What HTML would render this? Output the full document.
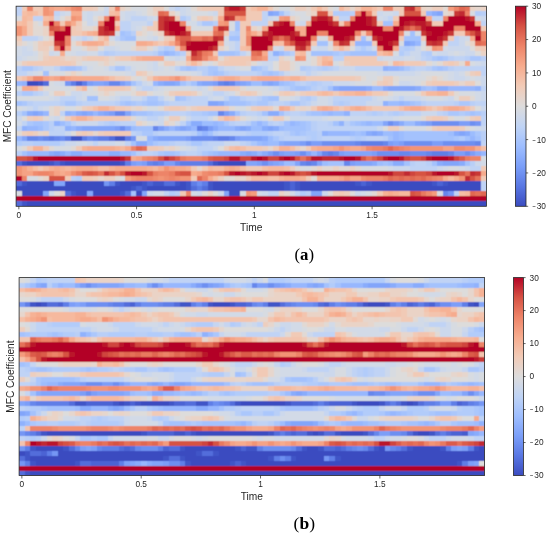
<!DOCTYPE html>
<html><head><meta charset="utf-8"><title>MFC Coefficient</title>
<style>
html,body{margin:0;padding:0;background:#fff}
svg{display:block}
text{font-family:"Liberation Sans",sans-serif;fill:#262626}
.cap{font-family:"Liberation Serif",serif;fill:#000}
</style></head><body>
<svg width="550" height="537" viewBox="0 0 550 537">
<defs><linearGradient id="cw" x1="0" y1="0" x2="0" y2="1"><stop offset="0" stop-color="#b40426"/><stop offset="0.1" stop-color="#d65244"/><stop offset="0.2" stop-color="#ee8468"/><stop offset="0.3" stop-color="#f7ac8e"/><stop offset="0.4" stop-color="#f2cbb7"/><stop offset="0.5" stop-color="#dddcdc"/><stop offset="0.6" stop-color="#c0d4f5"/><stop offset="0.7" stop-color="#9ebeff"/><stop offset="0.8" stop-color="#7b9ff9"/><stop offset="0.9" stop-color="#5977e3"/><stop offset="1" stop-color="#3b4cc0"/></linearGradient>
<filter id="bl" x="-2%" y="-5%" width="104%" height="110%"><feConvolveMatrix order="3" kernelMatrix="1 3 1 3 9 3 1 3 1" divisor="25" edgeMode="duplicate" preserveAlpha="true"/></filter>
<clipPath id="ca"><rect x="16.1" y="6.2" width="470.3" height="200.1"/></clipPath>
<clipPath id="cb"><rect x="19.1" y="277.6" width="465.5" height="197.9"/></clipPath>
</defs>
<rect width="550" height="537" fill="#fff"/>
<g clip-path="url(#ca)"><g shape-rendering="crispEdges" filter="url(#bl)">
<path fill="#3a4cc0" d="M27.04 81.24H37.97V86.24H27.04zM27.04 161.28H48.91V166.28H27.04zM65.32 161.28H120V166.28H65.32zM218.44 161.28H245.78V166.28H218.44zM27.04 181.29H54.38V186.29H27.04zM65.32 181.29H103.6V186.29H65.32zM120 181.29H141.88V186.29H120zM180.16 181.29H185.63V186.29H180.16zM212.97 181.29H284.06V186.29H212.97zM300.47 181.29H355.15V186.29H300.47zM371.56 181.29H431.71V186.29H371.56zM448.12 181.29H480.93V186.29H448.12zM13.1 186.29H130.94V191.29H13.1zM147.35 186.29H185.63V191.29H147.35zM212.97 186.29H284.06V191.29H212.97zM300.47 186.29H480.93V191.29H300.47zM21.57 191.29H43.44V196.3H21.57zM76.25 191.29H87.19V196.3H76.25zM92.66 191.29H120V196.3H92.66zM136.41 191.29H141.88V196.3H136.41zM229.38 191.29H240.31V196.3H229.38zM27.04 201.3H489.4V209.3H27.04z"/>
<path fill="#4054c7" d="M37.97 81.24H43.44V86.24H37.97zM70.79 136.26H81.72V141.27H70.79zM114.53 136.26H125.47V141.27H114.53zM21.57 161.28H27.04V166.28H21.57zM48.91 161.28H54.38V166.28H48.91zM59.85 161.28H65.32V166.28H59.85zM120 161.28H125.47V166.28H120zM212.97 161.28H218.44V166.28H212.97zM21.57 181.29H27.04V186.29H21.57zM114.53 181.29H120V186.29H114.53zM141.88 181.29H147.35V186.29H141.88zM152.82 181.29H163.75V186.29H152.82zM174.69 181.29H180.16V186.29H174.69zM185.63 181.29H191.1V186.29H185.63zM207.5 181.29H212.97V186.29H207.5zM284.06 181.29H289.53V186.29H284.06zM295 181.29H300.47V186.29H295zM355.15 181.29H360.62V186.29H355.15zM366.09 181.29H371.56V186.29H366.09zM431.71 181.29H437.18V186.29H431.71zM442.65 181.29H448.12V186.29H442.65zM130.94 186.29H136.41V191.29H130.94zM141.88 186.29H147.35V191.29H141.88zM185.63 186.29H191.1V191.29H185.63zM207.5 186.29H212.97V191.29H207.5zM284.06 186.29H289.53V191.29H284.06zM295 186.29H300.47V191.29H295zM70.79 191.29H76.25V196.3H70.79zM120 191.29H125.47V196.3H120zM21.57 201.3H27.04V209.3H21.57z"/>
<path fill="#4b64d4" d="M76.25 81.24H81.72V86.24H76.25zM54.38 161.28H59.85V166.28H54.38zM147.35 181.29H152.82V186.29H147.35zM289.53 181.29H295V186.29H289.53zM360.62 181.29H366.09V186.29H360.62zM437.18 181.29H442.65V186.29H437.18zM136.41 186.29H141.88V191.29H136.41zM289.53 186.29H295V191.29H289.53z"/>
<path fill="#526ddb" d="M43.44 81.24H48.91V86.24H43.44zM109.07 136.26H114.53V141.27H109.07zM13.1 161.28H21.57V166.28H13.1zM207.5 161.28H212.97V166.28H207.5zM13.1 181.29H21.57V186.29H13.1zM163.75 181.29H174.69V186.29H163.75zM191.1 186.29H196.56V191.29H191.1zM202.03 186.29H207.5V191.29H202.03zM65.32 191.29H70.79V196.3H65.32zM125.47 191.29H130.94V196.3H125.47zM13.1 201.3H21.57V209.3H13.1z"/>
<path fill="#5f7ee7" d="M70.79 81.24H76.25V86.24H70.79zM81.72 81.24H87.19V86.24H81.72zM223.91 81.24H229.38V86.24H223.91zM196.56 126.26H202.03V131.26H196.56zM48.91 136.26H54.38V141.27H48.91zM65.32 136.26H70.79V141.27H65.32zM81.72 136.26H87.19V141.27H81.72zM98.13 136.26H109.07V141.27H98.13zM125.47 136.26H130.94V141.27H125.47zM218.44 136.26H229.38V141.27H218.44zM360.62 141.27H382.5V146.27H360.62zM327.81 151.27H333.28V156.28H327.81zM431.71 151.27H448.12V156.28H431.71zM125.47 161.28H130.94V166.28H125.47zM152.82 161.28H158.28V166.28H152.82zM180.16 161.28H207.5V166.28H180.16zM305.94 161.28H311.4V166.28H305.94zM109.07 181.29H114.53V186.29H109.07zM191.1 181.29H196.56V186.29H191.1zM202.03 181.29H207.5V186.29H202.03zM196.56 186.29H202.03V191.29H196.56z"/>
<path fill="#6687ec" d="M109.07 81.24H120V86.24H109.07zM218.44 81.24H223.91V86.24H218.44zM229.38 81.24H234.84V86.24H229.38zM114.53 111.25H125.47V116.26H114.53zM218.44 111.25H223.91V116.26H218.44zM152.82 126.26H158.28V131.26H152.82zM202.03 126.26H207.5V131.26H202.03zM27.04 136.26H37.97V141.27H27.04zM43.44 136.26H48.91V141.27H43.44zM54.38 136.26H59.85V141.27H54.38zM92.66 136.26H98.13V141.27H92.66zM212.97 136.26H218.44V141.27H212.97zM229.38 136.26H234.84V141.27H229.38zM355.15 141.27H360.62V146.27H355.15zM382.5 141.27H387.97V146.27H382.5zM475.46 141.27H480.93V146.27H475.46zM322.34 151.27H327.81V156.28H322.34zM333.28 151.27H338.75V156.28H333.28zM398.9 151.27H409.84V156.28H398.9zM426.25 151.27H431.71V156.28H426.25zM448.12 151.27H453.59V156.28H448.12zM147.35 161.28H152.82V166.28H147.35zM158.28 161.28H163.75V166.28H158.28zM174.69 161.28H180.16V166.28H174.69zM300.47 161.28H305.94V166.28H300.47zM311.4 161.28H316.87V166.28H311.4zM344.22 161.28H349.68V166.28H344.22zM442.65 191.29H448.12V196.3H442.65z"/>
<path fill="#6d8ff1" d="M387.97 121.26H393.43V126.26H387.97zM431.71 121.26H459.06V126.26H431.71zM469.99 121.26H475.46V126.26H469.99zM120 126.26H125.47V131.26H120zM37.97 136.26H43.44V141.27H37.97zM59.85 136.26H65.32V141.27H59.85zM87.19 136.26H92.66V141.27H87.19zM191.1 136.26H212.97V141.27H191.1zM305.94 141.27H311.4V146.27H305.94zM322.34 141.27H355.15V146.27H322.34zM404.37 141.27H431.71V146.27H404.37zM442.65 141.27H475.46V146.27H442.65zM273.12 151.27H278.59V156.28H273.12zM300.47 151.27H305.94V156.28H300.47zM377.03 151.27H398.9V156.28H377.03zM409.84 151.27H426.25V156.28H409.84zM464.53 151.27H469.99V156.28H464.53zM262.19 161.28H267.66V166.28H262.19zM196.56 181.29H202.03V186.29H196.56z"/>
<path fill="#7496f4" d="M65.32 81.24H70.79V86.24H65.32zM475.46 121.26H480.93V126.26H475.46zM130.94 136.26H136.41V141.27H130.94zM103.6 181.29H109.07V186.29H103.6zM448.12 191.29H453.59V196.3H448.12z"/>
<path fill="#7b9ef8" d="M87.19 81.24H92.66V86.24H87.19zM103.6 81.24H109.07V86.24H103.6zM120 81.24H125.47V86.24H120zM212.97 81.24H218.44V86.24H212.97zM234.84 81.24H240.31V86.24H234.84zM109.07 111.25H114.53V116.26H109.07zM223.91 111.25H229.38V116.26H223.91zM393.43 121.26H398.9V126.26H393.43zM426.25 121.26H431.71V126.26H426.25zM459.06 121.26H469.99V126.26H459.06zM114.53 126.26H120V131.26H114.53zM158.28 126.26H163.75V131.26H158.28zM207.5 126.26H212.97V131.26H207.5zM185.63 136.26H191.1V141.27H185.63zM234.84 136.26H240.31V141.27H234.84zM300.47 141.27H305.94V146.27H300.47zM311.4 141.27H322.34V146.27H311.4zM387.97 141.27H393.43V146.27H387.97zM398.9 141.27H404.37V146.27H398.9zM431.71 141.27H442.65V146.27H431.71zM267.66 151.27H273.12V156.28H267.66zM278.59 151.27H284.06V156.28H278.59zM295 151.27H300.47V156.28H295zM338.75 151.27H344.22V156.28H338.75zM371.56 151.27H377.03V156.28H371.56zM453.59 151.27H464.53V156.28H453.59zM469.99 151.27H475.46V156.28H469.99zM130.94 161.28H136.41V166.28H130.94zM141.88 161.28H147.35V166.28H141.88zM163.75 161.28H174.69V166.28H163.75zM256.72 161.28H262.19V166.28H256.72zM267.66 161.28H273.12V166.28H267.66zM349.68 161.28H355.15V166.28H349.68z"/>
<path fill="#82a5fa" d="M267.66 11.2H273.12V16.21H267.66zM437.18 11.2H442.65V16.21H437.18zM404.37 41.22H409.84V46.22H404.37zM92.66 81.24H103.6V86.24H92.66zM163.75 81.24H174.69V86.24H163.75zM202.03 81.24H212.97V86.24H202.03zM240.31 81.24H245.78V86.24H240.31zM267.66 81.24H273.12V86.24H267.66zM338.75 86.24H366.09V91.24H338.75zM387.97 86.24H415.31V91.24H387.97zM207.5 101.25H218.44V106.25H207.5zM32.51 111.25H37.97V116.26H32.51zM81.72 111.25H87.19V116.26H81.72zM103.6 111.25H109.07V116.26H103.6zM125.47 111.25H130.94V116.26H125.47zM382.5 121.26H387.97V126.26H382.5zM420.78 121.26H426.25V126.26H420.78zM81.72 126.26H114.53V131.26H81.72zM125.47 126.26H130.94V131.26H125.47zM180.16 126.26H185.63V131.26H180.16zM240.31 126.26H245.78V131.26H240.31zM267.66 126.26H273.12V131.26H267.66zM371.56 131.26H377.03V136.26H371.56zM459.06 131.26H464.53V136.26H459.06zM21.57 136.26H27.04V141.27H21.57zM158.28 136.26H185.63V141.27H158.28zM240.31 136.26H262.19V141.27H240.31zM284.06 141.27H300.47V146.27H284.06zM393.43 141.27H398.9V146.27H393.43zM54.38 151.27H59.85V156.28H54.38zM245.78 151.27H251.25V156.28H245.78zM284.06 151.27H295V156.28H284.06zM305.94 151.27H311.4V156.28H305.94zM316.87 151.27H322.34V156.28H316.87zM344.22 151.27H371.56V156.28H344.22zM136.41 161.28H141.88V166.28H136.41zM245.78 161.28H256.72V166.28H245.78zM273.12 161.28H278.59V166.28H273.12zM295 161.28H300.47V166.28H295zM316.87 161.28H322.34V166.28H316.87zM355.15 161.28H371.56V166.28H355.15zM442.65 161.28H459.06V166.28H442.65zM54.38 181.29H65.32V186.29H54.38zM43.44 191.29H48.91V196.3H43.44zM87.19 191.29H92.66V196.3H87.19zM141.88 191.29H147.35V196.3H141.88zM223.91 191.29H229.38V196.3H223.91zM311.4 191.29H322.34V196.3H311.4z"/>
<path fill="#89acfc" d="M273.12 11.2H278.59V16.21H273.12zM431.71 11.2H437.18V16.21H431.71zM409.84 41.22H415.31V46.22H409.84zM125.47 81.24H130.94V86.24H125.47zM158.28 81.24H163.75V86.24H158.28zM174.69 81.24H180.16V86.24H174.69zM196.56 81.24H202.03V86.24H196.56zM245.78 81.24H251.25V86.24H245.78zM262.19 81.24H267.66V86.24H262.19zM273.12 81.24H278.59V86.24H273.12zM333.28 86.24H338.75V91.24H333.28zM366.09 86.24H371.56V91.24H366.09zM382.5 86.24H387.97V91.24H382.5zM415.31 86.24H420.78V91.24H415.31zM437.18 86.24H448.12V91.24H437.18zM218.44 101.25H223.91V106.25H218.44zM27.04 111.25H32.51V116.26H27.04zM37.97 111.25H43.44V116.26H37.97zM76.25 111.25H81.72V116.26H76.25zM87.19 111.25H92.66V116.26H87.19zM98.13 111.25H103.6V116.26H98.13zM229.38 111.25H234.84V116.26H229.38zM267.66 111.25H278.59V116.26H267.66zM191.1 121.26H202.03V126.26H191.1zM398.9 121.26H404.37V126.26H398.9zM415.31 121.26H420.78V126.26H415.31zM76.25 126.26H81.72V131.26H76.25zM163.75 126.26H169.22V131.26H163.75zM174.69 126.26H180.16V131.26H174.69zM185.63 126.26H191.1V131.26H185.63zM212.97 126.26H218.44V131.26H212.97zM234.84 126.26H240.31V131.26H234.84zM245.78 126.26H251.25V131.26H245.78zM262.19 126.26H267.66V131.26H262.19zM273.12 126.26H278.59V131.26H273.12zM366.09 131.26H371.56V136.26H366.09zM377.03 131.26H382.5V136.26H377.03zM453.59 131.26H459.06V136.26H453.59zM464.53 131.26H469.99V136.26H464.53zM152.82 136.26H158.28V141.27H152.82zM262.19 136.26H267.66V141.27H262.19zM136.41 141.27H147.35V146.27H136.41zM278.59 141.27H284.06V146.27H278.59zM48.91 151.27H54.38V156.28H48.91zM59.85 151.27H65.32V156.28H59.85zM70.79 151.27H81.72V156.28H70.79zM109.07 151.27H120V156.28H109.07zM240.31 151.27H245.78V156.28H240.31zM251.25 151.27H256.72V156.28H251.25zM262.19 151.27H267.66V156.28H262.19zM475.46 151.27H480.93V156.28H475.46zM278.59 161.28H284.06V166.28H278.59zM371.56 161.28H377.03V166.28H371.56zM393.43 161.28H404.37V166.28H393.43zM437.18 161.28H442.65V166.28H437.18zM459.06 161.28H464.53V166.28H459.06z"/>
<path fill="#90b2fd" d="M273.12 51.22H278.59V56.23H273.12zM382.5 66.23H387.97V71.23H382.5zM21.57 81.24H27.04V86.24H21.57zM475.46 86.24H480.93V91.24H475.46zM382.5 101.25H387.97V106.25H382.5zM65.32 111.25H70.79V116.26H65.32zM344.22 111.25H349.68V116.26H344.22zM54.38 121.26H59.85V126.26H54.38zM338.75 121.26H344.22V126.26H338.75zM21.57 126.26H27.04V131.26H21.57zM65.32 126.26H70.79V131.26H65.32zM322.34 131.26H327.81V136.26H322.34z"/>
<path fill="#97b7fe" d="M426.25 11.2H431.71V16.21H426.25zM355.15 41.22H371.56V46.22H355.15zM415.31 41.22H420.78V46.22H415.31zM163.75 51.22H169.22V56.23H163.75zM387.97 66.23H398.9V71.23H387.97zM13.1 81.24H21.57V86.24H13.1zM152.82 81.24H158.28V86.24H152.82zM448.12 86.24H475.46V91.24H448.12zM398.9 101.25H404.37V106.25H398.9zM43.44 111.25H48.91V116.26H43.44zM70.79 111.25H76.25V116.26H70.79zM92.66 111.25H98.13V116.26H92.66zM327.81 111.25H333.28V116.26H327.81zM212.97 121.26H218.44V126.26H212.97zM256.72 121.26H262.19V126.26H256.72zM289.53 121.26H295V126.26H289.53zM366.09 121.26H371.56V126.26H366.09zM27.04 126.26H37.97V131.26H27.04zM70.79 126.26H76.25V131.26H70.79zM169.22 126.26H174.69V131.26H169.22zM191.1 126.26H196.56V131.26H191.1zM218.44 126.26H234.84V131.26H218.44zM202.03 131.26H207.5V136.26H202.03zM327.81 131.26H349.68V136.26H327.81zM393.43 131.26H398.9V136.26H393.43zM13.1 136.26H21.57V141.27H13.1zM147.35 136.26H152.82V141.27H147.35zM393.43 136.26H398.9V141.27H393.43zM469.99 136.26H475.46V141.27H469.99zM262.19 141.27H267.66V146.27H262.19zM27.04 151.27H48.91V156.28H27.04zM65.32 151.27H70.79V156.28H65.32zM81.72 151.27H109.07V156.28H81.72zM120 151.27H130.94V156.28H120zM218.44 151.27H240.31V156.28H218.44zM256.72 151.27H262.19V156.28H256.72zM311.4 151.27H316.87V156.28H311.4zM480.93 151.27H489.4V156.28H480.93z"/>
<path fill="#9dbdfe" d="M169.22 51.22H174.69V56.23H169.22zM278.59 51.22H284.06V56.23H278.59zM398.9 66.23H404.37V71.23H398.9zM251.25 81.24H262.19V86.24H251.25zM278.59 81.24H284.06V86.24H278.59zM371.56 86.24H382.5V91.24H371.56zM420.78 86.24H426.25V91.24H420.78zM431.71 86.24H437.18V91.24H431.71zM223.91 101.25H229.38V106.25H223.91zM387.97 101.25H398.9V106.25H387.97zM404.37 101.25H409.84V106.25H404.37zM130.94 111.25H136.41V116.26H130.94zM322.34 111.25H327.81V116.26H322.34zM333.28 111.25H344.22V116.26H333.28zM59.85 121.26H65.32V126.26H59.85zM202.03 121.26H212.97V126.26H202.03zM218.44 121.26H223.91V126.26H218.44zM295 121.26H300.47V126.26H295zM360.62 121.26H366.09V126.26H360.62zM371.56 121.26H382.5V126.26H371.56zM404.37 121.26H415.31V126.26H404.37zM37.97 126.26H43.44V131.26H37.97zM130.94 126.26H136.41V131.26H130.94zM251.25 126.26H262.19V131.26H251.25zM278.59 126.26H284.06V131.26H278.59zM349.68 131.26H355.15V136.26H349.68zM360.62 131.26H366.09V136.26H360.62zM382.5 131.26H393.43V136.26H382.5zM398.9 131.26H404.37V136.26H398.9zM448.12 131.26H453.59V136.26H448.12zM469.99 131.26H475.46V136.26H469.99zM267.66 136.26H273.12V141.27H267.66zM398.9 136.26H404.37V141.27H398.9zM147.35 141.27H152.82V146.27H147.35zM256.72 141.27H262.19V146.27H256.72zM267.66 141.27H278.59V146.27H267.66zM212.97 151.27H218.44V156.28H212.97zM284.06 161.28H295V166.28H284.06zM322.34 161.28H327.81V166.28H322.34zM377.03 161.28H382.5V166.28H377.03zM387.97 161.28H393.43V166.28H387.97z"/>
<path fill="#a4c2fd" d="M278.59 11.2H284.06V16.21H278.59zM234.84 21.21H240.31V26.21H234.84zM382.5 21.21H393.43V26.21H382.5zM234.84 26.21H240.31V31.21H234.84zM120 31.21H125.47V36.22H120zM409.84 31.21H415.31V36.22H409.84zM125.47 36.22H136.41V41.22H125.47zM229.38 36.22H240.31V41.22H229.38zM360.62 36.22H366.09V41.22H360.62zM404.37 36.22H420.78V41.22H404.37zM316.87 41.22H327.81V46.22H316.87zM158.28 51.22H163.75V56.23H158.28zM218.44 51.22H234.84V56.23H218.44zM311.4 51.22H333.28V56.23H311.4zM349.68 51.22H377.03V56.23H349.68zM437.18 56.23H442.65V61.23H437.18zM65.32 66.23H76.25V71.23H65.32zM185.63 66.23H191.1V71.23H185.63zM251.25 66.23H256.72V71.23H251.25zM437.18 66.23H442.65V71.23H437.18zM43.44 71.23H48.91V76.24H43.44zM212.97 71.23H218.44V76.24H212.97zM267.66 71.23H273.12V76.24H267.66zM130.94 81.24H136.41V86.24H130.94zM180.16 81.24H185.63V86.24H180.16zM191.1 81.24H196.56V86.24H191.1zM284.06 81.24H289.53V86.24H284.06zM295 86.24H305.94V91.24H295zM327.81 86.24H333.28V91.24H327.81zM426.25 86.24H431.71V91.24H426.25zM87.19 96.25H98.13V101.25H87.19zM174.69 96.25H180.16V101.25H174.69zM267.66 96.25H278.59V101.25H267.66zM13.1 101.25H21.57V106.25H13.1zM125.47 101.25H130.94V106.25H125.47zM147.35 101.25H158.28V106.25H147.35zM229.38 101.25H245.78V106.25H229.38zM409.84 101.25H415.31V106.25H409.84zM21.57 111.25H27.04V116.26H21.57zM136.41 111.25H147.35V116.26H136.41zM207.5 111.25H218.44V116.26H207.5zM234.84 111.25H240.31V116.26H234.84zM262.19 111.25H267.66V116.26H262.19zM278.59 111.25H284.06V116.26H278.59zM311.4 111.25H322.34V116.26H311.4zM469.99 111.25H475.46V116.26H469.99zM32.51 121.26H43.44V126.26H32.51zM185.63 121.26H191.1V126.26H185.63zM251.25 121.26H256.72V126.26H251.25zM262.19 121.26H267.66V126.26H262.19zM284.06 121.26H289.53V126.26H284.06zM300.47 121.26H305.94V126.26H300.47zM333.28 121.26H338.75V126.26H333.28zM355.15 121.26H360.62V126.26H355.15zM136.41 126.26H152.82V131.26H136.41zM284.06 126.26H305.94V131.26H284.06zM196.56 131.26H202.03V136.26H196.56zM207.5 131.26H212.97V136.26H207.5zM295 131.26H300.47V136.26H295zM355.15 131.26H360.62V136.26H355.15zM404.37 131.26H448.12V136.26H404.37zM387.97 136.26H393.43V141.27H387.97zM404.37 136.26H453.59V141.27H404.37zM464.53 136.26H469.99V141.27H464.53zM475.46 136.26H480.93V141.27H475.46zM130.94 141.27H136.41V146.27H130.94zM21.57 151.27H27.04V156.28H21.57zM130.94 151.27H136.41V156.28H130.94zM163.75 151.27H174.69V156.28H163.75zM207.5 151.27H212.97V156.28H207.5zM327.81 161.28H344.22V166.28H327.81zM382.5 161.28H387.97V166.28H382.5zM404.37 161.28H409.84V166.28H404.37zM431.71 161.28H437.18V166.28H431.71zM464.53 161.28H469.99V166.28H464.53zM130.94 191.29H136.41V196.3H130.94z"/>
<path fill="#abc7fc" d="M202.03 21.21H212.97V26.21H202.03zM125.47 31.21H130.94V36.22H125.47zM120 36.22H125.47V41.22H120zM174.69 51.22H180.16V56.23H174.69zM234.84 51.22H240.31V56.23H234.84zM284.06 51.22H289.53V56.23H284.06zM333.28 51.22H338.75V56.23H333.28zM344.22 51.22H349.68V56.23H344.22zM431.71 56.23H437.18V61.23H431.71zM442.65 56.23H448.12V61.23H442.65zM469.99 56.23H480.93V61.23H469.99zM21.57 66.23H32.51V71.23H21.57zM59.85 66.23H65.32V71.23H59.85zM76.25 66.23H81.72V71.23H76.25zM114.53 66.23H125.47V71.23H114.53zM180.16 66.23H185.63V71.23H180.16zM191.1 66.23H196.56V71.23H191.1zM207.5 66.23H218.44V71.23H207.5zM256.72 66.23H262.19V71.23H256.72zM404.37 66.23H409.84V71.23H404.37zM431.71 66.23H437.18V71.23H431.71zM442.65 66.23H448.12V71.23H442.65zM207.5 71.23H212.97V76.24H207.5zM218.44 71.23H223.91V76.24H218.44zM262.19 71.23H267.66V76.24H262.19zM273.12 71.23H278.59V76.24H273.12zM289.53 81.24H295V86.24H289.53zM289.53 86.24H295V91.24H289.53zM305.94 86.24H311.4V91.24H305.94zM21.57 91.24H32.51V96.25H21.57zM147.35 96.25H158.28V101.25H147.35zM180.16 96.25H185.63V101.25H180.16zM229.38 96.25H240.31V101.25H229.38zM262.19 96.25H267.66V101.25H262.19zM21.57 101.25H27.04V106.25H21.57zM65.32 101.25H76.25V106.25H65.32zM120 101.25H125.47V106.25H120zM130.94 101.25H136.41V106.25H130.94zM141.88 101.25H147.35V106.25H141.88zM158.28 101.25H163.75V106.25H158.28zM245.78 101.25H251.25V106.25H245.78zM256.72 101.25H267.66V106.25H256.72zM289.53 101.25H300.47V106.25H289.53zM415.31 101.25H420.78V106.25H415.31zM459.06 101.25H469.99V106.25H459.06zM147.35 111.25H152.82V116.26H147.35zM202.03 111.25H207.5V116.26H202.03zM305.94 111.25H311.4V116.26H305.94zM448.12 111.25H459.06V116.26H448.12zM464.53 111.25H469.99V116.26H464.53zM475.46 111.25H480.93V116.26H475.46zM27.04 121.26H32.51V126.26H27.04zM43.44 121.26H48.91V126.26H43.44zM65.32 121.26H70.79V126.26H65.32zM223.91 121.26H229.38V126.26H223.91zM305.94 121.26H311.4V126.26H305.94zM349.68 121.26H355.15V126.26H349.68zM43.44 126.26H48.91V131.26H43.44zM305.94 126.26H311.4V131.26H305.94zM141.88 131.26H152.82V136.26H141.88zM289.53 131.26H295V136.26H289.53zM300.47 131.26H305.94V136.26H300.47zM475.46 131.26H480.93V136.26H475.46zM273.12 136.26H278.59V141.27H273.12zM453.59 136.26H459.06V141.27H453.59zM152.82 141.27H158.28V146.27H152.82zM191.1 141.27H202.03V146.27H191.1zM251.25 141.27H256.72V146.27H251.25zM158.28 151.27H163.75V156.28H158.28zM174.69 151.27H180.16V156.28H174.69zM202.03 151.27H207.5V156.28H202.03z"/>
<path fill="#b2ccfa" d="M333.28 11.2H349.68V16.21H333.28zM475.46 11.2H480.93V16.21H475.46zM180.16 16.21H185.63V21.21H180.16zM234.84 31.21H240.31V36.22H234.84zM163.75 46.22H169.22V51.22H163.75zM360.62 46.22H366.09V51.22H360.62zM404.37 46.22H409.84V51.22H404.37zM103.6 51.22H109.07V56.23H103.6zM338.75 51.22H344.22V56.23H338.75zM398.9 51.22H404.37V56.23H398.9zM426.25 51.22H431.71V56.23H426.25zM300.47 66.23H305.94V71.23H300.47zM322.34 66.23H327.81V71.23H322.34zM185.63 81.24H191.1V86.24H185.63zM311.4 81.24H316.87V86.24H311.4zM305.94 96.25H311.4V101.25H305.94zM136.41 101.25H141.88V106.25H136.41zM251.25 101.25H256.72V106.25H251.25zM338.75 101.25H344.22V106.25H338.75zM152.82 111.25H163.75V116.26H152.82zM191.1 111.25H202.03V116.26H191.1zM371.56 111.25H377.03V116.26H371.56zM393.43 111.25H398.9V116.26H393.43zM459.06 111.25H464.53V116.26H459.06zM109.07 121.26H114.53V126.26H109.07zM251.25 131.26H267.66V136.26H251.25zM305.94 131.26H316.87V136.26H305.94zM311.4 136.26H316.87V141.27H311.4zM355.15 136.26H360.62V141.27H355.15zM459.06 136.26H464.53V141.27H459.06zM13.1 141.27H21.57V146.27H13.1zM32.51 141.27H59.85V146.27H32.51zM158.28 141.27H169.22V146.27H158.28zM76.25 176.28H81.72V181.29H76.25zM169.22 191.29H174.69V196.3H169.22zM300.47 191.29H305.94V196.3H300.47z"/>
<path fill="#b9cff7" d="M349.68 11.2H355.15V16.21H349.68zM480.93 11.2H489.4V16.21H480.93zM212.97 21.21H218.44V26.21H212.97zM130.94 31.21H136.41V36.22H130.94zM229.38 31.21H234.84V36.22H229.38zM169.22 46.22H174.69V51.22H169.22zM398.9 46.22H404.37V51.22H398.9zM409.84 46.22H415.31V51.22H409.84zM109.07 51.22H114.53V56.23H109.07zM152.82 51.22H158.28V56.23H152.82zM180.16 51.22H185.63V56.23H180.16zM289.53 51.22H295V56.23H289.53zM420.78 51.22H426.25V56.23H420.78zM426.25 56.23H431.71V61.23H426.25zM448.12 56.23H453.59V61.23H448.12zM464.53 56.23H469.99V61.23H464.53zM480.93 56.23H489.4V61.23H480.93zM13.1 66.23H21.57V71.23H13.1zM32.51 66.23H37.97V71.23H32.51zM196.56 66.23H207.5V71.23H196.56zM262.19 66.23H267.66V71.23H262.19zM305.94 66.23H311.4V71.23H305.94zM316.87 66.23H322.34V71.23H316.87zM327.81 66.23H333.28V71.23H327.81zM409.84 66.23H415.31V71.23H409.84zM426.25 66.23H431.71V71.23H426.25zM448.12 66.23H453.59V71.23H448.12zM202.03 71.23H207.5V76.24H202.03zM223.91 71.23H229.38V76.24H223.91zM256.72 71.23H262.19V76.24H256.72zM278.59 71.23H284.06V76.24H278.59zM136.41 81.24H141.88V86.24H136.41zM295 81.24H300.47V86.24H295zM305.94 81.24H311.4V86.24H305.94zM316.87 81.24H322.34V86.24H316.87zM284.06 86.24H289.53V91.24H284.06zM311.4 86.24H316.87V91.24H311.4zM322.34 86.24H327.81V91.24H322.34zM13.1 91.24H21.57V96.25H13.1zM32.51 91.24H37.97V96.25H32.51zM185.63 96.25H191.1V101.25H185.63zM240.31 96.25H245.78V101.25H240.31zM256.72 96.25H262.19V101.25H256.72zM300.47 96.25H305.94V101.25H300.47zM27.04 101.25H32.51V106.25H27.04zM59.85 101.25H65.32V106.25H59.85zM76.25 101.25H81.72V106.25H76.25zM114.53 101.25H120V106.25H114.53zM163.75 101.25H169.22V106.25H163.75zM267.66 101.25H273.12V106.25H267.66zM284.06 101.25H289.53V106.25H284.06zM300.47 101.25H305.94V106.25H300.47zM333.28 101.25H338.75V106.25H333.28zM344.22 101.25H349.68V106.25H344.22zM420.78 101.25H426.25V106.25H420.78zM453.59 101.25H459.06V106.25H453.59zM469.99 101.25H475.46V106.25H469.99zM13.1 111.25H21.57V116.26H13.1zM163.75 111.25H169.22V116.26H163.75zM185.63 111.25H191.1V116.26H185.63zM240.31 111.25H245.78V116.26H240.31zM256.72 111.25H262.19V116.26H256.72zM284.06 111.25H289.53V116.26H284.06zM300.47 111.25H305.94V116.26H300.47zM366.09 111.25H371.56V116.26H366.09zM377.03 111.25H382.5V116.26H377.03zM387.97 111.25H393.43V116.26H387.97zM398.9 111.25H404.37V116.26H398.9zM442.65 111.25H448.12V116.26H442.65zM480.93 111.25H489.4V116.26H480.93zM48.91 121.26H54.38V126.26H48.91zM103.6 121.26H109.07V126.26H103.6zM114.53 121.26H120V126.26H114.53zM229.38 121.26H234.84V126.26H229.38zM245.78 121.26H251.25V126.26H245.78zM267.66 121.26H273.12V126.26H267.66zM278.59 121.26H284.06V126.26H278.59zM311.4 121.26H316.87V126.26H311.4zM327.81 121.26H333.28V126.26H327.81zM344.22 121.26H349.68V126.26H344.22zM48.91 126.26H54.38V131.26H48.91zM311.4 126.26H316.87V131.26H311.4zM136.41 131.26H141.88V136.26H136.41zM152.82 131.26H158.28V136.26H152.82zM191.1 131.26H196.56V136.26H191.1zM212.97 131.26H218.44V136.26H212.97zM245.78 131.26H251.25V136.26H245.78zM267.66 131.26H273.12V136.26H267.66zM284.06 131.26H289.53V136.26H284.06zM316.87 131.26H322.34V136.26H316.87zM480.93 131.26H489.4V136.26H480.93zM278.59 136.26H284.06V141.27H278.59zM305.94 136.26H311.4V141.27H305.94zM316.87 136.26H322.34V141.27H316.87zM349.68 136.26H355.15V141.27H349.68zM360.62 136.26H366.09V141.27H360.62zM382.5 136.26H387.97V141.27H382.5zM480.93 136.26H489.4V141.27H480.93zM21.57 141.27H32.51V146.27H21.57zM169.22 141.27H174.69V146.27H169.22zM185.63 141.27H191.1V146.27H185.63zM202.03 141.27H207.5V146.27H202.03zM245.78 141.27H251.25V146.27H245.78zM13.1 151.27H21.57V156.28H13.1zM136.41 151.27H141.88V156.28H136.41zM152.82 151.27H158.28V156.28H152.82zM180.16 151.27H185.63V156.28H180.16zM196.56 151.27H202.03V156.28H196.56zM409.84 161.28H415.31V166.28H409.84zM426.25 161.28H431.71V166.28H426.25zM469.99 161.28H475.46V166.28H469.99zM70.79 176.28H76.25V181.29H70.79zM174.69 191.29H180.16V196.3H174.69zM305.94 191.29H311.4V196.3H305.94z"/>
<path fill="#c0d3f5" d="M13.1 3.2H21.57V11.2H13.1zM174.69 3.2H180.16V11.2H174.69zM13.1 11.2H21.57V16.21H13.1zM54.38 11.2H59.85V16.21H54.38zM262.19 11.2H267.66V16.21H262.19zM284.06 11.2H289.53V16.21H284.06zM32.51 16.21H43.44V21.21H32.51zM130.94 16.21H147.35V21.21H130.94zM185.63 16.21H191.1V21.21H185.63zM262.19 16.21H267.66V21.21H262.19zM338.75 16.21H349.68V21.21H338.75zM387.97 16.21H393.43V21.21H387.97zM431.71 16.21H442.65V21.21H431.71zM120 21.21H130.94V26.21H120zM147.35 21.21H152.82V26.21H147.35zM196.56 21.21H202.03V26.21H196.56zM251.25 21.21H267.66V26.21H251.25zM480.93 21.21H489.4V26.21H480.93zM120 26.21H130.94V31.21H120zM21.57 36.22H37.97V41.22H21.57zM81.72 36.22H87.19V41.22H81.72zM114.53 36.22H120V41.22H114.53zM453.59 36.22H459.06V41.22H453.59zM234.84 41.22H240.31V46.22H234.84zM448.12 41.22H459.06V46.22H448.12zM158.28 46.22H163.75V51.22H158.28zM234.84 46.22H240.31V51.22H234.84zM355.15 46.22H360.62V51.22H355.15zM366.09 46.22H371.56V51.22H366.09zM98.13 51.22H103.6V56.23H98.13zM114.53 51.22H152.82V56.23H114.53zM240.31 51.22H245.78V56.23H240.31zM267.66 51.22H273.12V56.23H267.66zM404.37 51.22H409.84V56.23H404.37zM267.66 56.23H278.59V61.23H267.66zM333.28 56.23H344.22V61.23H333.28zM420.78 56.23H426.25V61.23H420.78zM453.59 56.23H464.53V61.23H453.59zM37.97 66.23H43.44V71.23H37.97zM54.38 66.23H59.85V71.23H54.38zM81.72 66.23H87.19V71.23H81.72zM109.07 66.23H114.53V71.23H109.07zM125.47 66.23H130.94V71.23H125.47zM174.69 66.23H180.16V71.23H174.69zM218.44 66.23H223.91V71.23H218.44zM311.4 66.23H316.87V71.23H311.4zM333.28 66.23H338.75V71.23H333.28zM355.15 66.23H382.5V71.23H355.15zM415.31 66.23H426.25V71.23H415.31zM453.59 66.23H489.4V71.23H453.59zM13.1 71.23H27.04V76.24H13.1zM229.38 71.23H256.72V76.24H229.38zM305.94 71.23H311.4V76.24H305.94zM480.93 71.23H489.4V76.24H480.93zM300.47 81.24H305.94V86.24H300.47zM322.34 81.24H333.28V86.24H322.34zM141.88 86.24H152.82V91.24H141.88zM278.59 86.24H284.06V91.24H278.59zM316.87 86.24H322.34V91.24H316.87zM480.93 86.24H489.4V91.24H480.93zM37.97 91.24H43.44V96.25H37.97zM212.97 91.24H223.91V96.25H212.97zM59.85 96.25H76.25V101.25H59.85zM120 96.25H130.94V101.25H120zM141.88 96.25H147.35V101.25H141.88zM158.28 96.25H163.75V101.25H158.28zM191.1 96.25H207.5V101.25H191.1zM223.91 96.25H229.38V101.25H223.91zM245.78 96.25H256.72V101.25H245.78zM311.4 96.25H316.87V101.25H311.4zM333.28 96.25H371.56V101.25H333.28zM398.9 96.25H404.37V101.25H398.9zM32.51 101.25H59.85V106.25H32.51zM81.72 101.25H114.53V106.25H81.72zM169.22 101.25H207.5V106.25H169.22zM273.12 101.25H284.06V106.25H273.12zM305.94 101.25H311.4V106.25H305.94zM349.68 101.25H366.09V106.25H349.68zM426.25 101.25H453.59V106.25H426.25zM475.46 101.25H489.4V106.25H475.46zM32.51 106.25H37.97V111.25H32.51zM59.85 111.25H65.32V116.26H59.85zM169.22 111.25H185.63V116.26H169.22zM245.78 111.25H256.72V116.26H245.78zM289.53 111.25H300.47V116.26H289.53zM349.68 111.25H366.09V116.26H349.68zM382.5 111.25H387.97V116.26H382.5zM404.37 111.25H420.78V116.26H404.37zM437.18 111.25H442.65V116.26H437.18zM147.35 116.26H158.28V121.26H147.35zM191.1 116.26H207.5V121.26H191.1zM480.93 116.26H489.4V121.26H480.93zM21.57 121.26H27.04V126.26H21.57zM70.79 121.26H76.25V126.26H70.79zM98.13 121.26H103.6V126.26H98.13zM120 121.26H136.41V126.26H120zM180.16 121.26H185.63V126.26H180.16zM234.84 121.26H245.78V126.26H234.84zM273.12 121.26H278.59V126.26H273.12zM316.87 121.26H327.81V126.26H316.87zM480.93 121.26H489.4V126.26H480.93zM13.1 126.26H21.57V131.26H13.1zM54.38 126.26H65.32V131.26H54.38zM316.87 126.26H377.03V131.26H316.87zM48.91 131.26H65.32V136.26H48.91zM130.94 131.26H136.41V136.26H130.94zM158.28 131.26H191.1V136.26H158.28zM218.44 131.26H245.78V136.26H218.44zM273.12 131.26H284.06V136.26H273.12zM284.06 136.26H305.94V141.27H284.06zM322.34 136.26H349.68V141.27H322.34zM366.09 136.26H382.5V141.27H366.09zM59.85 141.27H65.32V146.27H59.85zM92.66 141.27H98.13V146.27H92.66zM125.47 141.27H130.94V146.27H125.47zM174.69 141.27H185.63V146.27H174.69zM207.5 141.27H223.91V146.27H207.5zM240.31 141.27H245.78V146.27H240.31zM480.93 141.27H489.4V146.27H480.93zM196.56 146.27H212.97V151.27H196.56zM141.88 151.27H152.82V156.28H141.88zM185.63 151.27H196.56V156.28H185.63zM415.31 161.28H426.25V166.28H415.31zM409.84 166.28H437.18V171.28H409.84zM469.99 166.28H480.93V171.28H469.99zM480.93 181.29H489.4V186.29H480.93zM480.93 186.29H489.4V191.29H480.93zM163.75 191.29H169.22V196.3H163.75zM267.66 191.29H278.59V196.3H267.66zM295 191.29H300.47V196.3H295zM453.59 191.29H459.06V196.3H453.59z"/>
<path fill="#ccd8ec" d="M103.6 3.2H109.07V11.2H103.6zM169.22 3.2H174.69V11.2H169.22zM180.16 3.2H185.63V11.2H180.16zM59.85 11.2H65.32V16.21H59.85zM87.19 11.2H92.66V16.21H87.19zM103.6 11.2H109.07V16.21H103.6zM125.47 11.2H136.41V16.21H125.47zM180.16 11.2H185.63V16.21H180.16zM212.97 11.2H218.44V16.21H212.97zM377.03 11.2H382.5V16.21H377.03zM393.43 11.2H398.9V16.21H393.43zM54.38 16.21H59.85V21.21H54.38zM87.19 16.21H92.66V21.21H87.19zM125.47 16.21H130.94V21.21H125.47zM147.35 16.21H152.82V21.21H147.35zM267.66 16.21H273.12V21.21H267.66zM382.5 16.21H387.97V21.21H382.5zM480.93 16.21H489.4V21.21H480.93zM87.19 21.21H92.66V26.21H87.19zM130.94 21.21H147.35V26.21H130.94zM300.47 21.21H305.94V26.21H300.47zM130.94 26.21H136.41V31.21H130.94zM37.97 36.22H43.44V41.22H37.97zM76.25 36.22H81.72V41.22H76.25zM87.19 36.22H92.66V41.22H87.19zM152.82 36.22H158.28V41.22H152.82zM459.06 36.22H464.53V41.22H459.06zM229.38 41.22H234.84V46.22H229.38zM459.06 41.22H464.53V46.22H459.06zM21.57 46.22H27.04V51.22H21.57zM103.6 46.22H114.53V51.22H103.6zM229.38 46.22H234.84V51.22H229.38zM278.59 46.22H284.06V51.22H278.59zM316.87 46.22H327.81V51.22H316.87zM415.31 46.22H420.78V51.22H415.31zM448.12 46.22H469.99V51.22H448.12zM21.57 51.22H32.51V56.23H21.57zM48.91 51.22H54.38V56.23H48.91zM76.25 51.22H87.19V56.23H76.25zM409.84 51.22H420.78V56.23H409.84zM437.18 51.22H448.12V56.23H437.18zM464.53 51.22H475.46V56.23H464.53zM13.1 56.23H21.57V61.23H13.1zM174.69 56.23H180.16V61.23H174.69zM377.03 56.23H382.5V61.23H377.03zM393.43 56.23H404.37V61.23H393.43zM415.31 56.23H420.78V61.23H415.31zM152.82 61.23H158.28V66.23H152.82zM262.19 61.23H273.12V66.23H262.19zM480.93 61.23H489.4V66.23H480.93zM43.44 66.23H54.38V71.23H43.44zM152.82 66.23H158.28V71.23H152.82zM223.91 66.23H234.84V71.23H223.91zM267.66 66.23H273.12V71.23H267.66zM338.75 66.23H355.15V71.23H338.75zM27.04 71.23H32.51V76.24H27.04zM130.94 71.23H136.41V76.24H130.94zM196.56 71.23H202.03V76.24H196.56zM284.06 71.23H289.53V76.24H284.06zM300.47 71.23H305.94V76.24H300.47zM311.4 71.23H316.87V76.24H311.4zM382.5 71.23H415.31V76.24H382.5zM453.59 71.23H459.06V76.24H453.59zM453.59 76.24H464.53V81.24H453.59zM480.93 76.24H489.4V81.24H480.93zM59.85 81.24H65.32V86.24H59.85zM141.88 81.24H147.35V86.24H141.88zM333.28 81.24H349.68V86.24H333.28zM398.9 81.24H409.84V86.24H398.9zM480.93 81.24H489.4V86.24H480.93zM136.41 86.24H141.88V91.24H136.41zM152.82 86.24H158.28V91.24H152.82zM196.56 86.24H202.03V91.24H196.56zM273.12 86.24H278.59V91.24H273.12zM43.44 91.24H48.91V96.25H43.44zM70.79 91.24H81.72V96.25H70.79zM207.5 91.24H212.97V96.25H207.5zM223.91 91.24H229.38V96.25H223.91zM480.93 91.24H489.4V96.25H480.93zM54.38 96.25H59.85V101.25H54.38zM76.25 96.25H81.72V101.25H76.25zM114.53 96.25H120V101.25H114.53zM130.94 96.25H141.88V101.25H130.94zM207.5 96.25H212.97V101.25H207.5zM295 96.25H300.47V101.25H295zM327.81 96.25H333.28V101.25H327.81zM371.56 96.25H377.03V101.25H371.56zM393.43 96.25H398.9V101.25H393.43zM404.37 96.25H420.78V101.25H404.37zM448.12 96.25H453.59V101.25H448.12zM480.93 96.25H489.4V101.25H480.93zM311.4 101.25H316.87V106.25H311.4zM327.81 101.25H333.28V106.25H327.81zM366.09 101.25H382.5V106.25H366.09zM27.04 106.25H32.51V111.25H27.04zM37.97 106.25H43.44V111.25H37.97zM480.93 106.25H489.4V111.25H480.93zM420.78 111.25H437.18V116.26H420.78zM13.1 116.26H21.57V121.26H13.1zM54.38 116.26H59.85V121.26H54.38zM141.88 116.26H147.35V121.26H141.88zM158.28 116.26H163.75V121.26H158.28zM185.63 116.26H191.1V121.26H185.63zM207.5 116.26H212.97V121.26H207.5zM256.72 116.26H262.19V121.26H256.72zM289.53 116.26H322.34V121.26H289.53zM349.68 116.26H393.43V121.26H349.68zM76.25 121.26H98.13V126.26H76.25zM158.28 121.26H163.75V126.26H158.28zM377.03 126.26H382.5V131.26H377.03zM480.93 126.26H489.4V131.26H480.93zM65.32 131.26H70.79V136.26H65.32zM65.32 141.27H76.25V146.27H65.32zM87.19 141.27H92.66V146.27H87.19zM98.13 141.27H114.53V146.27H98.13zM223.91 141.27H240.31V146.27H223.91zM191.1 146.27H196.56V151.27H191.1zM212.97 146.27H218.44V151.27H212.97zM475.46 161.28H480.93V166.28H475.46zM393.43 166.28H409.84V171.28H393.43zM437.18 166.28H442.65V171.28H437.18zM464.53 166.28H469.99V171.28H464.53zM48.91 191.29H54.38V196.3H48.91zM147.35 191.29H152.82V196.3H147.35zM196.56 191.29H202.03V196.3H196.56zM218.44 191.29H223.91V196.3H218.44zM262.19 191.29H267.66V196.3H262.19zM322.34 191.29H327.81V196.3H322.34zM355.15 191.29H360.62V196.3H355.15z"/>
<path fill="#d2dae7" d="M185.63 3.2H191.1V11.2H185.63zM65.32 11.2H70.79V16.21H65.32zM81.72 11.2H87.19V16.21H81.72zM92.66 11.2H103.6V16.21H92.66zM120 11.2H125.47V16.21H120zM136.41 11.2H141.88V16.21H136.41zM185.63 11.2H191.1V16.21H185.63zM207.5 11.2H212.97V16.21H207.5zM289.53 11.2H295V16.21H289.53zM382.5 11.2H393.43V16.21H382.5zM81.72 16.21H87.19V21.21H81.72zM120 16.21H125.47V21.21H120zM152.82 16.21H158.28V21.21H152.82zM273.12 16.21H278.59V21.21H273.12zM377.03 16.21H382.5V21.21H377.03zM475.46 16.21H480.93V21.21H475.46zM92.66 21.21H98.13V26.21H92.66zM191.1 21.21H196.56V26.21H191.1zM295 21.21H300.47V26.21H295zM136.41 26.21H141.88V31.21H136.41zM70.79 36.22H76.25V41.22H70.79zM109.07 36.22H114.53V41.22H109.07zM147.35 36.22H152.82V41.22H147.35zM464.53 36.22H469.99V41.22H464.53zM223.91 41.22H229.38V46.22H223.91zM13.1 46.22H21.57V51.22H13.1zM27.04 46.22H32.51V51.22H27.04zM114.53 46.22H120V51.22H114.53zM152.82 46.22H158.28V51.22H152.82zM273.12 46.22H278.59V51.22H273.12zM311.4 46.22H316.87V51.22H311.4zM371.56 46.22H377.03V51.22H371.56zM442.65 46.22H448.12V51.22H442.65zM13.1 51.22H21.57V56.23H13.1zM32.51 51.22H37.97V56.23H32.51zM54.38 51.22H59.85V56.23H54.38zM70.79 51.22H76.25V56.23H70.79zM87.19 51.22H98.13V56.23H87.19zM245.78 51.22H251.25V56.23H245.78zM431.71 51.22H437.18V56.23H431.71zM448.12 51.22H453.59V56.23H448.12zM459.06 51.22H464.53V56.23H459.06zM21.57 56.23H27.04V61.23H21.57zM169.22 56.23H174.69V61.23H169.22zM180.16 56.23H185.63V61.23H180.16zM382.5 56.23H393.43V61.23H382.5zM404.37 56.23H415.31V61.23H404.37zM147.35 61.23H152.82V66.23H147.35zM256.72 61.23H262.19V66.23H256.72zM475.46 61.23H480.93V66.23H475.46zM87.19 66.23H92.66V71.23H87.19zM103.6 66.23H109.07V71.23H103.6zM130.94 66.23H136.41V71.23H130.94zM147.35 66.23H152.82V71.23H147.35zM158.28 66.23H163.75V71.23H158.28zM169.22 66.23H174.69V71.23H169.22zM234.84 66.23H240.31V71.23H234.84zM32.51 71.23H37.97V76.24H32.51zM125.47 71.23H130.94V76.24H125.47zM191.1 71.23H196.56V76.24H191.1zM289.53 71.23H300.47V76.24H289.53zM316.87 71.23H322.34V76.24H316.87zM377.03 71.23H382.5V76.24H377.03zM415.31 71.23H420.78V76.24H415.31zM448.12 71.23H453.59V76.24H448.12zM459.06 71.23H464.53V76.24H459.06zM448.12 76.24H453.59V81.24H448.12zM464.53 76.24H469.99V81.24H464.53zM475.46 76.24H480.93V81.24H475.46zM54.38 81.24H59.85V86.24H54.38zM147.35 81.24H152.82V86.24H147.35zM349.68 81.24H355.15V86.24H349.68zM409.84 81.24H415.31V86.24H409.84zM158.28 86.24H163.75V91.24H158.28zM191.1 86.24H196.56V91.24H191.1zM202.03 86.24H207.5V91.24H202.03zM267.66 86.24H273.12V91.24H267.66zM81.72 91.24H87.19V96.25H81.72zM202.03 91.24H207.5V96.25H202.03zM229.38 91.24H234.84V96.25H229.38zM475.46 91.24H480.93V96.25H475.46zM48.91 96.25H54.38V101.25H48.91zM81.72 96.25H87.19V101.25H81.72zM109.07 96.25H114.53V101.25H109.07zM163.75 96.25H169.22V101.25H163.75zM212.97 96.25H223.91V101.25H212.97zM289.53 96.25H295V101.25H289.53zM316.87 96.25H327.81V101.25H316.87zM377.03 96.25H382.5V101.25H377.03zM387.97 96.25H393.43V101.25H387.97zM420.78 96.25H426.25V101.25H420.78zM442.65 96.25H448.12V101.25H442.65zM475.46 96.25H480.93V101.25H475.46zM316.87 101.25H327.81V106.25H316.87zM21.57 106.25H27.04V111.25H21.57zM43.44 106.25H48.91V111.25H43.44zM48.91 116.26H54.38V121.26H48.91zM136.41 116.26H141.88V121.26H136.41zM251.25 116.26H256.72V121.26H251.25zM262.19 116.26H267.66V121.26H262.19zM322.34 116.26H327.81V121.26H322.34zM344.22 116.26H349.68V121.26H344.22zM393.43 116.26H398.9V121.26H393.43zM13.1 121.26H21.57V126.26H13.1zM152.82 121.26H158.28V126.26H152.82zM174.69 121.26H180.16V126.26H174.69zM475.46 126.26H480.93V131.26H475.46zM76.25 141.27H87.19V146.27H76.25zM114.53 141.27H125.47V146.27H114.53zM185.63 146.27H191.1V151.27H185.63zM480.93 161.28H489.4V166.28H480.93zM387.97 166.28H393.43V171.28H387.97zM442.65 166.28H448.12V171.28H442.65zM459.06 166.28H464.53V171.28H459.06zM152.82 191.29H163.75V196.3H152.82zM191.1 191.29H196.56V196.3H191.1zM256.72 191.29H262.19V196.3H256.72zM289.53 191.29H295V196.3H289.53zM360.62 191.29H366.09V196.3H360.62z"/>
<path fill="#d7dbe1" d="M130.94 3.2H147.35V11.2H130.94zM278.59 3.2H289.53V11.2H278.59zM333.28 3.2H338.75V11.2H333.28zM141.88 11.2H147.35V16.21H141.88zM191.1 11.2H207.5V16.21H191.1zM295 11.2H305.94V16.21H295zM469.99 11.2H475.46V16.21H469.99zM13.1 16.21H21.57V21.21H13.1zM300.47 16.21H311.4V21.21H300.47zM37.97 21.21H43.44V26.21H37.97zM185.63 21.21H191.1V26.21H185.63zM229.38 21.21H234.84V26.21H229.38zM191.1 26.21H212.97V31.21H191.1zM229.38 26.21H234.84V31.21H229.38zM114.53 31.21H120V36.22H114.53zM147.35 31.21H152.82V36.22H147.35zM404.37 31.21H409.84V36.22H404.37zM415.31 31.21H420.78V36.22H415.31zM136.41 36.22H147.35V41.22H136.41zM223.91 36.22H229.38V41.22H223.91zM316.87 36.22H327.81V41.22H316.87zM366.09 36.22H371.56V41.22H366.09zM27.04 41.22H32.51V46.22H27.04zM114.53 41.22H136.41V46.22H114.53zM327.81 41.22H333.28V46.22H327.81zM398.9 41.22H404.37V46.22H398.9zM420.78 41.22H426.25V46.22H420.78zM70.79 46.22H81.72V51.22H70.79zM120 46.22H130.94V51.22H120zM65.32 51.22H70.79V56.23H65.32zM305.94 51.22H311.4V56.23H305.94zM393.43 51.22H398.9V56.23H393.43zM453.59 51.22H459.06V56.23H453.59zM27.04 56.23H37.97V61.23H27.04zM163.75 56.23H169.22V61.23H163.75zM289.53 56.23H295V61.23H289.53zM305.94 56.23H311.4V61.23H305.94zM81.72 61.23H98.13V66.23H81.72zM114.53 61.23H147.35V66.23H114.53zM207.5 61.23H212.97V66.23H207.5zM295 61.23H311.4V66.23H295zM333.28 61.23H338.75V66.23H333.28zM431.71 61.23H437.18V66.23H431.71zM469.99 61.23H475.46V66.23H469.99zM92.66 66.23H103.6V71.23H92.66zM136.41 66.23H147.35V71.23H136.41zM163.75 66.23H169.22V71.23H163.75zM240.31 66.23H251.25V71.23H240.31zM295 66.23H300.47V71.23H295zM37.97 71.23H43.44V76.24H37.97zM48.91 71.23H65.32V76.24H48.91zM81.72 71.23H125.47V76.24H81.72zM152.82 71.23H191.1V76.24H152.82zM322.34 71.23H377.03V76.24H322.34zM420.78 71.23H448.12V76.24H420.78zM136.41 76.24H141.88V81.24H136.41zM366.09 76.24H377.03V81.24H366.09zM398.9 76.24H426.25V81.24H398.9zM442.65 76.24H448.12V81.24H442.65zM469.99 76.24H475.46V81.24H469.99zM48.91 81.24H54.38V86.24H48.91zM355.15 81.24H371.56V86.24H355.15zM415.31 81.24H420.78V86.24H415.31zM13.1 86.24H21.57V91.24H13.1zM48.91 86.24H70.79V91.24H48.91zM87.19 86.24H92.66V91.24H87.19zM163.75 86.24H191.1V91.24H163.75zM245.78 86.24H267.66V91.24H245.78zM87.19 91.24H98.13V96.25H87.19zM114.53 91.24H130.94V96.25H114.53zM152.82 91.24H163.75V96.25H152.82zM262.19 91.24H273.12V96.25H262.19zM393.43 91.24H415.31V96.25H393.43zM459.06 91.24H475.46V96.25H459.06zM13.1 96.25H48.91V101.25H13.1zM98.13 96.25H109.07V101.25H98.13zM169.22 96.25H174.69V101.25H169.22zM278.59 96.25H289.53V101.25H278.59zM382.5 96.25H387.97V101.25H382.5zM426.25 96.25H442.65V101.25H426.25zM13.1 106.25H21.57V111.25H13.1zM65.32 106.25H76.25V111.25H65.32zM147.35 106.25H158.28V111.25H147.35zM234.84 106.25H245.78V111.25H234.84zM245.78 116.26H251.25V121.26H245.78zM327.81 116.26H344.22V121.26H327.81zM398.9 116.26H420.78V121.26H398.9zM453.59 116.26H464.53V121.26H453.59zM147.35 121.26H152.82V126.26H147.35zM404.37 126.26H426.25V131.26H404.37zM469.99 126.26H475.46V131.26H469.99zM136.41 136.26H147.35V141.27H136.41zM13.1 146.27H21.57V151.27H13.1zM54.38 146.27H70.79V151.27H54.38zM180.16 146.27H185.63V151.27H180.16zM480.93 156.28H489.4V161.28H480.93zM300.47 166.28H311.4V171.28H300.47zM360.62 166.28H387.97V171.28H360.62zM448.12 166.28H459.06V171.28H448.12zM27.04 176.28H37.97V181.29H27.04zM120 176.28H125.47V181.29H120zM13.1 191.29H21.57V196.3H13.1zM240.31 191.29H245.78V196.3H240.31zM366.09 191.29H371.56V196.3H366.09zM437.18 191.29H442.65V196.3H437.18z"/>
<path fill="#dddcdb" d="M98.13 3.2H103.6V11.2H98.13zM163.75 3.2H169.22V11.2H163.75zM174.69 11.2H180.16V16.21H174.69zM59.85 16.21H65.32V21.21H59.85zM92.66 16.21H98.13V21.21H92.66zM191.1 16.21H196.56V21.21H191.1zM81.72 21.21H87.19V26.21H81.72zM43.44 36.22H48.91V41.22H43.44zM92.66 36.22H98.13V41.22H92.66zM158.28 36.22H163.75V41.22H158.28zM464.53 41.22H469.99V46.22H464.53zM98.13 46.22H103.6V51.22H98.13zM223.91 46.22H229.38V51.22H223.91zM327.81 46.22H333.28V51.22H327.81zM349.68 46.22H355.15V51.22H349.68zM420.78 46.22H426.25V51.22H420.78zM469.99 46.22H475.46V51.22H469.99zM475.46 51.22H480.93V56.23H475.46zM158.28 61.23H163.75V66.23H158.28zM273.12 61.23H278.59V66.23H273.12zM273.12 66.23H278.59V71.23H273.12zM393.43 81.24H398.9V86.24H393.43zM475.46 81.24H480.93V86.24H475.46zM130.94 86.24H136.41V91.24H130.94zM48.91 91.24H54.38V96.25H48.91zM65.32 91.24H70.79V96.25H65.32zM453.59 96.25H459.06V101.25H453.59zM475.46 106.25H480.93V111.25H475.46zM21.57 116.26H27.04V121.26H21.57zM59.85 116.26H65.32V121.26H59.85zM163.75 116.26H169.22V121.26H163.75zM180.16 116.26H185.63V121.26H180.16zM212.97 116.26H218.44V121.26H212.97zM284.06 116.26H289.53V121.26H284.06zM382.5 126.26H387.97V131.26H382.5zM70.79 131.26H76.25V136.26H70.79zM218.44 146.27H223.91V151.27H218.44zM54.38 191.29H59.85V196.3H54.38zM202.03 191.29H207.5V196.3H202.03zM212.97 191.29H218.44V196.3H212.97zM327.81 191.29H333.28V196.3H327.81zM349.68 191.29H355.15V196.3H349.68z"/>
<path fill="#e1d9d4" d="M125.47 3.2H130.94V11.2H125.47zM147.35 3.2H152.82V11.2H147.35zM191.1 3.2H196.56V11.2H191.1zM273.12 3.2H278.59V11.2H273.12zM289.53 3.2H295V11.2H289.53zM327.81 3.2H333.28V11.2H327.81zM442.65 3.2H448.12V11.2H442.65zM147.35 11.2H152.82V16.21H147.35zM305.94 11.2H311.4V16.21H305.94zM442.65 11.2H448.12V16.21H442.65zM212.97 16.21H218.44V21.21H212.97zM295 16.21H300.47V21.21H295zM32.51 21.21H37.97V26.21H32.51zM32.51 26.21H43.44V31.21H32.51zM81.72 26.21H92.66V31.21H81.72zM141.88 26.21H147.35V31.21H141.88zM256.72 26.21H262.19V31.21H256.72zM32.51 31.21H43.44V36.22H32.51zM141.88 31.21H147.35V36.22H141.88zM152.82 31.21H158.28V36.22H152.82zM21.57 41.22H27.04V46.22H21.57zM32.51 41.22H37.97V46.22H32.51zM70.79 41.22H76.25V46.22H70.79zM109.07 41.22H114.53V46.22H109.07zM32.51 46.22H37.97V51.22H32.51zM48.91 46.22H54.38V51.22H48.91zM81.72 46.22H87.19V51.22H81.72zM130.94 46.22H136.41V51.22H130.94zM147.35 46.22H152.82V51.22H147.35zM37.97 51.22H43.44V56.23H37.97zM37.97 56.23H43.44V61.23H37.97zM218.44 56.23H223.91V61.23H218.44zM284.06 56.23H289.53V61.23H284.06zM311.4 56.23H316.87V61.23H311.4zM13.1 61.23H21.57V66.23H13.1zM76.25 61.23H81.72V66.23H76.25zM98.13 61.23H103.6V66.23H98.13zM109.07 61.23H114.53V66.23H109.07zM174.69 61.23H185.63V66.23H174.69zM202.03 61.23H207.5V66.23H202.03zM212.97 61.23H218.44V66.23H212.97zM251.25 61.23H256.72V66.23H251.25zM289.53 61.23H295V66.23H289.53zM311.4 61.23H316.87V66.23H311.4zM338.75 61.23H344.22V66.23H338.75zM387.97 61.23H393.43V66.23H387.97zM426.25 61.23H431.71V66.23H426.25zM437.18 61.23H442.65V66.23H437.18zM459.06 61.23H464.53V66.23H459.06zM289.53 66.23H295V71.23H289.53zM65.32 71.23H70.79V76.24H65.32zM76.25 71.23H81.72V76.24H76.25zM147.35 71.23H152.82V76.24H147.35zM464.53 71.23H469.99V76.24H464.53zM130.94 76.24H136.41V81.24H130.94zM141.88 76.24H147.35V81.24H141.88zM360.62 76.24H366.09V81.24H360.62zM377.03 76.24H382.5V81.24H377.03zM393.43 76.24H398.9V81.24H393.43zM426.25 76.24H431.71V81.24H426.25zM437.18 76.24H442.65V81.24H437.18zM371.56 81.24H377.03V86.24H371.56zM420.78 81.24H426.25V86.24H420.78zM43.44 86.24H48.91V91.24H43.44zM70.79 86.24H76.25V91.24H70.79zM92.66 86.24H98.13V91.24H92.66zM207.5 86.24H212.97V91.24H207.5zM240.31 86.24H245.78V91.24H240.31zM98.13 91.24H103.6V96.25H98.13zM109.07 91.24H114.53V96.25H109.07zM130.94 91.24H136.41V96.25H130.94zM147.35 91.24H152.82V96.25H147.35zM163.75 91.24H169.22V96.25H163.75zM196.56 91.24H202.03V96.25H196.56zM234.84 91.24H240.31V96.25H234.84zM256.72 91.24H262.19V96.25H256.72zM273.12 91.24H278.59V96.25H273.12zM387.97 91.24H393.43V96.25H387.97zM415.31 91.24H420.78V96.25H415.31zM453.59 91.24H459.06V96.25H453.59zM469.99 96.25H475.46V101.25H469.99zM48.91 106.25H54.38V111.25H48.91zM59.85 106.25H65.32V111.25H59.85zM76.25 106.25H81.72V111.25H76.25zM141.88 106.25H147.35V111.25H141.88zM158.28 106.25H163.75V111.25H158.28zM229.38 106.25H234.84V111.25H229.38zM245.78 106.25H251.25V111.25H245.78zM273.12 106.25H278.59V111.25H273.12zM48.91 111.25H54.38V116.26H48.91zM43.44 116.26H48.91V121.26H43.44zM130.94 116.26H136.41V121.26H130.94zM240.31 116.26H245.78V121.26H240.31zM267.66 116.26H273.12V121.26H267.66zM420.78 116.26H426.25V121.26H420.78zM448.12 116.26H453.59V121.26H448.12zM464.53 116.26H469.99V121.26H464.53zM141.88 121.26H147.35V126.26H141.88zM169.22 121.26H174.69V126.26H169.22zM398.9 126.26H404.37V131.26H398.9zM426.25 126.26H431.71V131.26H426.25zM464.53 126.26H469.99V131.26H464.53zM13.1 131.26H21.57V136.26H13.1zM21.57 146.27H27.04V151.27H21.57zM48.91 146.27H54.38V151.27H48.91zM70.79 146.27H76.25V151.27H70.79zM174.69 146.27H180.16V151.27H174.69zM295 166.28H300.47V171.28H295zM311.4 166.28H316.87V171.28H311.4zM322.34 166.28H333.28V171.28H322.34zM338.75 166.28H349.68V171.28H338.75zM355.15 166.28H360.62V171.28H355.15zM37.97 176.28H43.44V181.29H37.97zM114.53 176.28H120V181.29H114.53zM223.91 176.28H234.84V181.29H223.91zM311.4 176.28H316.87V181.29H311.4zM284.06 191.29H289.53V196.3H284.06zM371.56 191.29H377.03V196.3H371.56z"/>
<path fill="#e6d6cd" d="M305.94 3.2H311.4V11.2H305.94zM349.68 3.2H355.15V11.2H349.68zM426.25 3.2H431.71V11.2H426.25zM475.46 3.2H480.93V11.2H475.46zM65.32 56.23H70.79V61.23H65.32zM76.25 56.23H81.72V61.23H76.25zM109.07 56.23H114.53V61.23H109.07zM459.06 81.24H464.53V86.24H459.06zM295 91.24H300.47V96.25H295zM130.94 106.25H136.41V111.25H130.94zM185.63 106.25H191.1V111.25H185.63zM295 106.25H300.47V111.25H295zM305.94 106.25H311.4V111.25H305.94zM37.97 131.26H43.44V136.26H37.97zM92.66 131.26H98.13V136.26H92.66zM163.75 146.27H169.22V151.27H163.75zM267.66 146.27H273.12V151.27H267.66zM300.47 146.27H305.94V151.27H300.47zM196.56 166.28H202.03V171.28H196.56zM98.13 176.28H103.6V181.29H98.13zM240.31 176.28H245.78V181.29H240.31z"/>
<path fill="#ead3c6" d="M120 3.2H125.47V11.2H120zM420.78 3.2H426.25V11.2H420.78zM469.99 3.2H475.46V11.2H469.99zM480.93 3.2H489.4V11.2H480.93zM152.82 11.2H158.28V16.21H152.82zM169.22 11.2H174.69V16.21H169.22zM311.4 11.2H316.87V16.21H311.4zM448.12 11.2H453.59V16.21H448.12zM65.32 16.21H70.79V21.21H65.32zM98.13 16.21H103.6V21.21H98.13zM289.53 16.21H295V21.21H289.53zM43.44 26.21H48.91V31.21H43.44zM92.66 26.21H98.13V31.21H92.66zM251.25 26.21H256.72V31.21H251.25zM43.44 31.21H48.91V36.22H43.44zM136.41 31.21H141.88V36.22H136.41zM158.28 31.21H163.75V36.22H158.28zM48.91 36.22H54.38V41.22H48.91zM13.1 41.22H21.57V46.22H13.1zM469.99 41.22H475.46V46.22H469.99zM218.44 46.22H223.91V51.22H218.44zM426.25 46.22H431.71V51.22H426.25zM43.44 51.22H48.91V56.23H43.44zM480.93 51.22H489.4V56.23H480.93zM70.79 56.23H76.25V61.23H70.79zM278.59 56.23H284.06V61.23H278.59zM103.6 61.23H109.07V66.23H103.6zM70.79 71.23H76.25V76.24H70.79zM431.71 76.24H437.18V81.24H431.71zM103.6 91.24H109.07V96.25H103.6zM54.38 106.25H59.85V111.25H54.38zM136.41 106.25H141.88V111.25H136.41zM300.47 106.25H305.94V111.25H300.47zM54.38 111.25H59.85V116.26H54.38zM136.41 121.26H141.88V126.26H136.41zM163.75 121.26H169.22V126.26H163.75zM43.44 131.26H48.91V136.26H43.44zM169.22 146.27H174.69V151.27H169.22zM316.87 166.28H322.34V171.28H316.87zM333.28 166.28H338.75V171.28H333.28zM349.68 166.28H355.15V171.28H349.68zM43.44 176.28H48.91V181.29H43.44zM234.84 176.28H240.31V181.29H234.84zM59.85 191.29H65.32V196.3H59.85zM207.5 191.29H212.97V196.3H207.5zM278.59 191.29H284.06V196.3H278.59z"/>
<path fill="#edcebe" d="M92.66 3.2H98.13V11.2H92.66zM152.82 3.2H163.75V11.2H152.82zM196.56 3.2H202.03V11.2H196.56zM295 3.2H305.94V11.2H295zM431.71 3.2H442.65V11.2H431.71zM196.56 16.21H202.03V21.21H196.56zM207.5 16.21H212.97V21.21H207.5zM76.25 26.21H81.72V31.21H76.25zM147.35 26.21H152.82V31.21H147.35zM163.75 36.22H169.22V41.22H163.75zM37.97 41.22H43.44V46.22H37.97zM37.97 46.22H48.91V51.22H37.97zM87.19 46.22H98.13V51.22H87.19zM136.41 46.22H147.35V51.22H136.41zM475.46 46.22H480.93V51.22H475.46zM43.44 56.23H48.91V61.23H43.44zM59.85 56.23H65.32V61.23H59.85zM81.72 56.23H87.19V61.23H81.72zM103.6 56.23H109.07V61.23H103.6zM114.53 56.23H120V61.23H114.53zM223.91 56.23H229.38V61.23H223.91zM21.57 61.23H27.04V66.23H21.57zM70.79 61.23H76.25V66.23H70.79zM163.75 61.23H174.69V66.23H163.75zM218.44 61.23H223.91V66.23H218.44zM245.78 61.23H251.25V66.23H245.78zM278.59 61.23H289.53V66.23H278.59zM344.22 61.23H349.68V66.23H344.22zM382.5 61.23H387.97V66.23H382.5zM420.78 61.23H426.25V66.23H420.78zM442.65 61.23H448.12V66.23H442.65zM453.59 61.23H459.06V66.23H453.59zM278.59 66.23H289.53V71.23H278.59zM141.88 71.23H147.35V76.24H141.88zM469.99 71.23H475.46V76.24H469.99zM125.47 76.24H130.94V81.24H125.47zM355.15 76.24H360.62V81.24H355.15zM382.5 76.24H393.43V81.24H382.5zM377.03 81.24H382.5V86.24H377.03zM387.97 81.24H393.43V86.24H387.97zM426.25 81.24H431.71V86.24H426.25zM453.59 81.24H459.06V86.24H453.59zM464.53 81.24H475.46V86.24H464.53zM98.13 86.24H103.6V91.24H98.13zM125.47 86.24H130.94V91.24H125.47zM212.97 86.24H218.44V91.24H212.97zM234.84 86.24H240.31V91.24H234.84zM54.38 91.24H65.32V96.25H54.38zM136.41 91.24H147.35V96.25H136.41zM169.22 91.24H174.69V96.25H169.22zM191.1 91.24H196.56V96.25H191.1zM240.31 91.24H245.78V96.25H240.31zM251.25 91.24H256.72V96.25H251.25zM278.59 91.24H284.06V96.25H278.59zM289.53 91.24H295V96.25H289.53zM300.47 91.24H305.94V96.25H300.47zM382.5 91.24H387.97V96.25H382.5zM459.06 96.25H469.99V101.25H459.06zM81.72 106.25H87.19V111.25H81.72zM125.47 106.25H130.94V111.25H125.47zM163.75 106.25H169.22V111.25H163.75zM180.16 106.25H185.63V111.25H180.16zM191.1 106.25H196.56V111.25H191.1zM223.91 106.25H229.38V111.25H223.91zM251.25 106.25H256.72V111.25H251.25zM267.66 106.25H273.12V111.25H267.66zM469.99 106.25H475.46V111.25H469.99zM27.04 116.26H32.51V121.26H27.04zM37.97 116.26H43.44V121.26H37.97zM65.32 116.26H70.79V121.26H65.32zM125.47 116.26H130.94V121.26H125.47zM169.22 116.26H180.16V121.26H169.22zM234.84 116.26H240.31V121.26H234.84zM273.12 116.26H284.06V121.26H273.12zM426.25 116.26H431.71V121.26H426.25zM442.65 116.26H448.12V121.26H442.65zM469.99 116.26H475.46V121.26H469.99zM387.97 126.26H398.9V131.26H387.97zM431.71 126.26H437.18V131.26H431.71zM459.06 126.26H464.53V131.26H459.06zM21.57 131.26H27.04V136.26H21.57zM32.51 131.26H37.97V136.26H32.51zM76.25 131.26H81.72V136.26H76.25zM87.19 131.26H92.66V136.26H87.19zM98.13 131.26H103.6V136.26H98.13zM158.28 146.27H163.75V151.27H158.28zM223.91 146.27H229.38V151.27H223.91zM262.19 146.27H267.66V151.27H262.19zM295 146.27H300.47V151.27H295zM289.53 166.28H295V171.28H289.53zM92.66 176.28H98.13V181.29H92.66zM103.6 176.28H114.53V181.29H103.6zM218.44 176.28H223.91V181.29H218.44zM333.28 191.29H338.75V196.3H333.28zM344.22 191.29H349.68V196.3H344.22z"/>
<path fill="#f1cab6" d="M21.57 3.2H27.04V11.2H21.57zM32.51 3.2H43.44V11.2H32.51zM81.72 3.2H92.66V11.2H81.72zM109.07 3.2H114.53V11.2H109.07zM202.03 3.2H223.91V11.2H202.03zM245.78 3.2H251.25V11.2H245.78zM267.66 3.2H273.12V11.2H267.66zM311.4 3.2H316.87V11.2H311.4zM322.34 3.2H327.81V11.2H322.34zM344.22 3.2H349.68V11.2H344.22zM355.15 3.2H360.62V11.2H355.15zM377.03 3.2H382.5V11.2H377.03zM393.43 3.2H404.37V11.2H393.43zM37.97 11.2H43.44V16.21H37.97zM218.44 11.2H223.91V16.21H218.44zM245.78 11.2H262.19V16.21H245.78zM327.81 11.2H333.28V16.21H327.81zM371.56 11.2H377.03V16.21H371.56zM398.9 11.2H404.37V16.21H398.9zM420.78 11.2H426.25V16.21H420.78zM174.69 16.21H180.16V21.21H174.69zM202.03 16.21H207.5V21.21H202.03zM245.78 16.21H262.19V21.21H245.78zM333.28 16.21H338.75V21.21H333.28zM393.43 16.21H398.9V21.21H393.43zM27.04 21.21H32.51V26.21H27.04zM59.85 21.21H65.32V26.21H59.85zM76.25 21.21H81.72V26.21H76.25zM114.53 21.21H120V26.21H114.53zM152.82 21.21H158.28V26.21H152.82zM240.31 21.21H251.25V26.21H240.31zM267.66 21.21H273.12V26.21H267.66zM338.75 21.21H344.22V26.21H338.75zM377.03 21.21H382.5V26.21H377.03zM431.71 21.21H442.65V26.21H431.71zM27.04 26.21H32.51V31.21H27.04zM70.79 26.21H76.25V31.21H70.79zM152.82 26.21H158.28V31.21H152.82zM240.31 26.21H245.78V31.21H240.31zM480.93 26.21H489.4V31.21H480.93zM27.04 31.21H32.51V36.22H27.04zM70.79 31.21H81.72V36.22H70.79zM191.1 31.21H212.97V36.22H191.1zM223.91 31.21H229.38V36.22H223.91zM240.31 31.21H245.78V36.22H240.31zM360.62 31.21H366.09V36.22H360.62zM453.59 31.21H464.53V36.22H453.59zM13.1 36.22H21.57V41.22H13.1zM98.13 36.22H103.6V41.22H98.13zM169.22 36.22H174.69V41.22H169.22zM240.31 36.22H245.78V41.22H240.31zM355.15 36.22H360.62V41.22H355.15zM398.9 36.22H404.37V41.22H398.9zM420.78 36.22H426.25V41.22H420.78zM448.12 36.22H453.59V41.22H448.12zM43.44 41.22H54.38V46.22H43.44zM76.25 41.22H81.72V46.22H76.25zM103.6 41.22H109.07V46.22H103.6zM158.28 41.22H163.75V46.22H158.28zM240.31 41.22H245.78V46.22H240.31zM311.4 41.22H316.87V46.22H311.4zM349.68 41.22H355.15V46.22H349.68zM371.56 41.22H377.03V46.22H371.56zM442.65 41.22H448.12V46.22H442.65zM174.69 46.22H180.16V51.22H174.69zM284.06 46.22H295V51.22H284.06zM333.28 46.22H338.75V51.22H333.28zM344.22 46.22H349.68V51.22H344.22zM480.93 46.22H489.4V51.22H480.93zM185.63 51.22H191.1V56.23H185.63zM212.97 51.22H218.44V56.23H212.97zM48.91 56.23H59.85V61.23H48.91zM87.19 56.23H103.6V61.23H87.19zM120 56.23H130.94V61.23H120zM229.38 56.23H251.25V61.23H229.38zM316.87 56.23H322.34V61.23H316.87zM344.22 56.23H377.03V61.23H344.22zM27.04 61.23H70.79V66.23H27.04zM185.63 61.23H191.1V66.23H185.63zM196.56 61.23H202.03V66.23H196.56zM223.91 61.23H245.78V66.23H223.91zM316.87 61.23H322.34V66.23H316.87zM349.68 61.23H382.5V66.23H349.68zM404.37 61.23H420.78V66.23H404.37zM448.12 61.23H453.59V66.23H448.12zM136.41 71.23H141.88V76.24H136.41zM475.46 71.23H480.93V76.24H475.46zM13.1 76.24H21.57V81.24H13.1zM114.53 76.24H125.47V81.24H114.53zM147.35 76.24H152.82V81.24H147.35zM191.1 76.24H212.97V81.24H191.1zM305.94 76.24H355.15V81.24H305.94zM382.5 81.24H387.97V86.24H382.5zM431.71 81.24H453.59V86.24H431.71zM37.97 86.24H43.44V91.24H37.97zM76.25 86.24H81.72V91.24H76.25zM103.6 86.24H125.47V91.24H103.6zM218.44 86.24H234.84V91.24H218.44zM174.69 91.24H191.1V96.25H174.69zM245.78 91.24H251.25V96.25H245.78zM284.06 91.24H289.53V96.25H284.06zM305.94 91.24H316.87V96.25H305.94zM333.28 91.24H338.75V96.25H333.28zM371.56 91.24H382.5V96.25H371.56zM420.78 91.24H426.25V96.25H420.78zM448.12 91.24H453.59V96.25H448.12zM87.19 106.25H92.66V111.25H87.19zM114.53 106.25H125.47V111.25H114.53zM169.22 106.25H180.16V111.25H169.22zM196.56 106.25H223.91V111.25H196.56zM256.72 106.25H267.66V111.25H256.72zM289.53 106.25H295V111.25H289.53zM311.4 106.25H316.87V111.25H311.4zM338.75 106.25H344.22V111.25H338.75zM371.56 106.25H398.9V111.25H371.56zM431.71 106.25H437.18V111.25H431.71zM32.51 116.26H37.97V121.26H32.51zM92.66 116.26H125.47V121.26H92.66zM218.44 116.26H223.91V121.26H218.44zM431.71 116.26H442.65V121.26H431.71zM475.46 116.26H480.93V121.26H475.46zM437.18 126.26H459.06V131.26H437.18zM27.04 131.26H32.51V136.26H27.04zM81.72 131.26H87.19V136.26H81.72zM103.6 131.26H130.94V136.26H103.6zM27.04 146.27H32.51V151.27H27.04zM43.44 146.27H48.91V151.27H43.44zM76.25 146.27H81.72V151.27H76.25zM147.35 146.27H158.28V151.27H147.35zM245.78 146.27H262.19V151.27H245.78zM273.12 146.27H278.59V151.27H273.12zM305.94 146.27H311.4V151.27H305.94zM37.97 166.28H43.44V171.28H37.97zM191.1 166.28H196.56V171.28H191.1zM202.03 166.28H207.5V171.28H202.03zM245.78 166.28H262.19V171.28H245.78zM480.93 166.28H489.4V171.28H480.93zM65.32 176.28H70.79V181.29H65.32zM81.72 176.28H92.66V181.29H81.72zM191.1 176.28H196.56V181.29H191.1zM245.78 176.28H251.25V181.29H245.78zM305.94 176.28H311.4V181.29H305.94zM480.93 176.28H489.4V181.29H480.93zM180.16 191.29H185.63V196.3H180.16zM338.75 191.29H344.22V196.3H338.75zM377.03 191.29H382.5V196.3H377.03z"/>
<path fill="#f5bfa6" d="M251.25 3.2H256.72V11.2H251.25zM371.56 3.2H377.03V11.2H371.56zM21.57 11.2H27.04V16.21H21.57zM32.51 11.2H37.97V16.21H32.51zM109.07 11.2H114.53V16.21H109.07zM27.04 16.21H32.51V21.21H27.04zM43.44 16.21H48.91V21.21H43.44zM13.1 21.21H21.57V26.21H13.1zM81.72 31.21H87.19V36.22H81.72zM256.72 31.21H262.19V36.22H256.72zM152.82 41.22H158.28V46.22H152.82zM163.75 41.22H169.22V46.22H163.75zM278.59 41.22H284.06V46.22H278.59zM240.31 46.22H245.78V51.22H240.31zM295 51.22H300.47V56.23H295zM377.03 51.22H382.5V56.23H377.03zM130.94 56.23H136.41V61.23H130.94zM327.81 56.23H333.28V61.23H327.81zM398.9 61.23H404.37V66.23H398.9zM21.57 76.24H27.04V81.24H21.57zM109.07 76.24H114.53V81.24H109.07zM185.63 76.24H191.1V81.24H185.63zM212.97 76.24H218.44V81.24H212.97zM240.31 76.24H251.25V81.24H240.31zM300.47 76.24H305.94V81.24H300.47zM316.87 91.24H322.34V96.25H316.87zM327.81 91.24H333.28V96.25H327.81zM338.75 91.24H344.22V96.25H338.75zM366.09 91.24H371.56V96.25H366.09zM92.66 106.25H98.13V111.25H92.66zM109.07 106.25H114.53V111.25H109.07zM333.28 106.25H338.75V111.25H333.28zM344.22 106.25H349.68V111.25H344.22zM366.09 106.25H371.56V111.25H366.09zM398.9 106.25H404.37V111.25H398.9zM426.25 106.25H431.71V111.25H426.25zM437.18 106.25H442.65V111.25H437.18zM464.53 106.25H469.99V111.25H464.53zM70.79 116.26H76.25V121.26H70.79zM87.19 116.26H92.66V121.26H87.19zM229.38 116.26H234.84V121.26H229.38zM229.38 146.27H234.84V151.27H229.38zM240.31 146.27H245.78V151.27H240.31zM289.53 146.27H295V151.27H289.53zM480.93 146.27H489.4V151.27H480.93zM32.51 166.28H37.97V171.28H32.51zM43.44 166.28H48.91V171.28H43.44zM98.13 166.28H109.07V171.28H98.13zM212.97 166.28H223.91V171.28H212.97zM240.31 166.28H245.78V171.28H240.31zM262.19 166.28H267.66V171.28H262.19zM284.06 166.28H289.53V171.28H284.06zM212.97 176.28H218.44V181.29H212.97zM267.66 176.28H278.59V181.29H267.66zM459.06 191.29H464.53V196.3H459.06z"/>
<path fill="#f6b99e" d="M316.87 3.2H322.34V11.2H316.87zM338.75 3.2H344.22V11.2H338.75zM27.04 11.2H32.51V16.21H27.04zM114.53 11.2H120V16.21H114.53zM21.57 16.21H27.04V21.21H21.57zM48.91 16.21H54.38V21.21H48.91zM21.57 21.21H27.04V26.21H21.57zM103.6 36.22H109.07V41.22H103.6zM273.12 41.22H278.59V46.22H273.12zM245.78 46.22H251.25V51.22H245.78zM338.75 46.22H344.22V51.22H338.75zM300.47 51.22H305.94V56.23H300.47zM322.34 56.23H327.81V61.23H322.34zM191.1 61.23H196.56V66.23H191.1zM393.43 61.23H398.9V66.23H393.43zM284.06 76.24H289.53V81.24H284.06zM81.72 86.24H87.19V91.24H81.72zM322.34 91.24H327.81V96.25H322.34zM344.22 91.24H355.15V96.25H344.22zM426.25 91.24H437.18V96.25H426.25zM223.91 116.26H229.38V121.26H223.91zM120 146.27H125.47V151.27H120zM234.84 146.27H240.31V151.27H234.84zM65.32 166.28H70.79V171.28H65.32zM152.82 166.28H158.28V171.28H152.82zM207.5 166.28H212.97V171.28H207.5zM267.66 166.28H284.06V171.28H267.66zM251.25 176.28H267.66V181.29H251.25zM448.12 176.28H453.59V181.29H448.12zM398.9 191.29H409.84V196.3H398.9zM464.53 191.29H469.99V196.3H464.53z"/>
<path fill="#f6b295" d="M256.72 3.2H267.66V11.2H256.72zM360.62 3.2H371.56V11.2H360.62zM87.19 31.21H92.66V36.22H87.19zM81.72 41.22H87.19V46.22H81.72zM98.13 41.22H103.6V46.22H98.13zM147.35 41.22H152.82V46.22H147.35zM382.5 51.22H387.97V56.23H382.5zM136.41 56.23H141.88V61.23H136.41zM322.34 61.23H327.81V66.23H322.34zM103.6 76.24H109.07V81.24H103.6zM152.82 76.24H158.28V81.24H152.82zM218.44 76.24H223.91V81.24H218.44zM234.84 76.24H240.31V81.24H234.84zM251.25 76.24H256.72V81.24H251.25zM278.59 76.24H284.06V81.24H278.59zM289.53 76.24H300.47V81.24H289.53zM32.51 86.24H37.97V91.24H32.51zM355.15 91.24H366.09V96.25H355.15zM437.18 91.24H448.12V96.25H437.18zM98.13 106.25H109.07V111.25H98.13zM284.06 106.25H289.53V111.25H284.06zM316.87 106.25H322.34V111.25H316.87zM327.81 106.25H333.28V111.25H327.81zM349.68 106.25H355.15V111.25H349.68zM360.62 106.25H366.09V111.25H360.62zM404.37 106.25H409.84V111.25H404.37zM420.78 106.25H426.25V111.25H420.78zM442.65 106.25H448.12V111.25H442.65zM459.06 106.25H464.53V111.25H459.06zM76.25 116.26H87.19V121.26H76.25zM32.51 146.27H43.44V151.27H32.51zM81.72 146.27H87.19V151.27H81.72zM114.53 146.27H120V151.27H114.53zM278.59 146.27H289.53V151.27H278.59zM311.4 146.27H316.87V151.27H311.4zM27.04 166.28H32.51V171.28H27.04zM48.91 166.28H54.38V171.28H48.91zM59.85 166.28H65.32V171.28H59.85zM70.79 166.28H76.25V171.28H70.79zM92.66 166.28H98.13V171.28H92.66zM109.07 166.28H114.53V171.28H109.07zM147.35 166.28H152.82V171.28H147.35zM185.63 166.28H191.1V171.28H185.63zM223.91 166.28H229.38V171.28H223.91zM234.84 166.28H240.31V171.28H234.84zM278.59 176.28H284.06V181.29H278.59zM300.47 176.28H305.94V181.29H300.47zM382.5 191.29H387.97V196.3H382.5zM393.43 191.29H398.9V196.3H393.43z"/>
<path fill="#f6ab8d" d="M54.38 3.2H65.32V11.2H54.38zM70.79 11.2H81.72V16.21H70.79zM218.44 16.21H223.91V21.21H218.44zM426.25 16.21H431.71V21.21H426.25zM43.44 21.21H48.91V26.21H43.44zM70.79 21.21H76.25V26.21H70.79zM305.94 21.21H311.4V26.21H305.94zM393.43 21.21H398.9V26.21H393.43zM475.46 21.21H480.93V26.21H475.46zM21.57 26.21H27.04V31.21H21.57zM114.53 26.21H120V31.21H114.53zM185.63 26.21H191.1V31.21H185.63zM262.19 26.21H267.66V31.21H262.19zM295 26.21H305.94V31.21H295zM21.57 31.21H27.04V36.22H21.57zM92.66 31.21H98.13V36.22H92.66zM251.25 31.21H256.72V36.22H251.25zM300.47 31.21H305.94V36.22H300.47zM327.81 36.22H333.28V41.22H327.81zM469.99 36.22H475.46V41.22H469.99zM87.19 41.22H98.13V46.22H87.19zM136.41 41.22H147.35V46.22H136.41zM169.22 41.22H174.69V46.22H169.22zM218.44 41.22H223.91V46.22H218.44zM65.32 46.22H70.79V51.22H65.32zM393.43 46.22H398.9V51.22H393.43zM59.85 51.22H65.32V56.23H59.85zM262.19 51.22H267.66V56.23H262.19zM387.97 51.22H393.43V56.23H387.97zM141.88 56.23H163.75V61.23H141.88zM185.63 56.23H191.1V61.23H185.63zM212.97 56.23H218.44V61.23H212.97zM327.81 61.23H333.28V66.23H327.81zM464.53 61.23H469.99V66.23H464.53zM27.04 76.24H32.51V81.24H27.04zM48.91 76.24H54.38V81.24H48.91zM70.79 76.24H103.6V81.24H70.79zM158.28 76.24H169.22V81.24H158.28zM180.16 76.24H185.63V81.24H180.16zM223.91 76.24H234.84V81.24H223.91zM256.72 76.24H278.59V81.24H256.72zM21.57 86.24H32.51V91.24H21.57zM278.59 106.25H284.06V111.25H278.59zM322.34 106.25H327.81V111.25H322.34zM355.15 106.25H360.62V111.25H355.15zM409.84 106.25H420.78V111.25H409.84zM448.12 106.25H459.06V111.25H448.12zM87.19 146.27H114.53V151.27H87.19zM125.47 146.27H130.94V151.27H125.47zM316.87 146.27H333.28V151.27H316.87zM349.68 146.27H360.62V151.27H349.68zM475.46 146.27H480.93V151.27H475.46zM130.94 156.28H136.41V161.28H130.94zM54.38 166.28H59.85V171.28H54.38zM76.25 166.28H92.66V171.28H76.25zM114.53 166.28H147.35V171.28H114.53zM158.28 166.28H163.75V171.28H158.28zM174.69 166.28H185.63V171.28H174.69zM229.38 166.28H234.84V171.28H229.38zM59.85 171.28H65.32V176.28H59.85zM191.1 171.28H196.56V176.28H191.1zM480.93 171.28H489.4V176.28H480.93zM207.5 176.28H212.97V181.29H207.5zM284.06 176.28H300.47V181.29H284.06zM316.87 176.28H338.75V181.29H316.87zM442.65 176.28H448.12V181.29H442.65zM453.59 176.28H459.06V181.29H453.59zM387.97 191.29H393.43V196.3H387.97z"/>
<path fill="#f5a385" d="M48.91 3.2H54.38V11.2H48.91zM65.32 3.2H70.79V11.2H65.32zM207.5 56.23H212.97V61.23H207.5zM43.44 76.24H48.91V81.24H43.44zM54.38 76.24H59.85V81.24H54.38zM65.32 76.24H70.79V81.24H65.32zM169.22 76.24H174.69V81.24H169.22zM333.28 146.27H338.75V151.27H333.28zM344.22 146.27H349.68V151.27H344.22zM360.62 146.27H366.09V151.27H360.62zM442.65 146.27H453.59V151.27H442.65zM136.41 156.28H141.88V161.28H136.41zM21.57 166.28H27.04V171.28H21.57zM169.22 166.28H174.69V171.28H169.22zM21.57 171.28H32.51V176.28H21.57zM54.38 171.28H59.85V176.28H54.38zM65.32 171.28H70.79V176.28H65.32zM196.56 171.28H202.03V176.28H196.56zM338.75 176.28H344.22V181.29H338.75zM349.68 176.28H360.62V181.29H349.68z"/>
<path fill="#f49c7d" d="M448.12 3.2H453.59V11.2H448.12zM48.91 11.2H54.38V16.21H48.91zM76.25 16.21H81.72V21.21H76.25zM234.84 16.21H240.31V21.21H234.84zM278.59 16.21H284.06V21.21H278.59zM218.44 21.21H223.91V26.21H218.44zM437.18 46.22H442.65V51.22H437.18zM262.19 56.23H267.66V61.23H262.19zM300.47 56.23H305.94V61.23H300.47zM125.47 176.28H130.94V181.29H125.47zM251.25 191.29H256.72V196.3H251.25zM431.71 191.29H437.18V196.3H431.71z"/>
<path fill="#f29475" d="M43.44 3.2H48.91V11.2H43.44zM43.44 11.2H48.91V16.21H43.44zM70.79 16.21H76.25V21.21H70.79zM240.31 16.21H245.78V21.21H240.31zM284.06 16.21H289.53V21.21H284.06zM65.32 21.21H70.79V26.21H65.32zM223.91 21.21H229.38V26.21H223.91zM13.1 26.21H21.57V31.21H13.1zM13.1 31.21H21.57V36.22H13.1zM245.78 31.21H251.25V36.22H245.78zM431.71 46.22H437.18V51.22H431.71zM295 56.23H300.47V61.23H295zM59.85 76.24H65.32V81.24H59.85zM174.69 76.24H180.16V81.24H174.69zM338.75 146.27H344.22V151.27H338.75zM409.84 146.27H442.65V151.27H409.84zM464.53 146.27H475.46V151.27H464.53zM13.1 166.28H21.57V171.28H13.1zM163.75 166.28H169.22V171.28H163.75zM13.1 171.28H21.57V176.28H13.1zM158.28 176.28H163.75V181.29H158.28zM180.16 176.28H191.1V181.29H180.16zM344.22 176.28H349.68V181.29H344.22zM459.06 176.28H464.53V181.29H459.06zM245.78 191.29H251.25V196.3H245.78z"/>
<path fill="#ef8c6e" d="M70.79 3.2H76.25V11.2H70.79zM256.72 56.23H262.19V61.23H256.72zM32.51 76.24H43.44V81.24H32.51zM366.09 146.27H371.56V151.27H366.09zM404.37 146.27H409.84V151.27H404.37zM453.59 146.27H464.53V151.27H453.59zM141.88 156.28H147.35V161.28H141.88zM32.51 171.28H37.97V176.28H32.51zM48.91 171.28H54.38V176.28H48.91zM70.79 171.28H76.25V176.28H70.79zM202.03 171.28H207.5V176.28H202.03zM130.94 176.28H136.41V181.29H130.94zM152.82 176.28H158.28V181.29H152.82zM163.75 176.28H169.22V181.29H163.75zM174.69 176.28H180.16V181.29H174.69zM360.62 176.28H366.09V181.29H360.62zM437.18 176.28H442.65V181.29H437.18zM426.25 191.29H431.71V196.3H426.25z"/>
<path fill="#ed8467" d="M27.04 3.2H32.51V11.2H27.04zM76.25 3.2H81.72V11.2H76.25zM114.53 3.2H120V11.2H114.53zM382.5 3.2H393.43V11.2H382.5zM415.31 3.2H420.78V11.2H415.31zM453.59 3.2H459.06V11.2H453.59zM355.15 11.2H360.62V16.21H355.15zM366.09 11.2H371.56V16.21H366.09zM464.53 11.2H469.99V16.21H464.53zM103.6 16.21H109.07V21.21H103.6zM114.53 16.21H120V21.21H114.53zM349.68 16.21H355.15V21.21H349.68zM442.65 16.21H448.12V21.21H442.65zM54.38 21.21H59.85V26.21H54.38zM98.13 21.21H103.6V26.21H98.13zM180.16 21.21H185.63V26.21H180.16zM289.53 21.21H295V26.21H289.53zM344.22 21.21H349.68V26.21H344.22zM212.97 26.21H218.44V31.21H212.97zM245.78 26.21H251.25V31.21H245.78zM382.5 26.21H393.43V31.21H382.5zM453.59 26.21H464.53V31.21H453.59zM48.91 31.21H54.38V36.22H48.91zM316.87 31.21H327.81V36.22H316.87zM355.15 31.21H360.62V36.22H355.15zM366.09 31.21H371.56V36.22H366.09zM398.9 31.21H404.37V36.22H398.9zM480.93 31.21H489.4V36.22H480.93zM65.32 36.22H70.79V41.22H65.32zM245.78 36.22H251.25V41.22H245.78zM311.4 36.22H316.87V41.22H311.4zM480.93 36.22H489.4V41.22H480.93zM65.32 41.22H70.79V46.22H65.32zM174.69 41.22H180.16V46.22H174.69zM245.78 41.22H251.25V46.22H245.78zM333.28 41.22H338.75V46.22H333.28zM54.38 46.22H59.85V51.22H54.38zM180.16 46.22H185.63V51.22H180.16zM267.66 46.22H273.12V51.22H267.66zM305.94 46.22H311.4V51.22H305.94zM377.03 46.22H382.5V51.22H377.03zM207.5 51.22H212.97V56.23H207.5zM202.03 56.23H207.5V61.23H202.03zM251.25 56.23H256.72V61.23H251.25zM130.94 146.27H136.41V151.27H130.94zM371.56 146.27H382.5V151.27H371.56zM398.9 146.27H404.37V151.27H398.9zM147.35 156.28H152.82V161.28H147.35zM185.63 156.28H202.03V161.28H185.63zM469.99 156.28H480.93V161.28H469.99zM37.97 171.28H48.91V176.28H37.97zM158.28 171.28H169.22V176.28H158.28zM207.5 171.28H218.44V176.28H207.5zM21.57 176.28H27.04V181.29H21.57zM136.41 176.28H152.82V181.29H136.41zM169.22 176.28H174.69V181.29H169.22zM202.03 176.28H207.5V181.29H202.03zM366.09 176.28H382.5V181.29H366.09zM431.71 176.28H437.18V181.29H431.71zM185.63 191.29H191.1V196.3H185.63z"/>
<path fill="#e97a5f" d="M191.1 36.22H202.03V41.22H191.1zM202.03 51.22H207.5V56.23H202.03zM382.5 146.27H387.97V151.27H382.5zM393.43 146.27H398.9V151.27H393.43zM152.82 156.28H158.28V161.28H152.82zM180.16 156.28H185.63V161.28H180.16zM202.03 156.28H207.5V161.28H202.03zM464.53 156.28H469.99V161.28H464.53zM76.25 171.28H81.72V176.28H76.25zM152.82 171.28H158.28V176.28H152.82zM169.22 171.28H174.69V176.28H169.22zM218.44 171.28H223.91V176.28H218.44zM382.5 176.28H387.97V181.29H382.5zM426.25 176.28H431.71V181.29H426.25zM420.78 191.29H426.25V196.3H420.78z"/>
<path fill="#e57158" d="M464.53 3.2H469.99V11.2H464.53zM163.75 11.2H169.22V16.21H163.75zM59.85 26.21H65.32V31.21H59.85zM409.84 26.21H415.31V31.21H409.84zM212.97 31.21H218.44V36.22H212.97zM464.53 31.21H469.99V36.22H464.53zM174.69 36.22H180.16V41.22H174.69zM207.5 36.22H212.97V41.22H207.5zM278.59 36.22H284.06V41.22H278.59zM284.06 41.22H289.53V46.22H284.06zM480.93 41.22H489.4V46.22H480.93zM251.25 51.22H256.72V56.23H251.25zM141.88 146.27H147.35V151.27H141.88zM300.47 156.28H305.94V161.28H300.47zM366.09 156.28H371.56V161.28H366.09zM98.13 171.28H103.6V176.28H98.13zM114.53 171.28H120V176.28H114.53zM464.53 171.28H469.99V176.28H464.53zM393.43 176.28H398.9V181.29H393.43zM404.37 176.28H409.84V181.29H404.37zM415.31 176.28H420.78V181.29H415.31zM475.46 176.28H480.93V181.29H475.46zM475.46 191.29H480.93V196.3H475.46z"/>
<path fill="#e06751" d="M459.06 3.2H464.53V11.2H459.06zM158.28 11.2H163.75V16.21H158.28zM218.44 31.21H223.91V36.22H218.44zM202.03 36.22H207.5V41.22H202.03zM475.46 41.22H480.93V46.22H475.46zM256.72 51.22H262.19V56.23H256.72zM136.41 146.27H141.88V151.27H136.41zM387.97 146.27H393.43V151.27H387.97zM196.56 176.28H202.03V181.29H196.56zM387.97 176.28H393.43V181.29H387.97zM398.9 176.28H404.37V181.29H398.9zM409.84 176.28H415.31V181.29H409.84zM420.78 176.28H426.25V181.29H420.78zM469.99 191.29H475.46V196.3H469.99zM480.93 191.29H489.4V196.3H480.93z"/>
<path fill="#db5c4a" d="M54.38 26.21H59.85V31.21H54.38zM180.16 36.22H191.1V41.22H180.16zM196.56 56.23H202.03V61.23H196.56zM174.69 156.28H180.16V161.28H174.69zM207.5 156.28H212.97V161.28H207.5zM371.56 156.28H377.03V161.28H371.56zM459.06 156.28H464.53V161.28H459.06zM81.72 171.28H87.19V176.28H81.72zM92.66 171.28H98.13V176.28H92.66zM174.69 171.28H180.16V176.28H174.69zM415.31 191.29H420.78V196.3H415.31z"/>
<path fill="#d65243" d="M223.91 11.2H245.78V16.21H223.91zM316.87 11.2H327.81V16.21H316.87zM404.37 11.2H420.78V16.21H404.37zM48.91 26.21H54.38V31.21H48.91zM404.37 26.21H409.84V31.21H404.37zM415.31 26.21H420.78V31.21H415.31zM469.99 31.21H475.46V36.22H469.99zM273.12 36.22H278.59V41.22H273.12zM284.06 36.22H289.53V41.22H284.06zM180.16 41.22H185.63V46.22H180.16zM289.53 41.22H295V46.22H289.53zM196.56 51.22H202.03V56.23H196.56zM191.1 56.23H196.56V61.23H191.1zM13.1 156.28H27.04V161.28H13.1zM158.28 156.28H163.75V161.28H158.28zM212.97 156.28H223.91V161.28H212.97zM295 156.28H300.47V161.28H295zM305.94 156.28H311.4V161.28H305.94zM360.62 156.28H366.09V161.28H360.62zM409.84 156.28H420.78V161.28H409.84zM87.19 171.28H92.66V176.28H87.19zM109.07 171.28H114.53V176.28H109.07zM120 171.28H125.47V176.28H120zM147.35 171.28H152.82V176.28H147.35zM180.16 171.28H191.1V176.28H180.16zM223.91 171.28H229.38V176.28H223.91zM300.47 171.28H305.94V176.28H300.47zM415.31 171.28H426.25V176.28H415.31zM459.06 171.28H464.53V176.28H459.06zM48.91 176.28H65.32V181.29H48.91zM469.99 176.28H475.46V181.29H469.99zM409.84 191.29H415.31V196.3H409.84z"/>
<path fill="#cf453d" d="M27.04 156.28H32.51V161.28H27.04zM169.22 156.28H174.69V161.28H169.22zM223.91 156.28H229.38V161.28H223.91zM240.31 156.28H251.25V161.28H240.31zM267.66 156.28H278.59V161.28H267.66zM377.03 156.28H382.5V161.28H377.03zM404.37 156.28H409.84V161.28H404.37zM420.78 156.28H426.25V161.28H420.78zM453.59 156.28H459.06V161.28H453.59zM267.66 171.28H278.59V176.28H267.66zM295 171.28H300.47V176.28H295zM305.94 171.28H311.4V176.28H305.94zM393.43 171.28H404.37V176.28H393.43zM409.84 171.28H415.31V176.28H409.84zM426.25 171.28H431.71V176.28H426.25z"/>
<path fill="#c83836" d="M223.91 3.2H229.38V11.2H223.91zM240.31 3.2H245.78V11.2H240.31zM404.37 3.2H409.84V11.2H404.37zM453.59 11.2H459.06V16.21H453.59zM158.28 16.21H163.75V21.21H158.28zM169.22 16.21H174.69V21.21H169.22zM229.38 16.21H234.84V21.21H229.38zM311.4 16.21H316.87V21.21H311.4zM327.81 16.21H333.28V21.21H327.81zM371.56 16.21H377.03V21.21H371.56zM469.99 16.21H475.46V21.21H469.99zM158.28 21.21H163.75V26.21H158.28zM273.12 21.21H278.59V26.21H273.12zM333.28 21.21H338.75V26.21H333.28zM371.56 21.21H377.03V26.21H371.56zM426.25 21.21H431.71V26.21H426.25zM98.13 26.21H103.6V31.21H98.13zM158.28 26.21H163.75V31.21H158.28zM223.91 26.21H229.38V31.21H223.91zM98.13 31.21H103.6V36.22H98.13zM109.07 31.21H114.53V36.22H109.07zM163.75 31.21H169.22V36.22H163.75zM185.63 31.21H191.1V36.22H185.63zM262.19 31.21H267.66V36.22H262.19zM295 31.21H300.47V36.22H295zM420.78 31.21H426.25V36.22H420.78zM448.12 31.21H453.59V36.22H448.12zM218.44 36.22H223.91V41.22H218.44zM349.68 36.22H355.15V41.22H349.68zM371.56 36.22H377.03V41.22H371.56zM442.65 36.22H448.12V41.22H442.65zM54.38 41.22H59.85V46.22H54.38zM305.94 41.22H311.4V46.22H305.94zM344.22 41.22H349.68V46.22H344.22zM393.43 41.22H398.9V46.22H393.43zM426.25 41.22H431.71V46.22H426.25zM437.18 41.22H442.65V46.22H437.18zM212.97 46.22H218.44V51.22H212.97zM295 46.22H300.47V51.22H295zM125.47 156.28H130.94V161.28H125.47zM475.46 171.28H480.93V176.28H475.46z"/>
<path fill="#c12930" d="M409.84 3.2H415.31V11.2H409.84zM459.06 11.2H464.53V16.21H459.06zM163.75 16.21H169.22V21.21H163.75zM223.91 16.21H229.38V21.21H223.91zM409.84 21.21H415.31V26.21H409.84zM218.44 26.21H223.91V31.21H218.44zM103.6 31.21H109.07V36.22H103.6zM475.46 31.21H480.93V36.22H475.46zM212.97 36.22H218.44V41.22H212.97zM59.85 41.22H65.32V46.22H59.85zM338.75 41.22H344.22V46.22H338.75zM431.71 41.22H437.18V46.22H431.71zM300.47 46.22H305.94V51.22H300.47zM191.1 51.22H196.56V56.23H191.1zM163.75 156.28H169.22V161.28H163.75zM322.34 156.28H338.75V161.28H322.34zM103.6 171.28H109.07V176.28H103.6zM245.78 171.28H251.25V176.28H245.78zM404.37 171.28H409.84V176.28H404.37zM469.99 171.28H475.46V176.28H469.99zM464.53 176.28H469.99V181.29H464.53z"/>
<path fill="#ba162b" d="M229.38 3.2H240.31V11.2H229.38zM316.87 16.21H327.81V21.21H316.87zM366.09 16.21H371.56V21.21H366.09zM464.53 16.21H469.99V21.21H464.53zM163.75 21.21H169.22V26.21H163.75zM278.59 21.21H284.06V26.21H278.59zM327.81 21.21H333.28V26.21H327.81zM366.09 21.21H371.56V26.21H366.09zM404.37 21.21H409.84V26.21H404.37zM415.31 21.21H426.25V26.21H415.31zM103.6 26.21H109.07V31.21H103.6zM163.75 26.21H169.22V31.21H163.75zM398.9 26.21H404.37V31.21H398.9zM420.78 26.21H426.25V31.21H420.78zM169.22 31.21H174.69V36.22H169.22zM180.16 31.21H185.63V36.22H180.16zM267.66 31.21H273.12V36.22H267.66zM289.53 31.21H295V36.22H289.53zM426.25 31.21H431.71V36.22H426.25zM442.65 31.21H448.12V36.22H442.65zM267.66 36.22H273.12V41.22H267.66zM289.53 36.22H295V41.22H289.53zM344.22 36.22H349.68V41.22H344.22zM377.03 36.22H382.5V41.22H377.03zM437.18 36.22H442.65V41.22H437.18zM185.63 41.22H191.1V46.22H185.63zM295 41.22H305.94V46.22H295zM387.97 41.22H393.43V46.22H387.97zM207.5 46.22H212.97V51.22H207.5zM32.51 156.28H37.97V161.28H32.51zM120 156.28H125.47V161.28H120zM229.38 156.28H240.31V161.28H229.38zM251.25 156.28H256.72V161.28H251.25zM262.19 156.28H267.66V161.28H262.19zM278.59 156.28H284.06V161.28H278.59zM289.53 156.28H295V161.28H289.53zM311.4 156.28H322.34V161.28H311.4zM338.75 156.28H344.22V161.28H338.75zM355.15 156.28H360.62V161.28H355.15zM382.5 156.28H387.97V161.28H382.5zM398.9 156.28H404.37V161.28H398.9zM426.25 156.28H431.71V161.28H426.25zM448.12 156.28H453.59V161.28H448.12zM125.47 171.28H130.94V176.28H125.47zM141.88 171.28H147.35V176.28H141.88zM229.38 171.28H234.84V176.28H229.38zM240.31 171.28H245.78V176.28H240.31zM251.25 171.28H256.72V176.28H251.25zM262.19 171.28H267.66V176.28H262.19zM278.59 171.28H284.06V176.28H278.59zM289.53 171.28H295V176.28H289.53zM311.4 171.28H316.87V176.28H311.4zM387.97 171.28H393.43V176.28H387.97zM431.71 171.28H437.18V176.28H431.71zM453.59 171.28H459.06V176.28H453.59z"/>
<path fill="#b30326" d="M360.62 11.2H366.09V16.21H360.62zM109.07 16.21H114.53V21.21H109.07zM355.15 16.21H366.09V21.21H355.15zM398.9 16.21H426.25V21.21H398.9zM448.12 16.21H464.53V21.21H448.12zM48.91 21.21H54.38V26.21H48.91zM103.6 21.21H114.53V26.21H103.6zM169.22 21.21H180.16V26.21H169.22zM284.06 21.21H289.53V26.21H284.06zM311.4 21.21H327.81V26.21H311.4zM349.68 21.21H366.09V26.21H349.68zM398.9 21.21H404.37V26.21H398.9zM442.65 21.21H475.46V26.21H442.65zM65.32 26.21H70.79V31.21H65.32zM109.07 26.21H114.53V31.21H109.07zM169.22 26.21H185.63V31.21H169.22zM267.66 26.21H295V31.21H267.66zM305.94 26.21H382.5V31.21H305.94zM393.43 26.21H398.9V31.21H393.43zM426.25 26.21H453.59V31.21H426.25zM464.53 26.21H480.93V31.21H464.53zM54.38 31.21H70.79V36.22H54.38zM174.69 31.21H180.16V36.22H174.69zM273.12 31.21H289.53V36.22H273.12zM305.94 31.21H316.87V36.22H305.94zM327.81 31.21H355.15V36.22H327.81zM371.56 31.21H398.9V36.22H371.56zM431.71 31.21H442.65V36.22H431.71zM54.38 36.22H65.32V41.22H54.38zM251.25 36.22H267.66V41.22H251.25zM295 36.22H311.4V41.22H295zM333.28 36.22H344.22V41.22H333.28zM382.5 36.22H398.9V41.22H382.5zM426.25 36.22H437.18V41.22H426.25zM475.46 36.22H480.93V41.22H475.46zM191.1 41.22H218.44V46.22H191.1zM251.25 41.22H273.12V46.22H251.25zM377.03 41.22H387.97V46.22H377.03zM59.85 46.22H65.32V51.22H59.85zM185.63 46.22H207.5V51.22H185.63zM251.25 46.22H267.66V51.22H251.25zM382.5 46.22H393.43V51.22H382.5zM37.97 156.28H120V161.28H37.97zM256.72 156.28H262.19V161.28H256.72zM284.06 156.28H289.53V161.28H284.06zM344.22 156.28H355.15V161.28H344.22zM387.97 156.28H398.9V161.28H387.97zM431.71 156.28H448.12V161.28H431.71zM130.94 171.28H141.88V176.28H130.94zM234.84 171.28H240.31V176.28H234.84zM256.72 171.28H262.19V176.28H256.72zM284.06 171.28H289.53V176.28H284.06zM316.87 171.28H387.97V176.28H316.87zM437.18 171.28H453.59V176.28H437.18zM13.1 176.28H21.57V181.29H13.1zM13.1 196.3H489.4V201.3H13.1z"/>
</g></g>
<rect x="16.1" y="6.2" width="470.3" height="200.1" fill="none" stroke="#262626" stroke-width="0.8"/>
<line x1="18.8343" y1="206.3" x2="18.8343" y2="209.3" stroke="#262626" stroke-width="0.7"/>
<text x="18.8343" y="218.2" font-size="8.3" text-anchor="middle">0</text>
<line x1="136.591" y1="206.3" x2="136.591" y2="209.3" stroke="#262626" stroke-width="0.7"/>
<text x="136.591" y="218.2" font-size="8.3" text-anchor="middle">0.5</text>
<line x1="254.347" y1="206.3" x2="254.347" y2="209.3" stroke="#262626" stroke-width="0.7"/>
<text x="254.347" y="218.2" font-size="8.3" text-anchor="middle">1</text>
<line x1="372.104" y1="206.3" x2="372.104" y2="209.3" stroke="#262626" stroke-width="0.7"/>
<text x="372.104" y="218.2" font-size="8.3" text-anchor="middle">1.5</text>
<text x="251.25" y="231.1" font-size="10.2" text-anchor="middle">Time</text>
<text transform="translate(10.7 106.25) rotate(-90)" font-size="10.1" text-anchor="middle">MFC Coefficient</text>
<rect x="515.4" y="6.2" width="10.6" height="200.1" fill="url(#cw)" stroke="#262626" stroke-width="0.8"/>
<line x1="526" y1="6.2" x2="528.2" y2="6.2" stroke="#262626" stroke-width="0.7"/>
<text x="532" y="9.1" font-size="8.3">30</text>
<line x1="526" y1="39.55" x2="528.2" y2="39.55" stroke="#262626" stroke-width="0.7"/>
<text x="532" y="42.45" font-size="8.3">20</text>
<line x1="526" y1="72.9" x2="528.2" y2="72.9" stroke="#262626" stroke-width="0.7"/>
<text x="532" y="75.8" font-size="8.3">10</text>
<line x1="526" y1="106.25" x2="528.2" y2="106.25" stroke="#262626" stroke-width="0.7"/>
<text x="532" y="109.15" font-size="8.3">0</text>
<line x1="526" y1="139.6" x2="528.2" y2="139.6" stroke="#262626" stroke-width="0.7"/>
<text x="532.5" y="142.5" font-size="8.3" textLength="3.4" lengthAdjust="spacingAndGlyphs">−</text>
<text x="536.7" y="142.5" font-size="8.3">10</text>
<line x1="526" y1="172.95" x2="528.2" y2="172.95" stroke="#262626" stroke-width="0.7"/>
<text x="532.5" y="175.85" font-size="8.3" textLength="3.4" lengthAdjust="spacingAndGlyphs">−</text>
<text x="536.7" y="175.85" font-size="8.3">20</text>
<line x1="526" y1="206.3" x2="528.2" y2="206.3" stroke="#262626" stroke-width="0.7"/>
<text x="532.5" y="209.2" font-size="8.3" textLength="3.4" lengthAdjust="spacingAndGlyphs">−</text>
<text x="536.7" y="209.2" font-size="8.3">30</text>
<text class="cap" x="304.2" y="259.8" font-size="16.8" text-anchor="middle">(<tspan font-weight="bold">a</tspan>)</text>
<g clip-path="url(#cb)"><g shape-rendering="crispEdges" filter="url(#bl)">
<path fill="#3a4cc0" d="M35.73 302.34H41.27V307.29H35.73zM213.06 302.34H229.68V307.29H213.06zM368.23 302.34H384.85V307.29H368.23zM473.52 302.34H479.06V307.29H473.52zM118.85 401.29H124.39V406.24H118.85zM141.02 401.29H168.72V406.24H141.02zM240.77 401.29H285.1V406.24H240.77zM357.14 401.29H379.31V406.24H357.14zM407.02 401.29H412.56V406.24H407.02zM46.81 430.97H141.02V435.92H46.81zM196.43 430.97H268.48V435.92H196.43zM312.81 430.97H318.35V435.92H312.81zM340.52 430.97H362.68V435.92H340.52zM418.1 430.97H429.18V435.92H418.1zM35.73 445.82H63.43V450.76H35.73zM185.35 445.82H235.22V450.76H185.35zM307.27 445.82H318.35V450.76H307.27zM379.31 445.82H384.85V450.76H379.31zM412.56 445.82H440.27V450.76H412.56zM479.06 445.82H487.6V450.76H479.06zM16.1 450.76H24.64V455.71H16.1zM57.89 450.76H196.43V455.71H57.89zM218.6 450.76H487.6V455.71H218.6zM30.18 455.71H163.18V460.66H30.18zM185.35 455.71H268.48V460.66H185.35zM296.18 455.71H323.89V460.66H296.18zM340.52 455.71H487.6V460.66H340.52zM35.73 460.66H74.52V465.61H35.73zM190.89 460.66H229.68V465.61H190.89zM246.31 460.66H456.89V465.61H246.31zM30.18 470.55H487.6V478.5H30.18z"/>
<path fill="#4054c7" d="M30.18 302.34H35.73V307.29H30.18zM41.27 302.34H46.81V307.29H41.27zM179.81 302.34H190.89V307.29H179.81zM207.52 302.34H213.06V307.29H207.52zM229.68 302.34H235.22V307.29H229.68zM268.48 302.34H279.56V307.29H268.48zM362.68 302.34H368.23V307.29H362.68zM384.85 302.34H390.39V307.29H384.85zM467.98 302.34H473.52V307.29H467.98zM74.52 401.29H85.6V406.24H74.52zM113.31 401.29H118.85V406.24H113.31zM124.39 401.29H129.93V406.24H124.39zM135.47 401.29H141.02V406.24H135.47zM168.72 401.29H174.27V406.24H168.72zM196.43 401.29H207.52V406.24H196.43zM235.22 401.29H240.77V406.24H235.22zM285.1 401.29H290.64V406.24H285.1zM351.6 401.29H357.14V406.24H351.6zM379.31 401.29H384.85V406.24H379.31zM401.48 401.29H407.02V406.24H401.48zM412.56 401.29H418.1V406.24H412.56zM41.27 430.97H46.81V435.92H41.27zM141.02 430.97H146.56V435.92H141.02zM174.27 430.97H185.35V435.92H174.27zM190.89 430.97H196.43V435.92H190.89zM268.48 430.97H274.02V435.92H268.48zM307.27 430.97H312.81V435.92H307.27zM318.35 430.97H323.89V435.92H318.35zM334.98 430.97H340.52V435.92H334.98zM362.68 430.97H368.23V435.92H362.68zM412.56 430.97H418.1V435.92H412.56zM429.18 430.97H434.73V435.92H429.18zM30.18 445.82H35.73V450.76H30.18zM63.43 445.82H68.97V450.76H63.43zM179.81 445.82H185.35V450.76H179.81zM235.22 445.82H240.77V450.76H235.22zM246.31 445.82H257.39V450.76H246.31zM301.73 445.82H307.27V450.76H301.73zM318.35 445.82H323.89V450.76H318.35zM373.77 445.82H379.31V450.76H373.77zM407.02 445.82H412.56V450.76H407.02zM440.27 445.82H445.81V450.76H440.27zM473.52 445.82H479.06V450.76H473.52zM24.64 450.76H30.18V455.71H24.64zM196.43 450.76H201.97V455.71H196.43zM213.06 450.76H218.6V455.71H213.06zM24.64 455.71H30.18V460.66H24.64zM163.18 455.71H168.72V460.66H163.18zM179.81 455.71H185.35V460.66H179.81zM268.48 455.71H274.02V460.66H268.48zM290.64 455.71H296.18V460.66H290.64zM334.98 455.71H340.52V460.66H334.98zM30.18 460.66H35.73V465.61H30.18zM74.52 460.66H80.06V465.61H74.52zM185.35 460.66H190.89V465.61H185.35zM229.68 460.66H235.22V465.61H229.68zM240.77 460.66H246.31V465.61H240.77zM456.89 460.66H462.43V465.61H456.89zM24.64 470.55H30.18V478.5H24.64z"/>
<path fill="#455cce" d="M462.43 430.97H467.98V435.92H462.43z"/>
<path fill="#4b64d4" d="M57.89 302.34H63.43V307.29H57.89zM129.93 302.34H135.47V307.29H129.93zM235.22 302.34H246.31V307.29H235.22zM323.89 302.34H329.43V307.29H323.89zM407.02 302.34H412.56V307.29H407.02zM429.18 302.34H434.73V307.29H429.18zM85.6 401.29H113.31V406.24H85.6zM129.93 401.29H135.47V406.24H129.93zM174.27 401.29H185.35V406.24H174.27zM290.64 401.29H312.81V406.24H290.64zM329.43 401.29H351.6V406.24H329.43zM456.89 401.29H462.43V406.24H456.89zM146.56 430.97H174.27V435.92H146.56zM185.35 430.97H190.89V435.92H185.35zM290.64 430.97H296.18V435.92H290.64zM451.35 430.97H462.43V435.92H451.35zM124.39 445.82H129.93V450.76H124.39zM163.18 445.82H168.72V450.76H163.18zM240.77 445.82H246.31V450.76H240.77zM334.98 445.82H340.52V450.76H334.98zM41.27 450.76H46.81V455.71H41.27zM91.14 460.66H118.85V465.61H91.14zM235.22 460.66H240.77V465.61H235.22z"/>
<path fill="#526ddb" d="M46.81 302.34H57.89V307.29H46.81zM124.39 302.34H129.93V307.29H124.39zM174.27 302.34H179.81V307.29H174.27zM246.31 302.34H251.85V307.29H246.31zM279.56 302.34H285.1V307.29H279.56zM318.35 302.34H323.89V307.29H318.35zM357.14 302.34H362.68V307.29H357.14zM412.56 302.34H418.1V307.29H412.56zM423.64 302.34H429.18V307.29H423.64zM68.97 401.29H74.52V406.24H68.97zM185.35 401.29H196.43V406.24H185.35zM229.68 401.29H235.22V406.24H229.68zM312.81 401.29H318.35V406.24H312.81zM323.89 401.29H329.43V406.24H323.89zM384.85 401.29H390.39V406.24H384.85zM395.93 401.29H401.48V406.24H395.93zM418.1 401.29H423.64V406.24H418.1zM462.43 401.29H467.98V406.24H462.43zM35.73 430.97H41.27V435.92H35.73zM274.02 430.97H279.56V435.92H274.02zM285.1 430.97H290.64V435.92H285.1zM296.18 430.97H307.27V435.92H296.18zM323.89 430.97H334.98V435.92H323.89zM368.23 430.97H373.77V435.92H368.23zM407.02 430.97H412.56V435.92H407.02zM434.73 430.97H440.27V435.92H434.73zM445.81 430.97H451.35V435.92H445.81zM68.97 445.82H74.52V450.76H68.97zM118.85 445.82H124.39V450.76H118.85zM129.93 445.82H135.47V450.76H129.93zM168.72 445.82H179.81V450.76H168.72zM296.18 445.82H301.73V450.76H296.18zM323.89 445.82H334.98V450.76H323.89zM340.52 445.82H346.06V450.76H340.52zM368.23 445.82H373.77V450.76H368.23zM401.48 445.82H407.02V450.76H401.48zM30.18 450.76H41.27V455.71H30.18zM201.97 450.76H213.06V455.71H201.97zM16.1 455.71H24.64V460.66H16.1zM168.72 455.71H179.81V460.66H168.72zM80.06 460.66H91.14V465.61H80.06zM16.1 470.55H24.64V478.5H16.1z"/>
<path fill="#5f7ee7" d="M24.64 302.34H30.18V307.29H24.64zM63.43 302.34H68.97V307.29H63.43zM113.31 302.34H124.39V307.29H113.31zM135.47 302.34H141.02V307.29H135.47zM163.18 302.34H174.27V307.29H163.18zM190.89 302.34H196.43V307.29H190.89zM201.97 302.34H207.52V307.29H201.97zM262.93 302.34H268.48V307.29H262.93zM285.1 302.34H290.64V307.29H285.1zM329.43 302.34H334.98V307.29H329.43zM346.06 302.34H357.14V307.29H346.06zM390.39 302.34H395.93V307.29H390.39zM401.48 302.34H407.02V307.29H401.48zM418.1 302.34H423.64V307.29H418.1zM434.73 302.34H440.27V307.29H434.73zM462.43 302.34H467.98V307.29H462.43zM35.73 401.29H68.97V406.24H35.73zM207.52 401.29H213.06V406.24H207.52zM224.14 401.29H229.68V406.24H224.14zM318.35 401.29H323.89V406.24H318.35zM390.39 401.29H395.93V406.24H390.39zM423.64 401.29H434.73V406.24H423.64zM451.35 401.29H456.89V406.24H451.35zM467.98 401.29H473.52V406.24H467.98zM30.18 430.97H35.73V435.92H30.18zM279.56 430.97H285.1V435.92H279.56zM440.27 430.97H445.81V435.92H440.27zM24.64 445.82H30.18V450.76H24.64zM102.22 445.82H118.85V450.76H102.22zM157.64 445.82H163.18V450.76H157.64zM257.39 445.82H262.93V450.76H257.39zM346.06 445.82H351.6V450.76H346.06zM395.93 445.82H401.48V450.76H395.93zM445.81 445.82H451.35V450.76H445.81zM467.98 445.82H473.52V450.76H467.98zM46.81 450.76H52.35V455.71H46.81zM274.02 455.71H279.56V460.66H274.02zM285.1 455.71H290.64V460.66H285.1zM329.43 455.71H334.98V460.66H329.43zM24.64 460.66H30.18V465.61H24.64zM118.85 460.66H124.39V465.61H118.85zM179.81 460.66H185.35V465.61H179.81zM462.43 460.66H467.98V465.61H462.43z"/>
<path fill="#6687ec" d="M251.85 282.55H257.39V287.5H251.85zM107.77 302.34H113.31V307.29H107.77zM157.64 302.34H163.18V307.29H157.64zM251.85 302.34H257.39V307.29H251.85zM290.64 302.34H296.18V307.29H290.64zM312.81 302.34H318.35V307.29H312.81zM340.52 302.34H346.06V307.29H340.52zM368.23 391.39H373.77V396.34H368.23zM30.18 401.29H35.73V406.24H30.18zM218.6 401.29H224.14V406.24H218.6zM434.73 401.29H440.27V406.24H434.73zM473.52 401.29H479.06V406.24H473.52zM24.64 430.97H30.18V435.92H24.64zM373.77 430.97H379.31V435.92H373.77zM401.48 430.97H407.02V435.92H401.48zM74.52 445.82H80.06V450.76H74.52zM96.68 445.82H102.22V450.76H96.68zM135.47 445.82H141.02V450.76H135.47zM290.64 445.82H296.18V450.76H290.64zM351.6 445.82H357.14V450.76H351.6zM362.68 445.82H368.23V450.76H362.68zM390.39 445.82H395.93V450.76H390.39z"/>
<path fill="#6d8ff1" d="M85.6 282.55H91.14V287.5H85.6zM152.1 282.55H157.64V287.5H152.1zM201.97 282.55H207.52V287.5H201.97zM268.48 282.55H274.02V287.5H268.48zM85.6 302.34H107.77V307.29H85.6zM141.02 302.34H157.64V307.29H141.02zM196.43 302.34H201.97V307.29H196.43zM257.39 302.34H262.93V307.29H257.39zM296.18 302.34H312.81V307.29H296.18zM334.98 302.34H340.52V307.29H334.98zM395.93 302.34H401.48V307.29H395.93zM440.27 302.34H451.35V307.29H440.27zM85.6 381.5H102.22V386.45H85.6zM113.31 381.5H118.85V386.45H113.31zM85.6 391.39H91.14V396.34H85.6zM373.77 391.39H384.85V396.34H373.77zM418.1 391.39H434.73V396.34H418.1zM467.98 391.39H473.52V396.34H467.98zM213.06 401.29H218.6V406.24H213.06zM390.39 430.97H401.48V435.92H390.39zM141.02 445.82H157.64V450.76H141.02zM262.93 445.82H290.64V450.76H262.93zM357.14 445.82H362.68V450.76H357.14zM279.56 455.71H285.1V460.66H279.56zM168.72 460.66H179.81V465.61H168.72z"/>
<path fill="#7496f4" d="M16.1 302.34H24.64V307.29H16.1zM479.06 401.29H487.6V406.24H479.06zM16.1 430.97H24.64V435.92H16.1zM16.1 445.82H24.64V450.76H16.1zM384.85 445.82H390.39V450.76H384.85zM52.35 450.76H57.89V455.71H52.35zM323.89 455.71H329.43V460.66H323.89zM16.1 460.66H24.64V465.61H16.1z"/>
<path fill="#7b9ef8" d="M80.06 282.55H85.6V287.5H80.06zM91.14 282.55H96.68V287.5H91.14zM196.43 282.55H201.97V287.5H196.43zM207.52 282.55H213.06V287.5H207.52zM257.39 282.55H268.48V287.5H257.39zM274.02 282.55H279.56V287.5H274.02zM68.97 302.34H74.52V307.29H68.97zM80.06 302.34H85.6V307.29H80.06zM451.35 302.34H462.43V307.29H451.35zM80.06 381.5H85.6V386.45H80.06zM102.22 381.5H113.31V386.45H102.22zM118.85 381.5H124.39V386.45H118.85zM80.06 391.39H85.6V396.34H80.06zM91.14 391.39H96.68V396.34H91.14zM384.85 391.39H390.39V396.34H384.85zM412.56 391.39H418.1V396.34H412.56zM24.64 401.29H30.18V406.24H24.64zM440.27 401.29H451.35V406.24H440.27zM379.31 430.97H390.39V435.92H379.31zM80.06 445.82H85.6V450.76H80.06zM91.14 445.82H96.68V450.76H91.14zM451.35 445.82H456.89V450.76H451.35zM462.43 445.82H467.98V450.76H462.43zM124.39 460.66H129.93V465.61H124.39zM163.18 460.66H168.72V465.61H163.18zM467.98 460.66H473.52V465.61H467.98z"/>
<path fill="#82a5fa" d="M41.27 282.55H46.81V287.5H41.27zM96.68 282.55H118.85V287.5H96.68zM146.56 282.55H152.1V287.5H146.56zM157.64 282.55H163.18V287.5H157.64zM213.06 282.55H218.6V287.5H213.06zM279.56 282.55H285.1V287.5H279.56zM312.81 282.55H318.35V287.5H312.81zM368.23 282.55H390.39V287.5H368.23zM74.52 302.34H80.06V307.29H74.52zM479.06 302.34H487.6V307.29H479.06zM63.43 381.5H80.06V386.45H63.43zM152.1 381.5H157.64V386.45H152.1zM174.27 381.5H185.35V386.45H174.27zM41.27 391.39H80.06V396.34H41.27zM96.68 391.39H124.39V396.34H96.68zM296.18 391.39H301.73V396.34H296.18zM390.39 391.39H412.56V396.34H390.39zM434.73 391.39H440.27V396.34H434.73zM462.43 391.39H467.98V396.34H462.43zM473.52 391.39H479.06V396.34H473.52zM16.1 401.29H24.64V406.24H16.1zM113.31 406.24H118.85V411.18H113.31zM16.1 411.18H24.64V416.13H16.1zM290.64 421.08H312.81V426.02H290.64zM467.98 430.97H473.52V435.92H467.98zM85.6 445.82H91.14V450.76H85.6zM456.89 445.82H462.43V450.76H456.89zM129.93 460.66H135.47V465.61H129.93zM152.1 460.66H163.18V465.61H152.1zM473.52 460.66H479.06V465.61H473.52z"/>
<path fill="#89acfc" d="M35.73 282.55H41.27V287.5H35.73zM74.52 282.55H80.06V287.5H74.52zM118.85 282.55H124.39V287.5H118.85zM190.89 282.55H196.43V287.5H190.89zM218.6 282.55H224.14V287.5H218.6zM285.1 282.55H290.64V287.5H285.1zM307.27 282.55H312.81V287.5H307.27zM318.35 282.55H323.89V287.5H318.35zM362.68 282.55H368.23V287.5H362.68zM390.39 282.55H395.93V287.5H390.39zM412.56 282.55H423.64V287.5H412.56zM57.89 381.5H63.43V386.45H57.89zM124.39 381.5H129.93V386.45H124.39zM146.56 381.5H152.1V386.45H146.56zM157.64 381.5H163.18V386.45H157.64zM168.72 381.5H174.27V386.45H168.72zM185.35 381.5H190.89V386.45H185.35zM35.73 391.39H41.27V396.34H35.73zM124.39 391.39H129.93V396.34H124.39zM152.1 391.39H163.18V396.34H152.1zM290.64 391.39H296.18V396.34H290.64zM301.73 391.39H307.27V396.34H301.73zM80.06 406.24H91.14V411.18H80.06zM107.77 406.24H113.31V411.18H107.77zM118.85 406.24H124.39V411.18H118.85zM196.43 406.24H207.52V411.18H196.43zM24.64 411.18H30.18V416.13H24.64zM285.1 421.08H290.64V426.02H285.1zM312.81 421.08H318.35V426.02H312.81zM473.52 430.97H479.06V435.92H473.52zM135.47 460.66H141.02V465.61H135.47zM146.56 460.66H152.1V465.61H146.56z"/>
<path fill="#90b2fd" d="M473.52 282.55H479.06V287.5H473.52zM80.06 332.02H85.6V336.97H80.06zM201.97 332.02H207.52V336.97H201.97zM16.1 421.08H24.64V426.02H16.1zM479.06 421.08H487.6V426.02H479.06z"/>
<path fill="#97b7fe" d="M57.89 282.55H63.43V287.5H57.89zM124.39 282.55H135.47V287.5H124.39zM163.18 282.55H190.89V287.5H163.18zM290.64 282.55H307.27V287.5H290.64zM340.52 282.55H362.68V287.5H340.52zM395.93 282.55H412.56V287.5H395.93zM462.43 282.55H473.52V287.5H462.43zM46.81 381.5H57.89V386.45H46.81zM129.93 381.5H146.56V386.45H129.93zM163.18 381.5H168.72V386.45H163.18zM190.89 381.5H224.14V386.45H190.89zM423.64 381.5H440.27V386.45H423.64zM467.98 381.5H473.52V386.45H467.98zM163.18 391.39H174.27V396.34H163.18zM190.89 391.39H196.43V396.34H190.89zM307.27 391.39H368.23V396.34H307.27zM451.35 391.39H462.43V396.34H451.35zM479.06 391.39H487.6V396.34H479.06zM91.14 406.24H107.77V411.18H91.14zM163.18 406.24H196.43V411.18H163.18zM207.52 406.24H218.6V411.18H207.52zM351.6 411.18H357.14V416.13H351.6zM390.39 411.18H395.93V416.13H390.39zM240.77 421.08H246.31V426.02H240.77zM346.06 421.08H362.68V426.02H346.06zM423.64 421.08H429.18V426.02H423.64zM479.06 430.97H487.6V435.92H479.06zM141.02 460.66H146.56V465.61H141.02z"/>
<path fill="#9dbdfe" d="M30.18 282.55H35.73V287.5H30.18zM63.43 282.55H74.52V287.5H63.43zM135.47 282.55H146.56V287.5H135.47zM224.14 282.55H229.68V287.5H224.14zM423.64 282.55H429.18V287.5H423.64zM456.89 282.55H462.43V287.5H456.89zM85.6 332.02H91.14V336.97H85.6zM207.52 332.02H213.06V336.97H207.52zM41.27 381.5H46.81V386.45H41.27zM462.43 381.5H467.98V386.45H462.43zM473.52 381.5H479.06V386.45H473.52zM129.93 391.39H135.47V396.34H129.93zM146.56 391.39H152.1V396.34H146.56zM174.27 391.39H179.81V396.34H174.27zM185.35 391.39H190.89V396.34H185.35zM196.43 391.39H201.97V396.34H196.43zM285.1 391.39H290.64V396.34H285.1zM440.27 391.39H451.35V396.34H440.27zM74.52 406.24H80.06V411.18H74.52zM124.39 406.24H129.93V411.18H124.39zM157.64 406.24H163.18V411.18H157.64zM346.06 411.18H351.6V416.13H346.06zM384.85 411.18H390.39V416.13H384.85zM395.93 411.18H401.48V416.13H395.93zM24.64 421.08H30.18V426.02H24.64zM235.22 421.08H240.77V426.02H235.22zM279.56 421.08H285.1V426.02H279.56zM318.35 421.08H323.89V426.02H318.35zM340.52 421.08H346.06V426.02H340.52zM362.68 421.08H368.23V426.02H362.68zM418.1 421.08H423.64V426.02H418.1zM429.18 421.08H434.73V426.02H429.18zM473.52 421.08H479.06V426.02H473.52z"/>
<path fill="#a4c2fd" d="M52.35 282.55H57.89V287.5H52.35zM246.31 282.55H251.85V287.5H246.31zM323.89 282.55H329.43V287.5H323.89zM334.98 282.55H340.52V287.5H334.98zM429.18 282.55H456.89V287.5H429.18zM479.06 327.08H487.6V332.02H479.06zM16.1 332.02H24.64V336.97H16.1zM52.35 332.02H57.89V336.97H52.35zM179.81 332.02H190.89V336.97H179.81zM16.1 361.71H24.64V366.66H16.1zM35.73 366.66H46.81V371.6H35.73zM85.6 366.66H91.14V371.6H85.6zM163.18 366.66H168.72V371.6H163.18zM235.22 371.6H240.77V376.55H235.22zM41.27 376.55H74.52V381.5H41.27zM290.64 376.55H307.27V381.5H290.64zM224.14 381.5H229.68V386.45H224.14zM251.85 381.5H268.48V386.45H251.85zM351.6 381.5H368.23V386.45H351.6zM384.85 381.5H395.93V386.45H384.85zM418.1 381.5H423.64V386.45H418.1zM440.27 381.5H445.81V386.45H440.27zM456.89 381.5H462.43V386.45H456.89zM479.06 381.5H487.6V386.45H479.06zM30.18 391.39H35.73V396.34H30.18zM135.47 391.39H146.56V396.34H135.47zM179.81 391.39H185.35V396.34H179.81zM224.14 391.39H229.68V396.34H224.14zM46.81 406.24H74.52V411.18H46.81zM152.1 406.24H157.64V411.18H152.1zM218.6 406.24H224.14V411.18H218.6zM285.1 406.24H312.81V411.18H285.1zM479.06 406.24H487.6V411.18H479.06zM30.18 411.18H35.73V416.13H30.18zM357.14 411.18H362.68V416.13H357.14zM401.48 411.18H407.02V416.13H401.48zM434.73 411.18H451.35V416.13H434.73zM479.06 411.18H487.6V416.13H479.06zM168.72 421.08H185.35V426.02H168.72zM201.97 421.08H235.22V426.02H201.97zM246.31 421.08H251.85V426.02H246.31zM368.23 421.08H379.31V426.02H368.23zM407.02 421.08H418.1V426.02H407.02zM456.89 421.08H473.52V426.02H456.89z"/>
<path fill="#abc7fc" d="M24.64 282.55H30.18V287.5H24.64zM229.68 282.55H235.22V287.5H229.68zM240.77 282.55H246.31V287.5H240.77zM473.52 327.08H479.06V332.02H473.52zM24.64 332.02H30.18V336.97H24.64zM46.81 332.02H52.35V336.97H46.81zM57.89 332.02H63.43V336.97H57.89zM91.14 332.02H96.68V336.97H91.14zM174.27 332.02H179.81V336.97H174.27zM190.89 332.02H196.43V336.97H190.89zM213.06 332.02H218.6V336.97H213.06zM24.64 361.71H30.18V366.66H24.64zM30.18 366.66H35.73V371.6H30.18zM46.81 366.66H52.35V371.6H46.81zM80.06 366.66H85.6V371.6H80.06zM91.14 366.66H96.68V371.6H91.14zM135.47 366.66H146.56V371.6H135.47zM157.64 366.66H163.18V371.6H157.64zM168.72 366.66H174.27V371.6H168.72zM423.64 366.66H434.73V371.6H423.64zM467.98 366.66H479.06V371.6H467.98zM240.77 371.6H246.31V376.55H240.77zM35.73 376.55H41.27V381.5H35.73zM74.52 376.55H80.06V381.5H74.52zM285.1 376.55H290.64V381.5H285.1zM307.27 376.55H312.81V381.5H307.27zM35.73 381.5H41.27V386.45H35.73zM246.31 381.5H251.85V386.45H246.31zM268.48 381.5H274.02V386.45H268.48zM318.35 381.5H329.43V386.45H318.35zM346.06 381.5H351.6V386.45H346.06zM368.23 381.5H373.77V386.45H368.23zM379.31 381.5H384.85V386.45H379.31zM395.93 381.5H401.48V386.45H395.93zM451.35 381.5H456.89V386.45H451.35zM201.97 391.39H207.52V396.34H201.97zM218.6 391.39H224.14V396.34H218.6zM229.68 391.39H235.22V396.34H229.68zM279.56 391.39H285.1V396.34H279.56zM41.27 406.24H46.81V411.18H41.27zM129.93 406.24H135.47V411.18H129.93zM146.56 406.24H152.1V411.18H146.56zM279.56 406.24H285.1V411.18H279.56zM312.81 406.24H318.35V411.18H312.81zM473.52 406.24H479.06V411.18H473.52zM240.77 411.18H251.85V416.13H240.77zM262.93 411.18H274.02V416.13H262.93zM340.52 411.18H346.06V416.13H340.52zM379.31 411.18H384.85V416.13H379.31zM407.02 411.18H412.56V416.13H407.02zM429.18 411.18H434.73V416.13H429.18zM451.35 411.18H456.89V416.13H451.35zM473.52 411.18H479.06V416.13H473.52zM30.18 421.08H35.73V426.02H30.18zM163.18 421.08H168.72V426.02H163.18zM185.35 421.08H190.89V426.02H185.35zM196.43 421.08H201.97V426.02H196.43zM274.02 421.08H279.56V426.02H274.02zM323.89 421.08H329.43V426.02H323.89zM334.98 421.08H340.52V426.02H334.98zM379.31 421.08H384.85V426.02H379.31zM401.48 421.08H407.02V426.02H401.48zM434.73 421.08H440.27V426.02H434.73zM451.35 421.08H456.89V426.02H451.35zM80.06 435.92H91.14V440.87H80.06zM96.68 435.92H107.77V440.87H96.68z"/>
<path fill="#b2ccfa" d="M35.73 274.6H41.27V282.55H35.73zM268.48 274.6H285.1V282.55H268.48zM334.98 274.6H384.85V282.55H334.98zM467.98 274.6H487.6V282.55H467.98zM235.22 282.55H240.77V287.5H235.22zM329.43 282.55H334.98V287.5H329.43zM52.35 322.13H80.06V327.08H52.35zM196.43 322.13H213.06V327.08H196.43zM229.68 322.13H235.22V327.08H229.68zM30.18 332.02H46.81V336.97H30.18zM63.43 332.02H74.52V336.97H63.43zM107.77 332.02H135.47V336.97H107.77zM146.56 332.02H163.18V336.97H146.56zM467.98 332.02H487.6V336.97H467.98zM279.56 361.71H285.1V366.66H279.56zM52.35 366.66H80.06V371.6H52.35zM96.68 366.66H107.77V371.6H96.68zM124.39 366.66H135.47V371.6H124.39zM174.27 366.66H196.43V371.6H174.27zM362.68 366.66H368.23V371.6H362.68zM207.52 371.6H224.14V376.55H207.52zM362.68 371.6H368.23V376.55H362.68zM307.27 381.5H318.35V386.45H307.27zM329.43 381.5H346.06V386.45H329.43zM373.77 381.5H379.31V386.45H373.77zM401.48 381.5H418.1V386.45H401.48zM445.81 381.5H451.35V386.45H445.81zM235.22 391.39H268.48V396.34H235.22zM30.18 406.24H41.27V411.18H30.18zM224.14 406.24H235.22V411.18H224.14zM362.68 406.24H379.31V411.18H362.68zM407.02 406.24H423.64V411.18H407.02zM462.43 406.24H473.52V411.18H462.43zM329.43 411.18H340.52V416.13H329.43zM362.68 411.18H379.31V416.13H362.68zM412.56 411.18H429.18V416.13H412.56zM456.89 411.18H473.52V416.13H456.89zM16.1 416.13H24.64V421.08H16.1zM96.68 416.13H102.22V421.08H96.68zM157.64 416.13H163.18V421.08H157.64zM35.73 421.08H46.81V426.02H35.73zM57.89 421.08H74.52V426.02H57.89zM91.14 421.08H118.85V426.02H91.14zM190.89 421.08H196.43V426.02H190.89zM329.43 421.08H334.98V426.02H329.43zM384.85 421.08H401.48V426.02H384.85zM30.18 435.92H35.73V440.87H30.18zM91.14 435.92H96.68V440.87H91.14z"/>
<path fill="#b9cff7" d="M41.27 274.6H46.81V282.55H41.27zM285.1 274.6H290.64V282.55H285.1zM329.43 274.6H334.98V282.55H329.43zM462.43 274.6H467.98V282.55H462.43zM16.1 282.55H24.64V287.5H16.1zM46.81 282.55H52.35V287.5H46.81zM46.81 322.13H52.35V327.08H46.81zM190.89 322.13H196.43V327.08H190.89zM235.22 322.13H240.77V327.08H235.22zM467.98 327.08H473.52V332.02H467.98zM74.52 332.02H80.06V336.97H74.52zM96.68 332.02H107.77V336.97H96.68zM135.47 332.02H146.56V336.97H135.47zM163.18 332.02H174.27V336.97H163.18zM196.43 332.02H201.97V336.97H196.43zM285.1 361.71H290.64V366.66H285.1zM24.64 366.66H30.18V371.6H24.64zM107.77 366.66H113.31V371.6H107.77zM118.85 366.66H124.39V371.6H118.85zM146.56 366.66H157.64V371.6H146.56zM357.14 366.66H362.68V371.6H357.14zM368.23 366.66H373.77V371.6H368.23zM434.73 366.66H440.27V371.6H434.73zM479.06 366.66H487.6V371.6H479.06zM201.97 371.6H207.52V376.55H201.97zM357.14 371.6H362.68V376.55H357.14zM368.23 371.6H373.77V376.55H368.23zM80.06 376.55H85.6V381.5H80.06zM312.81 376.55H318.35V381.5H312.81zM30.18 381.5H35.73V386.45H30.18zM229.68 381.5H235.22V386.45H229.68zM240.77 381.5H246.31V386.45H240.77zM274.02 381.5H279.56V386.45H274.02zM301.73 381.5H307.27V386.45H301.73zM207.52 391.39H218.6V396.34H207.52zM268.48 391.39H279.56V396.34H268.48zM24.64 406.24H30.18V411.18H24.64zM135.47 406.24H146.56V411.18H135.47zM235.22 406.24H240.77V411.18H235.22zM274.02 406.24H279.56V411.18H274.02zM318.35 406.24H323.89V411.18H318.35zM357.14 406.24H362.68V411.18H357.14zM423.64 406.24H429.18V411.18H423.64zM456.89 406.24H462.43V411.18H456.89zM35.73 411.18H41.27V416.13H35.73zM235.22 411.18H240.77V416.13H235.22zM251.85 411.18H262.93V416.13H251.85zM274.02 411.18H279.56V416.13H274.02zM24.64 416.13H30.18V421.08H24.64zM91.14 416.13H96.68V421.08H91.14zM102.22 416.13H107.77V421.08H102.22zM152.1 416.13H157.64V421.08H152.1zM163.18 416.13H168.72V421.08H163.18zM46.81 421.08H57.89V426.02H46.81zM74.52 421.08H80.06V426.02H74.52zM85.6 421.08H91.14V426.02H85.6zM118.85 421.08H124.39V426.02H118.85zM251.85 421.08H257.39V426.02H251.85zM268.48 421.08H274.02V426.02H268.48zM440.27 421.08H451.35V426.02H440.27zM24.64 435.92H30.18V440.87H24.64zM35.73 435.92H41.27V440.87H35.73z"/>
<path fill="#c0d3f5" d="M46.81 274.6H74.52V282.55H46.81zM168.72 274.6H224.14V282.55H168.72zM251.85 274.6H257.39V282.55H251.85zM290.64 274.6H312.81V282.55H290.64zM429.18 274.6H462.43V282.55H429.18zM479.06 282.55H487.6V287.5H479.06zM41.27 297.39H63.43V302.34H41.27zM118.85 307.29H124.39V312.23H118.85zM35.73 322.13H46.81V327.08H35.73zM113.31 322.13H135.47V327.08H113.31zM163.18 322.13H168.72V327.08H163.18zM185.35 322.13H190.89V327.08H185.35zM257.39 322.13H262.93V327.08H257.39zM429.18 322.13H445.81V327.08H429.18zM35.73 327.08H91.14V332.02H35.73zM118.85 327.08H152.1V332.02H118.85zM279.56 327.08H285.1V332.02H279.56zM407.02 327.08H418.1V332.02H407.02zM246.31 332.02H279.56V336.97H246.31zM312.81 332.02H334.98V336.97H312.81zM235.22 361.71H251.85V366.66H235.22zM329.43 361.71H340.52V366.66H329.43zM479.06 361.71H487.6V366.66H479.06zM16.1 366.66H24.64V371.6H16.1zM113.31 366.66H118.85V371.6H113.31zM307.27 366.66H329.43V371.6H307.27zM351.6 366.66H357.14V371.6H351.6zM373.77 366.66H384.85V371.6H373.77zM16.1 371.6H30.18V376.55H16.1zM174.27 371.6H201.97V376.55H174.27zM351.6 371.6H357.14V376.55H351.6zM373.77 371.6H384.85V376.55H373.77zM85.6 376.55H124.39V381.5H85.6zM174.27 376.55H190.89V381.5H174.27zM16.1 381.5H30.18V386.45H16.1zM235.22 381.5H240.77V386.45H235.22zM279.56 381.5H301.73V386.45H279.56zM16.1 406.24H24.64V411.18H16.1zM240.77 406.24H274.02V411.18H240.77zM323.89 406.24H329.43V411.18H323.89zM351.6 406.24H357.14V411.18H351.6zM80.06 416.13H91.14V421.08H80.06zM107.77 416.13H124.39V421.08H107.77zM479.06 416.13H487.6V421.08H479.06zM80.06 421.08H85.6V426.02H80.06zM257.39 421.08H268.48V426.02H257.39zM16.1 426.02H24.64V430.97H16.1zM16.1 435.92H24.64V440.87H16.1zM373.77 435.92H384.85V440.87H373.77zM429.18 435.92H445.81V440.87H429.18zM473.52 435.92H487.6V440.87H473.52z"/>
<path fill="#c6d5f1" d="M30.18 274.6H35.73V282.55H30.18zM384.85 274.6H390.39V282.55H384.85zM213.06 322.13H218.6V327.08H213.06zM224.14 322.13H229.68V327.08H224.14zM218.6 332.02H224.14V336.97H218.6zM462.43 332.02H467.98V336.97H462.43zM30.18 361.71H35.73V366.66H30.18zM274.02 361.71H279.56V366.66H274.02zM196.43 366.66H201.97V371.6H196.43zM418.1 366.66H423.64V371.6H418.1zM462.43 366.66H467.98V371.6H462.43zM224.14 371.6H229.68V376.55H224.14zM246.31 371.6H251.85V376.55H246.31zM30.18 376.55H35.73V381.5H30.18zM279.56 376.55H285.1V381.5H279.56zM24.64 391.39H30.18V396.34H24.64zM379.31 406.24H384.85V411.18H379.31zM401.48 406.24H407.02V411.18H401.48zM323.89 411.18H329.43V416.13H323.89zM157.64 421.08H163.18V426.02H157.64zM74.52 435.92H80.06V440.87H74.52zM107.77 435.92H113.31V440.87H107.77z"/>
<path fill="#ccd8ec" d="M163.18 274.6H168.72V282.55H163.18zM224.14 274.6H229.68V282.55H224.14zM246.31 274.6H251.85V282.55H246.31zM257.39 274.6H262.93V282.55H257.39zM312.81 274.6H318.35V282.55H312.81zM323.89 274.6H329.43V282.55H323.89zM423.64 274.6H429.18V282.55H423.64zM196.43 287.5H207.52V292.44H196.43zM224.14 292.44H235.22V297.39H224.14zM35.73 297.39H41.27V302.34H35.73zM63.43 297.39H68.97V302.34H63.43zM135.47 297.39H146.56V302.34H135.47zM68.97 307.29H80.06V312.23H68.97zM113.31 307.29H118.85V312.23H113.31zM124.39 307.29H129.93V312.23H124.39zM196.43 312.23H207.52V317.18H196.43zM30.18 322.13H35.73V327.08H30.18zM107.77 322.13H113.31V327.08H107.77zM135.47 322.13H141.02V327.08H135.47zM157.64 322.13H163.18V327.08H157.64zM168.72 322.13H174.27V327.08H168.72zM179.81 322.13H185.35V327.08H179.81zM240.77 322.13H246.31V327.08H240.77zM251.85 322.13H257.39V327.08H251.85zM279.56 322.13H290.64V327.08H279.56zM423.64 322.13H429.18V327.08H423.64zM445.81 322.13H451.35V327.08H445.81zM479.06 322.13H487.6V327.08H479.06zM30.18 327.08H35.73V332.02H30.18zM91.14 327.08H96.68V332.02H91.14zM113.31 327.08H118.85V332.02H113.31zM152.1 327.08H157.64V332.02H152.1zM274.02 327.08H279.56V332.02H274.02zM285.1 327.08H290.64V332.02H285.1zM323.89 327.08H334.98V332.02H323.89zM379.31 327.08H390.39V332.02H379.31zM401.48 327.08H407.02V332.02H401.48zM418.1 327.08H423.64V332.02H418.1zM440.27 327.08H451.35V332.02H440.27zM462.43 327.08H467.98V332.02H462.43zM240.77 332.02H246.31V336.97H240.77zM279.56 332.02H285.1V336.97H279.56zM307.27 332.02H312.81V336.97H307.27zM440.27 332.02H451.35V336.97H440.27zM229.68 361.71H235.22V366.66H229.68zM251.85 361.71H257.39V366.66H251.85zM290.64 361.71H296.18V366.66H290.64zM323.89 361.71H329.43V366.66H323.89zM340.52 361.71H346.06V366.66H340.52zM384.85 361.71H395.93V366.66H384.85zM473.52 361.71H479.06V366.66H473.52zM235.22 366.66H246.31V371.6H235.22zM301.73 366.66H307.27V371.6H301.73zM329.43 366.66H334.98V371.6H329.43zM346.06 366.66H351.6V371.6H346.06zM384.85 366.66H390.39V371.6H384.85zM440.27 366.66H445.81V371.6H440.27zM141.02 371.6H152.1V376.55H141.02zM168.72 371.6H174.27V376.55H168.72zM323.89 371.6H334.98V376.55H323.89zM346.06 371.6H351.6V376.55H346.06zM384.85 371.6H390.39V376.55H384.85zM124.39 376.55H129.93V381.5H124.39zM168.72 376.55H174.27V381.5H168.72zM190.89 376.55H196.43V381.5H190.89zM318.35 376.55H323.89V381.5H318.35zM379.31 396.34H390.39V401.29H379.31zM479.06 396.34H487.6V401.29H479.06zM329.43 406.24H334.98V411.18H329.43zM346.06 406.24H351.6V411.18H346.06zM429.18 406.24H434.73V411.18H429.18zM451.35 406.24H456.89V411.18H451.35zM41.27 411.18H46.81V416.13H41.27zM229.68 411.18H235.22V416.13H229.68zM279.56 411.18H285.1V416.13H279.56zM74.52 416.13H80.06V421.08H74.52zM124.39 416.13H129.93V421.08H124.39zM146.56 416.13H152.1V421.08H146.56zM168.72 416.13H174.27V421.08H168.72zM357.14 416.13H368.23V421.08H357.14zM124.39 421.08H129.93V426.02H124.39zM41.27 435.92H46.81V440.87H41.27zM157.64 435.92H168.72V440.87H157.64zM368.23 435.92H373.77V440.87H368.23zM384.85 435.92H390.39V440.87H384.85zM423.64 435.92H429.18V440.87H423.64zM445.81 435.92H451.35V440.87H445.81zM467.98 435.92H473.52V440.87H467.98z"/>
<path fill="#d2dae7" d="M152.1 274.6H163.18V282.55H152.1zM229.68 274.6H246.31V282.55H229.68zM318.35 274.6H323.89V282.55H318.35zM185.35 287.5H196.43V292.44H185.35zM246.31 287.5H262.93V292.44H246.31zM207.52 292.44H213.06V297.39H207.52zM423.64 292.44H440.27V297.39H423.64zM124.39 297.39H135.47V302.34H124.39zM80.06 307.29H91.14V312.23H80.06zM146.56 307.29H152.1V312.23H146.56zM268.48 307.29H274.02V312.23H268.48zM185.35 312.23H196.43V317.18H185.35zM207.52 312.23H262.93V317.18H207.52zM418.1 317.18H423.64V322.13H418.1zM440.27 317.18H445.81V322.13H440.27zM85.6 322.13H107.77V327.08H85.6zM141.02 322.13H157.64V327.08H141.02zM174.27 322.13H179.81V327.08H174.27zM218.6 322.13H224.14V327.08H218.6zM246.31 322.13H251.85V327.08H246.31zM290.64 322.13H301.73V327.08H290.64zM329.43 322.13H334.98V327.08H329.43zM401.48 322.13H423.64V327.08H401.48zM96.68 327.08H113.31V332.02H96.68zM157.64 327.08H179.81V332.02H157.64zM290.64 327.08H301.73V332.02H290.64zM346.06 327.08H379.31V332.02H346.06zM224.14 332.02H240.77V336.97H224.14zM357.14 332.02H384.85V336.97H357.14zM346.06 361.71H384.85V366.66H346.06zM395.93 361.71H407.02V366.66H395.93zM423.64 361.71H440.27V366.66H423.64zM451.35 361.71H456.89V366.66H451.35zM279.56 366.66H301.73V371.6H279.56zM445.81 366.66H462.43V371.6H445.81zM152.1 371.6H168.72V376.55H152.1zM279.56 371.6H323.89V376.55H279.56zM473.52 371.6H479.06V376.55H473.52zM157.64 376.55H168.72V381.5H157.64zM268.48 376.55H279.56V381.5H268.48zM362.68 376.55H368.23V381.5H362.68zM423.64 376.55H429.18V381.5H423.64zM473.52 376.55H479.06V381.5H473.52zM207.52 396.34H246.31V401.29H207.52zM334.98 396.34H379.31V401.29H334.98zM390.39 396.34H401.48V401.29H390.39zM445.81 396.34H451.35V401.29H445.81zM384.85 406.24H401.48V411.18H384.85zM434.73 406.24H451.35V411.18H434.73zM218.6 411.18H229.68V416.13H218.6zM285.1 411.18H323.89V416.13H285.1zM63.43 416.13H74.52V421.08H63.43zM129.93 416.13H146.56V421.08H129.93zM229.68 416.13H323.89V421.08H229.68zM129.93 421.08H157.64V426.02H129.93zM113.31 435.92H146.56V440.87H113.31zM196.43 435.92H201.97V440.87H196.43zM257.39 435.92H262.93V440.87H257.39zM274.02 435.92H323.89V440.87H274.02zM346.06 435.92H368.23V440.87H346.06zM390.39 435.92H401.48V440.87H390.39zM451.35 435.92H467.98V440.87H451.35z"/>
<path fill="#d7dbe1" d="M24.64 274.6H30.18V282.55H24.64zM146.56 274.6H152.1V282.55H146.56zM262.93 274.6H268.48V282.55H262.93zM390.39 274.6H395.93V282.55H390.39zM418.1 274.6H423.64V282.55H418.1zM207.52 287.5H213.06V292.44H207.52zM262.93 287.5H268.48V292.44H262.93zM201.97 292.44H207.52V297.39H201.97zM213.06 292.44H224.14V297.39H213.06zM235.22 292.44H240.77V297.39H235.22zM418.1 292.44H423.64V297.39H418.1zM440.27 292.44H445.81V297.39H440.27zM30.18 297.39H35.73V302.34H30.18zM68.97 297.39H74.52V302.34H68.97zM118.85 297.39H124.39V302.34H118.85zM63.43 307.29H68.97V312.23H63.43zM91.14 307.29H96.68V312.23H91.14zM107.77 307.29H113.31V312.23H107.77zM129.93 307.29H135.47V312.23H129.93zM141.02 307.29H146.56V312.23H141.02zM152.1 307.29H157.64V312.23H152.1zM262.93 307.29H268.48V312.23H262.93zM179.81 312.23H185.35V317.18H179.81zM262.93 312.23H268.48V317.18H262.93zM423.64 317.18H429.18V322.13H423.64zM434.73 317.18H440.27V322.13H434.73zM445.81 317.18H451.35V322.13H445.81zM24.64 322.13H30.18V327.08H24.64zM80.06 322.13H85.6V327.08H80.06zM274.02 322.13H279.56V327.08H274.02zM395.93 322.13H401.48V327.08H395.93zM451.35 322.13H456.89V327.08H451.35zM473.52 322.13H479.06V327.08H473.52zM179.81 327.08H185.35V332.02H179.81zM268.48 327.08H274.02V332.02H268.48zM301.73 327.08H307.27V332.02H301.73zM318.35 327.08H323.89V332.02H318.35zM334.98 327.08H346.06V332.02H334.98zM390.39 327.08H401.48V332.02H390.39zM423.64 327.08H429.18V332.02H423.64zM434.73 327.08H440.27V332.02H434.73zM451.35 327.08H462.43V332.02H451.35zM351.6 332.02H357.14V336.97H351.6zM451.35 332.02H462.43V336.97H451.35zM35.73 361.71H41.27V366.66H35.73zM224.14 361.71H229.68V366.66H224.14zM257.39 361.71H262.93V366.66H257.39zM268.48 361.71H274.02V366.66H268.48zM296.18 361.71H301.73V366.66H296.18zM318.35 361.71H323.89V366.66H318.35zM407.02 361.71H412.56V366.66H407.02zM418.1 361.71H423.64V366.66H418.1zM440.27 361.71H451.35V366.66H440.27zM456.89 361.71H462.43V366.66H456.89zM467.98 361.71H473.52V366.66H467.98zM229.68 366.66H235.22V371.6H229.68zM246.31 366.66H251.85V371.6H246.31zM274.02 366.66H279.56V371.6H274.02zM334.98 366.66H346.06V371.6H334.98zM390.39 366.66H395.93V371.6H390.39zM135.47 371.6H141.02V376.55H135.47zM229.68 371.6H235.22V376.55H229.68zM274.02 371.6H279.56V376.55H274.02zM334.98 371.6H346.06V376.55H334.98zM390.39 371.6H395.93V376.55H390.39zM467.98 371.6H473.52V376.55H467.98zM479.06 371.6H487.6V376.55H479.06zM129.93 376.55H135.47V381.5H129.93zM152.1 376.55H157.64V381.5H152.1zM196.43 376.55H201.97V381.5H196.43zM323.89 376.55H329.43V381.5H323.89zM357.14 376.55H362.68V381.5H357.14zM368.23 376.55H373.77V381.5H368.23zM418.1 376.55H423.64V381.5H418.1zM429.18 376.55H434.73V381.5H429.18zM467.98 376.55H473.52V381.5H467.98zM479.06 376.55H487.6V381.5H479.06zM16.1 391.39H24.64V396.34H16.1zM201.97 396.34H207.52V401.29H201.97zM246.31 396.34H251.85V401.29H246.31zM329.43 396.34H334.98V401.29H329.43zM401.48 396.34H407.02V401.29H401.48zM440.27 396.34H445.81V401.29H440.27zM451.35 396.34H456.89V401.29H451.35zM473.52 396.34H479.06V401.29H473.52zM334.98 406.24H346.06V411.18H334.98zM213.06 411.18H218.6V416.13H213.06zM174.27 416.13H179.81V421.08H174.27zM224.14 416.13H229.68V421.08H224.14zM368.23 416.13H373.77V421.08H368.23zM68.97 435.92H74.52V440.87H68.97zM146.56 435.92H157.64V440.87H146.56zM168.72 435.92H174.27V440.87H168.72zM190.89 435.92H196.43V440.87H190.89zM201.97 435.92H207.52V440.87H201.97zM251.85 435.92H257.39V440.87H251.85zM262.93 435.92H274.02V440.87H262.93zM340.52 435.92H346.06V440.87H340.52zM401.48 435.92H407.02V440.87H401.48zM418.1 435.92H423.64V440.87H418.1z"/>
<path fill="#dddcdb" d="M16.1 274.6H24.64V282.55H16.1zM124.39 274.6H146.56V282.55H124.39zM395.93 274.6H418.1V282.55H395.93zM80.06 287.5H96.68V292.44H80.06zM312.81 287.5H323.89V292.44H312.81zM357.14 287.5H384.85V292.44H357.14zM412.56 287.5H418.1V292.44H412.56zM440.27 287.5H467.98V292.44H440.27zM240.77 292.44H268.48V297.39H240.77zM407.02 292.44H418.1V297.39H407.02zM462.43 292.44H467.98V297.39H462.43zM16.1 297.39H30.18V302.34H16.1zM74.52 297.39H96.68V302.34H74.52zM113.31 297.39H118.85V302.34H113.31zM163.18 297.39H185.35V302.34H163.18zM429.18 297.39H434.73V302.34H429.18zM473.52 297.39H487.6V302.34H473.52zM16.1 307.29H63.43V312.23H16.1zM96.68 307.29H107.77V312.23H96.68zM135.47 307.29H141.02V312.23H135.47zM157.64 307.29H185.35V312.23H157.64zM246.31 307.29H262.93V312.23H246.31zM301.73 307.29H318.35V312.23H301.73zM351.6 307.29H384.85V312.23H351.6zM462.43 307.29H487.6V312.23H462.43zM429.18 317.18H434.73V322.13H429.18zM16.1 322.13H24.64V327.08H16.1zM373.77 322.13H395.93V327.08H373.77zM456.89 322.13H473.52V327.08H456.89zM224.14 327.08H268.48V332.02H224.14zM307.27 327.08H318.35V332.02H307.27zM429.18 327.08H434.73V332.02H429.18zM479.06 336.97H487.6V341.92H479.06zM41.27 361.71H57.89V366.66H41.27zM129.93 361.71H146.56V366.66H129.93zM163.18 361.71H196.43V366.66H163.18zM218.6 361.71H224.14V366.66H218.6zM262.93 361.71H268.48V366.66H262.93zM301.73 361.71H318.35V366.66H301.73zM412.56 361.71H418.1V366.66H412.56zM462.43 361.71H467.98V366.66H462.43zM395.93 366.66H401.48V371.6H395.93zM52.35 371.6H63.43V376.55H52.35zM129.93 371.6H135.47V376.55H129.93zM395.93 371.6H407.02V376.55H395.93zM429.18 371.6H451.35V376.55H429.18zM135.47 376.55H152.1V381.5H135.47zM373.77 376.55H418.1V381.5H373.77zM451.35 376.55H467.98V381.5H451.35zM146.56 396.34H152.1V401.29H146.56zM179.81 396.34H201.97V401.29H179.81zM251.85 396.34H262.93V401.29H251.85zM301.73 396.34H329.43V401.29H301.73zM434.73 396.34H440.27V401.29H434.73zM456.89 396.34H473.52V401.29H456.89zM63.43 411.18H68.97V416.13H63.43zM107.77 411.18H113.31V416.13H107.77zM129.93 411.18H146.56V416.13H129.93zM179.81 411.18H213.06V416.13H179.81zM179.81 416.13H185.35V421.08H179.81zM373.77 416.13H379.31V421.08H373.77zM418.1 416.13H429.18V421.08H418.1zM462.43 416.13H473.52V421.08H462.43zM63.43 435.92H68.97V440.87H63.43zM174.27 435.92H190.89V440.87H174.27zM207.52 435.92H251.85V440.87H207.52zM407.02 435.92H418.1V440.87H407.02zM479.06 460.66H487.6V465.61H479.06z"/>
<path fill="#e1d9d4" d="M179.81 287.5H185.35V292.44H179.81zM240.77 287.5H246.31V292.44H240.77zM146.56 297.39H152.1V302.34H146.56zM274.02 307.29H279.56V312.23H274.02zM412.56 317.18H418.1V322.13H412.56zM301.73 322.13H307.27V327.08H301.73zM323.89 322.13H329.43V327.08H323.89zM334.98 322.13H340.52V327.08H334.98zM24.64 327.08H30.18V332.02H24.64zM285.1 332.02H290.64V336.97H285.1zM301.73 332.02H307.27V336.97H301.73zM384.85 332.02H390.39V336.97H384.85zM434.73 332.02H440.27V336.97H434.73zM201.97 366.66H207.52V371.6H201.97zM412.56 366.66H418.1V371.6H412.56zM251.85 371.6H257.39V376.55H251.85zM24.64 376.55H30.18V381.5H24.64zM262.93 376.55H268.48V381.5H262.93zM46.81 411.18H52.35V416.13H46.81zM57.89 416.13H63.43V421.08H57.89zM323.89 416.13H329.43V421.08H323.89zM351.6 416.13H357.14V421.08H351.6zM46.81 435.92H52.35V440.87H46.81zM323.89 435.92H329.43V440.87H323.89z"/>
<path fill="#e6d6cd" d="M118.85 274.6H124.39V282.55H118.85zM74.52 287.5H80.06V292.44H74.52zM96.68 287.5H102.22V292.44H96.68zM213.06 287.5H218.6V292.44H213.06zM268.48 287.5H274.02V292.44H268.48zM307.27 287.5H312.81V292.44H307.27zM351.6 287.5H357.14V292.44H351.6zM384.85 287.5H390.39V292.44H384.85zM407.02 287.5H412.56V292.44H407.02zM418.1 287.5H423.64V292.44H418.1zM434.73 287.5H440.27V292.44H434.73zM467.98 287.5H473.52V292.44H467.98zM16.1 292.44H24.64V297.39H16.1zM74.52 292.44H85.6V297.39H74.52zM196.43 292.44H201.97V297.39H196.43zM268.48 292.44H274.02V297.39H268.48zM357.14 292.44H368.23V297.39H357.14zM401.48 292.44H407.02V297.39H401.48zM445.81 292.44H451.35V297.39H445.81zM456.89 292.44H462.43V297.39H456.89zM467.98 292.44H473.52V297.39H467.98zM96.68 297.39H102.22V302.34H96.68zM107.77 297.39H113.31V302.34H107.77zM157.64 297.39H163.18V302.34H157.64zM185.35 297.39H190.89V302.34H185.35zM213.06 297.39H224.14V302.34H213.06zM368.23 297.39H379.31V302.34H368.23zM423.64 297.39H429.18V302.34H423.64zM434.73 297.39H440.27V302.34H434.73zM467.98 297.39H473.52V302.34H467.98zM185.35 307.29H190.89V312.23H185.35zM196.43 307.29H207.52V312.23H196.43zM296.18 307.29H301.73V312.23H296.18zM318.35 307.29H323.89V312.23H318.35zM346.06 307.29H351.6V312.23H346.06zM384.85 307.29H390.39V312.23H384.85zM456.89 307.29H462.43V312.23H456.89zM16.1 312.23H24.64V317.18H16.1zM174.27 312.23H179.81V317.18H174.27zM268.48 312.23H274.02V317.18H268.48zM456.89 312.23H462.43V317.18H456.89zM257.39 317.18H268.48V322.13H257.39zM362.68 317.18H373.77V322.13H362.68zM379.31 317.18H390.39V322.13H379.31zM451.35 317.18H456.89V322.13H451.35zM268.48 322.13H274.02V327.08H268.48zM368.23 322.13H373.77V327.08H368.23zM185.35 327.08H190.89V332.02H185.35zM218.6 327.08H224.14V332.02H218.6zM346.06 332.02H351.6V336.97H346.06zM401.48 332.02H412.56V336.97H401.48zM201.97 336.97H207.52V341.92H201.97zM307.27 336.97H318.35V341.92H307.27zM57.89 361.71H63.43V366.66H57.89zM91.14 361.71H96.68V366.66H91.14zM124.39 361.71H129.93V366.66H124.39zM146.56 361.71H152.1V366.66H146.56zM157.64 361.71H163.18V366.66H157.64zM196.43 361.71H201.97V366.66H196.43zM213.06 361.71H218.6V366.66H213.06zM224.14 366.66H229.68V371.6H224.14zM251.85 366.66H257.39V371.6H251.85zM268.48 366.66H274.02V371.6H268.48zM401.48 366.66H407.02V371.6H401.48zM46.81 371.6H52.35V376.55H46.81zM63.43 371.6H68.97V376.55H63.43zM124.39 371.6H129.93V376.55H124.39zM268.48 371.6H274.02V376.55H268.48zM407.02 371.6H412.56V376.55H407.02zM423.64 371.6H429.18V376.55H423.64zM451.35 371.6H456.89V376.55H451.35zM462.43 371.6H467.98V376.55H462.43zM201.97 376.55H207.52V381.5H201.97zM235.22 376.55H246.31V381.5H235.22zM329.43 376.55H334.98V381.5H329.43zM351.6 376.55H357.14V381.5H351.6zM434.73 376.55H440.27V381.5H434.73zM445.81 376.55H451.35V381.5H445.81zM30.18 396.34H35.73V401.29H30.18zM141.02 396.34H146.56V401.29H141.02zM174.27 396.34H179.81V401.29H174.27zM262.93 396.34H268.48V401.29H262.93zM296.18 396.34H301.73V401.29H296.18zM407.02 396.34H412.56V401.29H407.02zM429.18 396.34H434.73V401.29H429.18zM57.89 411.18H63.43V416.13H57.89zM68.97 411.18H74.52V416.13H68.97zM102.22 411.18H107.77V416.13H102.22zM113.31 411.18H118.85V416.13H113.31zM124.39 411.18H129.93V416.13H124.39zM146.56 411.18H152.1V416.13H146.56zM174.27 411.18H179.81V416.13H174.27zM185.35 416.13H190.89V421.08H185.35zM218.6 416.13H224.14V421.08H218.6zM379.31 416.13H384.85V421.08H379.31zM412.56 416.13H418.1V421.08H412.56zM429.18 416.13H434.73V421.08H429.18zM456.89 416.13H462.43V421.08H456.89zM57.89 435.92H63.43V440.87H57.89zM334.98 435.92H340.52V440.87H334.98z"/>
<path fill="#ead3c6" d="M85.6 274.6H118.85V282.55H85.6zM141.02 287.5H157.64V292.44H141.02zM390.39 287.5H407.02V292.44H390.39zM24.64 292.44H35.73V297.39H24.64zM152.1 292.44H196.43V297.39H152.1zM274.02 292.44H296.18V297.39H274.02zM329.43 292.44H346.06V297.39H329.43zM368.23 292.44H379.31V297.39H368.23zM390.39 292.44H401.48V297.39H390.39zM451.35 292.44H456.89V297.39H451.35zM102.22 297.39H107.77V302.34H102.22zM152.1 297.39H157.64V302.34H152.1zM246.31 297.39H251.85V302.34H246.31zM262.93 297.39H301.73V302.34H262.93zM323.89 297.39H340.52V302.34H323.89zM379.31 297.39H390.39V302.34H379.31zM440.27 297.39H451.35V302.34H440.27zM190.89 307.29H196.43V312.23H190.89zM279.56 307.29H296.18V312.23H279.56zM407.02 307.29H423.64V312.23H407.02zM146.56 312.23H152.1V317.18H146.56zM285.1 312.23H290.64V317.18H285.1zM307.27 312.23H323.89V317.18H307.27zM351.6 312.23H357.14V317.18H351.6zM407.02 312.23H423.64V317.18H407.02zM462.43 312.23H473.52V317.18H462.43zM152.1 317.18H157.64V322.13H152.1zM329.43 317.18H346.06V322.13H329.43zM373.77 317.18H379.31V322.13H373.77zM390.39 317.18H401.48V322.13H390.39zM456.89 317.18H467.98V322.13H456.89zM307.27 322.13H323.89V327.08H307.27zM340.52 322.13H368.23V327.08H340.52zM91.14 336.97H96.68V341.92H91.14zM157.64 336.97H163.18V341.92H157.64zM262.93 336.97H268.48V341.92H262.93zM401.48 336.97H407.02V341.92H401.48zM63.43 361.71H91.14V366.66H63.43zM152.1 361.71H157.64V366.66H152.1zM407.02 366.66H412.56V371.6H407.02zM35.73 371.6H46.81V376.55H35.73zM68.97 371.6H80.06V376.55H68.97zM456.89 371.6H462.43V376.55H456.89zM207.52 376.55H235.22V381.5H207.52zM246.31 376.55H262.93V381.5H246.31zM440.27 376.55H445.81V381.5H440.27zM240.77 386.45H268.48V391.39H240.77zM80.06 396.34H85.6V401.29H80.06zM129.93 396.34H141.02V401.29H129.93zM163.18 396.34H174.27V401.29H163.18zM285.1 396.34H296.18V401.29H285.1zM412.56 396.34H429.18V401.29H412.56zM52.35 411.18H57.89V416.13H52.35zM91.14 411.18H102.22V416.13H91.14zM118.85 411.18H124.39V416.13H118.85zM163.18 411.18H174.27V416.13H163.18zM46.81 416.13H57.89V421.08H46.81zM190.89 416.13H201.97V421.08H190.89zM384.85 416.13H412.56V421.08H384.85zM52.35 435.92H57.89V440.87H52.35zM329.43 435.92H334.98V440.87H329.43z"/>
<path fill="#edcebe" d="M262.93 322.13H268.48V327.08H262.93zM16.1 327.08H24.64V332.02H16.1zM30.18 371.6H35.73V376.55H30.18zM16.1 376.55H24.64V381.5H16.1z"/>
<path fill="#f1cab6" d="M80.06 274.6H85.6V282.55H80.06zM102.22 287.5H107.77V292.44H102.22zM174.27 287.5H179.81V292.44H174.27zM218.6 287.5H224.14V292.44H218.6zM235.22 287.5H240.77V292.44H235.22zM274.02 287.5H279.56V292.44H274.02zM301.73 287.5H307.27V292.44H301.73zM346.06 287.5H351.6V292.44H346.06zM423.64 287.5H434.73V292.44H423.64zM35.73 292.44H41.27V297.39H35.73zM68.97 292.44H74.52V297.39H68.97zM85.6 292.44H91.14V297.39H85.6zM146.56 292.44H152.1V297.39H146.56zM296.18 292.44H301.73V297.39H296.18zM323.89 292.44H329.43V297.39H323.89zM346.06 292.44H357.14V297.39H346.06zM379.31 292.44H390.39V297.39H379.31zM190.89 297.39H196.43V302.34H190.89zM224.14 297.39H229.68V302.34H224.14zM240.77 297.39H246.31V302.34H240.77zM251.85 297.39H262.93V302.34H251.85zM340.52 297.39H346.06V302.34H340.52zM390.39 297.39H395.93V302.34H390.39zM418.1 297.39H423.64V302.34H418.1zM207.52 307.29H213.06V312.23H207.52zM323.89 307.29H329.43V312.23H323.89zM340.52 307.29H346.06V312.23H340.52zM390.39 307.29H395.93V312.23H390.39zM401.48 307.29H407.02V312.23H401.48zM141.02 312.23H146.56V317.18H141.02zM152.1 312.23H157.64V317.18H152.1zM168.72 312.23H174.27V317.18H168.72zM274.02 312.23H285.1V317.18H274.02zM357.14 312.23H362.68V317.18H357.14zM401.48 312.23H407.02V317.18H401.48zM423.64 312.23H429.18V317.18H423.64zM473.52 312.23H479.06V317.18H473.52zM146.56 317.18H152.1V322.13H146.56zM157.64 317.18H163.18V322.13H157.64zM251.85 317.18H257.39V322.13H251.85zM323.89 317.18H329.43V322.13H323.89zM346.06 317.18H351.6V322.13H346.06zM357.14 317.18H362.68V322.13H357.14zM401.48 317.18H412.56V322.13H401.48zM190.89 327.08H196.43V332.02H190.89zM213.06 327.08H218.6V332.02H213.06zM290.64 332.02H301.73V336.97H290.64zM340.52 332.02H346.06V336.97H340.52zM390.39 332.02H401.48V336.97H390.39zM412.56 332.02H418.1V336.97H412.56zM429.18 332.02H434.73V336.97H429.18zM85.6 336.97H91.14V341.92H85.6zM152.1 336.97H157.64V341.92H152.1zM207.52 336.97H213.06V341.92H207.52zM257.39 336.97H262.93V341.92H257.39zM268.48 336.97H274.02V341.92H268.48zM301.73 336.97H307.27V341.92H301.73zM407.02 336.97H412.56V341.92H407.02zM201.97 361.71H213.06V366.66H201.97zM207.52 366.66H213.06V371.6H207.52zM218.6 366.66H224.14V371.6H218.6zM257.39 366.66H268.48V371.6H257.39zM80.06 371.6H85.6V376.55H80.06zM118.85 371.6H124.39V376.55H118.85zM257.39 371.6H268.48V376.55H257.39zM412.56 371.6H423.64V376.55H412.56zM334.98 376.55H340.52V381.5H334.98zM346.06 376.55H351.6V381.5H346.06zM235.22 386.45H240.77V391.39H235.22zM35.73 396.34H41.27V401.29H35.73zM124.39 396.34H129.93V401.29H124.39zM268.48 396.34H274.02V401.29H268.48zM279.56 396.34H285.1V401.29H279.56zM74.52 411.18H80.06V416.13H74.52zM85.6 411.18H91.14V416.13H85.6zM152.1 411.18H163.18V416.13H152.1zM41.27 416.13H46.81V421.08H41.27zM201.97 416.13H207.52V421.08H201.97zM213.06 416.13H218.6V421.08H213.06zM346.06 416.13H351.6V421.08H346.06zM434.73 416.13H440.27V421.08H434.73zM451.35 416.13H456.89V421.08H451.35z"/>
<path fill="#f3c4ae" d="M74.52 274.6H80.06V282.55H74.52zM46.81 287.5H57.89V292.44H46.81zM68.97 287.5H74.52V292.44H68.97zM107.77 287.5H118.85V292.44H107.77zM135.47 287.5H141.02V292.44H135.47zM157.64 287.5H163.18V292.44H157.64zM224.14 287.5H235.22V292.44H224.14zM279.56 287.5H285.1V292.44H279.56zM334.98 287.5H346.06V292.44H334.98zM473.52 287.5H479.06V292.44H473.52zM41.27 292.44H68.97V297.39H41.27zM91.14 292.44H102.22V297.39H91.14zM141.02 292.44H146.56V297.39H141.02zM318.35 292.44H323.89V297.39H318.35zM473.52 292.44H479.06V297.39H473.52zM207.52 297.39H213.06V302.34H207.52zM229.68 297.39H240.77V302.34H229.68zM301.73 297.39H307.27V302.34H301.73zM318.35 297.39H323.89V302.34H318.35zM362.68 297.39H368.23V302.34H362.68zM395.93 297.39H418.1V302.34H395.93zM451.35 297.39H456.89V302.34H451.35zM462.43 297.39H467.98V302.34H462.43zM213.06 307.29H224.14V312.23H213.06zM329.43 307.29H340.52V312.23H329.43zM395.93 307.29H401.48V312.23H395.93zM423.64 307.29H429.18V312.23H423.64zM451.35 307.29H456.89V312.23H451.35zM24.64 312.23H30.18V317.18H24.64zM91.14 312.23H124.39V317.18H91.14zM157.64 312.23H168.72V317.18H157.64zM290.64 312.23H296.18V317.18H290.64zM301.73 312.23H307.27V317.18H301.73zM323.89 312.23H329.43V317.18H323.89zM346.06 312.23H351.6V317.18H346.06zM362.68 312.23H368.23V317.18H362.68zM384.85 312.23H401.48V317.18H384.85zM429.18 312.23H440.27V317.18H429.18zM479.06 312.23H487.6V317.18H479.06zM135.47 317.18H146.56V322.13H135.47zM163.18 317.18H251.85V322.13H163.18zM268.48 317.18H274.02V322.13H268.48zM285.1 317.18H323.89V322.13H285.1zM351.6 317.18H357.14V322.13H351.6zM467.98 317.18H473.52V322.13H467.98zM196.43 327.08H213.06V332.02H196.43zM334.98 332.02H340.52V336.97H334.98zM418.1 332.02H429.18V336.97H418.1zM16.1 336.97H30.18V341.92H16.1zM80.06 336.97H85.6V341.92H80.06zM96.68 336.97H102.22V341.92H96.68zM163.18 336.97H168.72V341.92H163.18zM274.02 336.97H301.73V341.92H274.02zM318.35 336.97H323.89V341.92H318.35zM362.68 336.97H368.23V341.92H362.68zM395.93 336.97H401.48V341.92H395.93zM479.06 351.81H487.6V356.76H479.06zM118.85 361.71H124.39V366.66H118.85zM213.06 366.66H218.6V371.6H213.06zM85.6 371.6H118.85V376.55H85.6zM340.52 376.55H346.06V381.5H340.52zM201.97 386.45H207.52V391.39H201.97zM224.14 386.45H235.22V391.39H224.14zM268.48 386.45H274.02V391.39H268.48zM296.18 386.45H301.73V391.39H296.18zM41.27 396.34H63.43V401.29H41.27zM74.52 396.34H80.06V401.29H74.52zM85.6 396.34H91.14V401.29H85.6zM157.64 396.34H163.18V401.29H157.64zM274.02 396.34H279.56V401.29H274.02zM80.06 411.18H85.6V416.13H80.06zM207.52 416.13H213.06V421.08H207.52zM329.43 416.13H334.98V421.08H329.43zM440.27 416.13H451.35V421.08H440.27zM24.64 426.02H30.18V430.97H24.64zM16.1 440.87H24.64V445.82H16.1z"/>
<path fill="#f5bfa6" d="M16.1 287.5H24.64V292.44H16.1zM41.27 287.5H46.81V292.44H41.27zM57.89 287.5H63.43V292.44H57.89zM118.85 287.5H124.39V292.44H118.85zM168.72 287.5H174.27V292.44H168.72zM285.1 287.5H290.64V292.44H285.1zM296.18 287.5H301.73V292.44H296.18zM329.43 287.5H334.98V292.44H329.43zM102.22 292.44H107.77V297.39H102.22zM135.47 292.44H141.02V297.39H135.47zM301.73 292.44H307.27V297.39H301.73zM312.81 292.44H318.35V297.39H312.81zM196.43 297.39H201.97V302.34H196.43zM346.06 297.39H351.6V302.34H346.06zM224.14 307.29H229.68V312.23H224.14zM85.6 312.23H91.14V317.18H85.6zM124.39 312.23H129.93V317.18H124.39zM135.47 312.23H141.02V317.18H135.47zM368.23 312.23H373.77V317.18H368.23zM379.31 312.23H384.85V317.18H379.31zM440.27 312.23H445.81V317.18H440.27zM16.1 317.18H24.64V322.13H16.1zM46.81 317.18H52.35V322.13H46.81zM96.68 317.18H102.22V322.13H96.68zM129.93 317.18H135.47V322.13H129.93zM279.56 317.18H285.1V322.13H279.56zM479.06 317.18H487.6V322.13H479.06zM74.52 336.97H80.06V341.92H74.52zM146.56 336.97H152.1V341.92H146.56zM213.06 336.97H218.6V341.92H213.06zM251.85 336.97H257.39V341.92H251.85zM357.14 336.97H362.68V341.92H357.14zM368.23 336.97H373.77V341.92H368.23zM412.56 336.97H418.1V341.92H412.56zM16.1 356.76H24.64V361.71H16.1zM102.22 361.71H113.31V366.66H102.22zM196.43 386.45H201.97V391.39H196.43zM207.52 386.45H213.06V391.39H207.52zM218.6 386.45H224.14V391.39H218.6zM290.64 386.45H296.18V391.39H290.64zM301.73 386.45H307.27V391.39H301.73zM357.14 386.45H368.23V391.39H357.14zM479.06 386.45H487.6V391.39H479.06zM16.1 396.34H24.64V401.29H16.1zM63.43 396.34H68.97V401.29H63.43zM118.85 396.34H124.39V401.29H118.85zM35.73 416.13H41.27V421.08H35.73zM340.52 416.13H346.06V421.08H340.52z"/>
<path fill="#f6b99e" d="M63.43 287.5H68.97V292.44H63.43zM163.18 287.5H168.72V292.44H163.18zM290.64 287.5H296.18V292.44H290.64zM107.77 292.44H118.85V297.39H107.77zM307.27 292.44H312.81V297.39H307.27zM201.97 297.39H207.52V302.34H201.97zM456.89 297.39H462.43V302.34H456.89zM229.68 307.29H240.77V312.23H229.68zM429.18 307.29H440.27V312.23H429.18zM46.81 312.23H74.52V317.18H46.81zM129.93 312.23H135.47V317.18H129.93zM296.18 312.23H301.73V317.18H296.18zM373.77 312.23H379.31V317.18H373.77zM52.35 317.18H74.52V322.13H52.35zM118.85 317.18H129.93V322.13H118.85zM274.02 317.18H279.56V322.13H274.02zM473.52 317.18H479.06V322.13H473.52zM102.22 336.97H135.47V341.92H102.22zM346.06 336.97H357.14V341.92H346.06zM456.89 336.97H473.52V341.92H456.89zM113.31 361.71H118.85V366.66H113.31zM213.06 386.45H218.6V391.39H213.06zM274.02 386.45H290.64V391.39H274.02zM307.27 386.45H318.35V391.39H307.27zM334.98 386.45H357.14V391.39H334.98zM368.23 386.45H379.31V391.39H368.23zM407.02 386.45H412.56V391.39H407.02zM451.35 386.45H467.98V391.39H451.35zM68.97 396.34H74.52V401.29H68.97zM91.14 396.34H118.85V401.29H91.14zM334.98 416.13H340.52V421.08H334.98z"/>
<path fill="#f6b295" d="M24.64 287.5H30.18V292.44H24.64zM35.73 287.5H41.27V292.44H35.73zM124.39 287.5H135.47V292.44H124.39zM323.89 287.5H329.43V292.44H323.89zM479.06 287.5H487.6V292.44H479.06zM118.85 292.44H124.39V297.39H118.85zM129.93 292.44H135.47V297.39H129.93zM479.06 292.44H487.6V297.39H479.06zM307.27 297.39H318.35V302.34H307.27zM351.6 297.39H362.68V302.34H351.6zM240.77 307.29H246.31V312.23H240.77zM440.27 307.29H451.35V312.23H440.27zM30.18 312.23H35.73V317.18H30.18zM41.27 312.23H46.81V317.18H41.27zM74.52 312.23H85.6V317.18H74.52zM329.43 312.23H334.98V317.18H329.43zM340.52 312.23H346.06V317.18H340.52zM445.81 312.23H451.35V317.18H445.81zM24.64 317.18H30.18V322.13H24.64zM74.52 317.18H80.06V322.13H74.52zM91.14 317.18H96.68V322.13H91.14zM113.31 317.18H118.85V322.13H113.31zM135.47 336.97H146.56V341.92H135.47zM168.72 336.97H174.27V341.92H168.72zM246.31 336.97H251.85V341.92H246.31zM340.52 336.97H346.06V341.92H340.52zM373.77 336.97H379.31V341.92H373.77zM390.39 336.97H395.93V341.92H390.39zM418.1 336.97H423.64V341.92H418.1zM451.35 336.97H456.89V341.92H451.35zM473.52 336.97H479.06V341.92H473.52zM96.68 361.71H102.22V366.66H96.68zM190.89 386.45H196.43V391.39H190.89zM318.35 386.45H323.89V391.39H318.35zM329.43 386.45H334.98V391.39H329.43zM379.31 386.45H384.85V391.39H379.31zM401.48 386.45H407.02V391.39H401.48zM412.56 386.45H418.1V391.39H412.56zM445.81 386.45H451.35V391.39H445.81zM467.98 386.45H479.06V391.39H467.98zM24.64 396.34H30.18V401.29H24.64zM152.1 396.34H157.64V401.29H152.1zM30.18 416.13H35.73V421.08H30.18z"/>
<path fill="#f6ab8d" d="M30.18 287.5H35.73V292.44H30.18zM124.39 292.44H129.93V297.39H124.39zM35.73 312.23H41.27V317.18H35.73zM334.98 312.23H340.52V317.18H334.98zM451.35 312.23H456.89V317.18H451.35zM30.18 317.18H35.73V322.13H30.18zM80.06 317.18H91.14V322.13H80.06zM68.97 336.97H74.52V341.92H68.97zM174.27 336.97H201.97V341.92H174.27zM218.6 336.97H224.14V341.92H218.6zM235.22 336.97H246.31V341.92H235.22zM323.89 336.97H329.43V341.92H323.89zM379.31 336.97H390.39V341.92H379.31zM423.64 336.97H451.35V341.92H423.64zM418.1 351.81H434.73V356.76H418.1zM451.35 351.81H456.89V356.76H451.35zM24.64 356.76H30.18V361.71H24.64zM16.1 386.45H24.64V391.39H16.1zM146.56 386.45H152.1V391.39H146.56zM185.35 386.45H190.89V391.39H185.35zM323.89 386.45H329.43V391.39H323.89zM418.1 386.45H429.18V391.39H418.1zM473.52 416.13H479.06V421.08H473.52zM251.85 426.02H268.48V430.97H251.85zM340.52 426.02H346.06V430.97H340.52zM235.22 440.87H246.31V445.82H235.22zM279.56 440.87H285.1V445.82H279.56zM301.73 440.87H318.35V445.82H301.73z"/>
<path fill="#f5a385" d="M35.73 317.18H41.27V322.13H35.73zM107.77 317.18H113.31V322.13H107.77zM229.68 336.97H235.22V341.92H229.68zM334.98 336.97H340.52V341.92H334.98zM412.56 351.81H418.1V356.76H412.56zM434.73 351.81H440.27V356.76H434.73zM445.81 351.81H451.35V356.76H445.81zM456.89 351.81H462.43V356.76H456.89zM24.64 386.45H30.18V391.39H24.64zM141.02 386.45H146.56V391.39H141.02zM152.1 386.45H157.64V391.39H152.1zM179.81 386.45H185.35V391.39H179.81zM384.85 386.45H390.39V391.39H384.85zM395.93 386.45H401.48V391.39H395.93zM429.18 386.45H434.73V391.39H429.18zM440.27 386.45H445.81V391.39H440.27zM246.31 426.02H251.85V430.97H246.31zM268.48 426.02H274.02V430.97H268.48zM334.98 426.02H340.52V430.97H334.98zM346.06 426.02H351.6V430.97H346.06zM229.68 440.87H235.22V445.82H229.68zM246.31 440.87H251.85V445.82H246.31zM257.39 440.87H268.48V445.82H257.39zM274.02 440.87H279.56V445.82H274.02zM285.1 440.87H290.64V445.82H285.1zM296.18 440.87H301.73V445.82H296.18zM318.35 440.87H323.89V445.82H318.35z"/>
<path fill="#f49c7d" d="M16.1 351.81H24.64V356.76H16.1zM362.68 351.81H368.23V356.76H362.68zM479.06 426.02H487.6V430.97H479.06zM163.18 440.87H168.72V445.82H163.18z"/>
<path fill="#f29475" d="M41.27 317.18H46.81V322.13H41.27zM102.22 317.18H107.77V322.13H102.22zM224.14 336.97H229.68V341.92H224.14zM329.43 336.97H334.98V341.92H329.43zM279.56 351.81H296.18V356.76H279.56zM334.98 351.81H340.52V356.76H334.98zM440.27 351.81H445.81V356.76H440.27zM30.18 386.45H41.27V391.39H30.18zM91.14 386.45H107.77V391.39H91.14zM118.85 386.45H141.02V391.39H118.85zM390.39 386.45H395.93V391.39H390.39zM434.73 386.45H440.27V391.39H434.73zM57.89 426.02H85.6V430.97H57.89zM113.31 426.02H118.85V430.97H113.31zM235.22 426.02H246.31V430.97H235.22zM312.81 426.02H318.35V430.97H312.81zM351.6 426.02H373.77V430.97H351.6zM401.48 426.02H440.27V430.97H401.48zM251.85 440.87H257.39V445.82H251.85zM268.48 440.87H274.02V445.82H268.48zM290.64 440.87H296.18V445.82H290.64zM429.18 440.87H434.73V445.82H429.18z"/>
<path fill="#ef8c6e" d="M329.43 351.81H334.98V356.76H329.43zM340.52 351.81H346.06V356.76H340.52zM407.02 351.81H412.56V356.76H407.02zM85.6 386.45H91.14V391.39H85.6zM107.77 386.45H118.85V391.39H107.77zM52.35 426.02H57.89V430.97H52.35zM85.6 426.02H91.14V430.97H85.6zM107.77 426.02H113.31V430.97H107.77zM118.85 426.02H124.39V430.97H118.85zM229.68 426.02H235.22V430.97H229.68zM307.27 426.02H312.81V430.97H307.27zM318.35 426.02H323.89V430.97H318.35zM329.43 426.02H334.98V430.97H329.43zM395.93 426.02H401.48V430.97H395.93zM440.27 426.02H445.81V430.97H440.27zM224.14 440.87H229.68V445.82H224.14zM434.73 440.87H440.27V445.82H434.73z"/>
<path fill="#ed8467" d="M41.27 336.97H52.35V341.92H41.27zM63.43 336.97H68.97V341.92H63.43zM479.06 341.92H487.6V346.87H479.06zM24.64 351.81H30.18V356.76H24.64zM52.35 351.81H57.89V356.76H52.35zM163.18 351.81H168.72V356.76H163.18zM274.02 351.81H279.56V356.76H274.02zM296.18 351.81H301.73V356.76H296.18zM323.89 351.81H329.43V356.76H323.89zM368.23 351.81H373.77V356.76H368.23zM395.93 351.81H407.02V356.76H395.93zM462.43 351.81H467.98V356.76H462.43zM30.18 356.76H35.73V361.71H30.18zM41.27 386.45H46.81V391.39H41.27zM57.89 386.45H85.6V391.39H57.89zM157.64 386.45H163.18V391.39H157.64zM174.27 386.45H179.81V391.39H174.27zM30.18 426.02H52.35V430.97H30.18zM91.14 426.02H107.77V430.97H91.14zM124.39 426.02H146.56V430.97H124.39zM274.02 426.02H279.56V430.97H274.02zM301.73 426.02H307.27V430.97H301.73zM323.89 426.02H329.43V430.97H323.89zM373.77 426.02H379.31V430.97H373.77zM390.39 426.02H395.93V430.97H390.39zM445.81 426.02H462.43V430.97H445.81zM473.52 426.02H479.06V430.97H473.52zM24.64 440.87H30.18V445.82H24.64zM80.06 440.87H91.14V445.82H80.06zM157.64 440.87H163.18V445.82H157.64zM323.89 440.87H329.43V445.82H323.89zM423.64 440.87H429.18V445.82H423.64z"/>
<path fill="#e97a5f" d="M35.73 336.97H41.27V341.92H35.73zM52.35 336.97H57.89V341.92H52.35zM46.81 351.81H52.35V356.76H46.81zM57.89 351.81H63.43V356.76H57.89zM141.02 351.81H152.1V356.76H141.02zM157.64 351.81H163.18V356.76H157.64zM168.72 351.81H174.27V356.76H168.72zM318.35 351.81H323.89V356.76H318.35zM346.06 351.81H351.6V356.76H346.06zM390.39 351.81H395.93V356.76H390.39zM52.35 386.45H57.89V391.39H52.35zM146.56 426.02H152.1V430.97H146.56zM224.14 426.02H229.68V430.97H224.14zM296.18 426.02H301.73V430.97H296.18zM384.85 426.02H390.39V430.97H384.85zM462.43 426.02H467.98V430.97H462.43zM74.52 440.87H80.06V445.82H74.52zM91.14 440.87H96.68V445.82H91.14zM218.6 440.87H224.14V445.82H218.6zM440.27 440.87H445.81V445.82H440.27z"/>
<path fill="#e57158" d="M16.1 341.92H24.64V346.87H16.1zM196.43 341.92H201.97V346.87H196.43zM207.52 341.92H213.06V346.87H207.52zM312.81 341.92H318.35V346.87H312.81zM412.56 341.92H418.1V346.87H412.56zM434.73 341.92H440.27V346.87H434.73zM118.85 351.81H124.39V356.76H118.85zM129.93 351.81H135.47V356.76H129.93zM179.81 351.81H185.35V356.76H179.81zM235.22 351.81H240.77V356.76H235.22zM251.85 351.81H257.39V356.76H251.85zM262.93 351.81H268.48V356.76H262.93zM379.31 351.81H384.85V356.76H379.31zM157.64 426.02H163.18V430.97H157.64zM168.72 426.02H174.27V430.97H168.72zM179.81 426.02H185.35V430.97H179.81zM201.97 426.02H207.52V430.97H201.97zM213.06 426.02H218.6V430.97H213.06zM285.1 426.02H290.64V430.97H285.1zM102.22 440.87H107.77V445.82H102.22zM124.39 440.87H129.93V445.82H124.39zM135.47 440.87H141.02V445.82H135.47zM146.56 440.87H152.1V445.82H146.56zM346.06 440.87H351.6V445.82H346.06zM357.14 440.87H362.68V445.82H357.14zM368.23 440.87H373.77V445.82H368.23zM401.48 440.87H407.02V445.82H401.48zM412.56 440.87H418.1V445.82H412.56zM456.89 440.87H462.43V445.82H456.89z"/>
<path fill="#e06751" d="M30.18 336.97H35.73V341.92H30.18zM57.89 336.97H63.43V341.92H57.89zM201.97 341.92H207.52V346.87H201.97zM124.39 351.81H129.93V356.76H124.39zM135.47 351.81H141.02V356.76H135.47zM152.1 351.81H157.64V356.76H152.1zM174.27 351.81H179.81V356.76H174.27zM257.39 351.81H262.93V356.76H257.39zM268.48 351.81H274.02V356.76H268.48zM373.77 351.81H379.31V356.76H373.77zM384.85 351.81H390.39V356.76H384.85zM46.81 386.45H52.35V391.39H46.81zM152.1 426.02H157.64V430.97H152.1zM163.18 426.02H168.72V430.97H163.18zM174.27 426.02H179.81V430.97H174.27zM207.52 426.02H213.06V430.97H207.52zM218.6 426.02H224.14V430.97H218.6zM279.56 426.02H285.1V430.97H279.56zM290.64 426.02H296.18V430.97H290.64zM379.31 426.02H384.85V430.97H379.31zM467.98 426.02H473.52V430.97H467.98zM96.68 440.87H102.22V445.82H96.68zM129.93 440.87H135.47V445.82H129.93zM141.02 440.87H146.56V445.82H141.02zM152.1 440.87H157.64V445.82H152.1zM351.6 440.87H357.14V445.82H351.6zM362.68 440.87H368.23V445.82H362.68zM407.02 440.87H412.56V445.82H407.02zM418.1 440.87H423.64V445.82H418.1z"/>
<path fill="#db5c4a" d="M418.1 341.92H423.64V346.87H418.1zM429.18 341.92H434.73V346.87H429.18zM440.27 341.92H445.81V346.87H440.27zM30.18 351.81H35.73V356.76H30.18zM41.27 351.81H46.81V356.76H41.27zM113.31 351.81H118.85V356.76H113.31zM185.35 351.81H190.89V356.76H185.35zM229.68 351.81H235.22V356.76H229.68zM240.77 351.81H251.85V356.76H240.77zM301.73 351.81H307.27V356.76H301.73zM312.81 351.81H318.35V356.76H312.81zM351.6 351.81H357.14V356.76H351.6zM467.98 351.81H473.52V356.76H467.98zM163.18 386.45H174.27V391.39H163.18zM185.35 426.02H190.89V430.97H185.35zM196.43 426.02H201.97V430.97H196.43zM68.97 440.87H74.52V445.82H68.97zM107.77 440.87H113.31V445.82H107.77zM118.85 440.87H124.39V445.82H118.85zM329.43 440.87H334.98V445.82H329.43zM340.52 440.87H346.06V445.82H340.52zM395.93 440.87H401.48V445.82H395.93zM445.81 440.87H456.89V445.82H445.81zM462.43 440.87H467.98V445.82H462.43z"/>
<path fill="#d65243" d="M24.64 341.92H30.18V346.87H24.64zM141.02 341.92H157.64V346.87H141.02zM190.89 341.92H196.43V346.87H190.89zM213.06 341.92H218.6V346.87H213.06zM307.27 341.92H312.81V346.87H307.27zM318.35 341.92H323.89V346.87H318.35zM407.02 341.92H412.56V346.87H407.02zM423.64 341.92H429.18V346.87H423.64zM445.81 341.92H462.43V346.87H445.81zM35.73 351.81H41.27V356.76H35.73zM63.43 351.81H68.97V356.76H63.43zM107.77 351.81H113.31V356.76H107.77zM190.89 351.81H196.43V356.76H190.89zM307.27 351.81H312.81V356.76H307.27zM357.14 351.81H362.68V356.76H357.14zM473.52 351.81H479.06V356.76H473.52zM35.73 356.76H41.27V361.71H35.73zM190.89 426.02H196.43V430.97H190.89zM63.43 440.87H68.97V445.82H63.43zM113.31 440.87H118.85V445.82H113.31zM168.72 440.87H201.97V445.82H168.72zM213.06 440.87H218.6V445.82H213.06zM334.98 440.87H340.52V445.82H334.98zM373.77 440.87H379.31V445.82H373.77zM467.98 440.87H473.52V445.82H467.98z"/>
<path fill="#cf453d" d="M107.77 341.92H118.85V346.87H107.77zM135.47 341.92H141.02V346.87H135.47zM157.64 341.92H163.18V346.87H157.64zM462.43 341.92H467.98V346.87H462.43zM102.22 351.81H107.77V356.76H102.22zM196.43 351.81H201.97V356.76H196.43zM224.14 351.81H229.68V356.76H224.14zM57.89 440.87H63.43V445.82H57.89zM201.97 440.87H207.52V445.82H201.97zM390.39 440.87H395.93V445.82H390.39zM473.52 440.87H479.06V445.82H473.52z"/>
<path fill="#c83836" d="M479.06 356.76H487.6V361.71H479.06z"/>
<path fill="#c12930" d="M41.27 440.87H46.81V445.82H41.27zM207.52 440.87H213.06V445.82H207.52zM479.06 440.87H487.6V445.82H479.06z"/>
<path fill="#ba162b" d="M30.18 341.92H35.73V346.87H30.18zM102.22 341.92H107.77V346.87H102.22zM118.85 341.92H124.39V346.87H118.85zM129.93 341.92H135.47V346.87H129.93zM163.18 341.92H168.72V346.87H163.18zM185.35 341.92H190.89V346.87H185.35zM218.6 341.92H224.14V346.87H218.6zM301.73 341.92H307.27V346.87H301.73zM323.89 341.92H329.43V346.87H323.89zM401.48 341.92H407.02V346.87H401.48zM467.98 341.92H473.52V346.87H467.98zM68.97 351.81H74.52V356.76H68.97zM96.68 351.81H102.22V356.76H96.68zM201.97 351.81H207.52V356.76H201.97zM218.6 351.81H224.14V356.76H218.6zM41.27 356.76H46.81V361.71H41.27zM473.52 356.76H479.06V361.71H473.52zM35.73 440.87H41.27V445.82H35.73zM46.81 440.87H57.89V445.82H46.81zM379.31 440.87H390.39V445.82H379.31z"/>
<path fill="#b30326" d="M35.73 341.92H102.22V346.87H35.73zM124.39 341.92H129.93V346.87H124.39zM168.72 341.92H185.35V346.87H168.72zM224.14 341.92H301.73V346.87H224.14zM329.43 341.92H401.48V346.87H329.43zM473.52 341.92H479.06V346.87H473.52zM16.1 346.87H487.6V351.81H16.1zM74.52 351.81H96.68V356.76H74.52zM207.52 351.81H218.6V356.76H207.52zM46.81 356.76H473.52V361.71H46.81zM30.18 440.87H35.73V445.82H30.18zM16.1 465.61H487.6V470.55H16.1z"/>
</g></g>
<rect x="19.1" y="277.6" width="465.5" height="197.9" fill="none" stroke="#262626" stroke-width="0.8"/>
<line x1="21.8708" y1="475.5" x2="21.8708" y2="478.5" stroke="#262626" stroke-width="0.7"/>
<text x="21.8708" y="487.4" font-size="8.3" text-anchor="middle">0</text>
<line x1="141.201" y1="475.5" x2="141.201" y2="478.5" stroke="#262626" stroke-width="0.7"/>
<text x="141.201" y="487.4" font-size="8.3" text-anchor="middle">0.5</text>
<line x1="260.531" y1="475.5" x2="260.531" y2="478.5" stroke="#262626" stroke-width="0.7"/>
<text x="260.531" y="487.4" font-size="8.3" text-anchor="middle">1</text>
<line x1="379.86" y1="475.5" x2="379.86" y2="478.5" stroke="#262626" stroke-width="0.7"/>
<text x="379.86" y="487.4" font-size="8.3" text-anchor="middle">1.5</text>
<text x="251.85" y="500.3" font-size="10.2" text-anchor="middle">Time</text>
<text transform="translate(13.9 376.55) rotate(-90)" font-size="10.1" text-anchor="middle">MFC Coefficient</text>
<rect x="513.5" y="277.6" width="9.9" height="197.9" fill="url(#cw)" stroke="#262626" stroke-width="0.8"/>
<line x1="523.4" y1="277.6" x2="525.6" y2="277.6" stroke="#262626" stroke-width="0.7"/>
<text x="529.6" y="280.5" font-size="8.3">30</text>
<line x1="523.4" y1="310.583" x2="525.6" y2="310.583" stroke="#262626" stroke-width="0.7"/>
<text x="529.6" y="313.483" font-size="8.3">20</text>
<line x1="523.4" y1="343.567" x2="525.6" y2="343.567" stroke="#262626" stroke-width="0.7"/>
<text x="529.6" y="346.467" font-size="8.3">10</text>
<line x1="523.4" y1="376.55" x2="525.6" y2="376.55" stroke="#262626" stroke-width="0.7"/>
<text x="529.6" y="379.45" font-size="8.3">0</text>
<line x1="523.4" y1="409.533" x2="525.6" y2="409.533" stroke="#262626" stroke-width="0.7"/>
<text x="530.1" y="412.433" font-size="8.3" textLength="3.4" lengthAdjust="spacingAndGlyphs">−</text>
<text x="534.3" y="412.433" font-size="8.3">10</text>
<line x1="523.4" y1="442.517" x2="525.6" y2="442.517" stroke="#262626" stroke-width="0.7"/>
<text x="530.1" y="445.417" font-size="8.3" textLength="3.4" lengthAdjust="spacingAndGlyphs">−</text>
<text x="534.3" y="445.417" font-size="8.3">20</text>
<line x1="523.4" y1="475.5" x2="525.6" y2="475.5" stroke="#262626" stroke-width="0.7"/>
<text x="530.1" y="478.4" font-size="8.3" textLength="3.4" lengthAdjust="spacingAndGlyphs">−</text>
<text x="534.3" y="478.4" font-size="8.3">30</text>
<text class="cap" x="304.3" y="528.8" font-size="17.5" text-anchor="middle">(<tspan font-weight="bold">b</tspan>)</text>
</svg>
</body></html>
